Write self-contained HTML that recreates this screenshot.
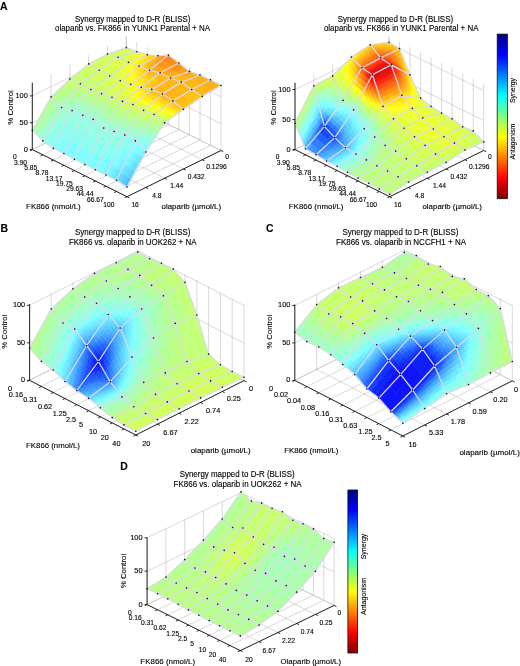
<!DOCTYPE html><html><head><meta charset="utf-8"><title>Figure</title><style>html,body{margin:0;padding:0;background:#fff}svg{display:block}text{font-family:"Liberation Sans",sans-serif;fill:#000;stroke:#000;stroke-width:0.12px}</style></head><body>
<svg width="520" height="666" viewBox="0 0 520 666">
<rect width="520" height="666" fill="#fff"/>
<g>
<path d="M32.3 149.6L126.3 103.4M42.8 154.8L136.8 108.6M53.3 160.1L147.3 113.9M63.9 165.3L157.9 119.1M74.4 170.5L168.4 124.3M84.9 175.8L178.9 129.6M95.4 181L189.4 134.8M106 186.2L200 140M116.5 191.5L210.5 145.3M127 196.7L221 150.5M32.3 149.6L127 196.7M51.1 140.4L145.8 187.5M69.9 131.1L164.6 178.2M88.7 121.9L183.4 169M107.5 112.6L202.2 159.7M126.3 103.4L221 150.5M32.3 149.6L32.3 82.8M51.1 140.4L51.1 73.6M69.9 131.1L69.9 64.3M88.7 121.9L88.7 55.1M107.5 112.6L107.5 45.8M126.3 103.4L126.3 36.6M126.3 103.4L126.3 36.6M136.8 108.6L136.8 41.8M147.3 113.9L147.3 47.1M157.9 119.1L157.9 52.3M168.4 124.3L168.4 57.5M178.9 129.6L178.9 62.8M189.4 134.8L189.4 68M200 140L200 73.2M210.5 145.3L210.5 78.5M221 150.5L221 83.7M32.3 149.6L126.3 103.4M126.3 103.4L221 150.5M32.3 122.8L126.3 76.6M126.3 76.6L221 123.7M32.3 95.9L126.3 49.7M126.3 49.7L221 96.8" stroke="#bfbfbf" stroke-width="0.6" fill="none"/>
<path d="M107.5 54.1L112.8 55.6L122.2 52.6L116.9 50.8ZM88.7 63.9L94 67L103.4 61.3L98.1 59ZM98.1 59L103.4 61.3L112.8 55.6L107.5 54.1ZM79.3 71.5L84.6 74.2L94 67L88.7 63.9ZM84.6 74.2L89.8 77L99.2 70.2L94 67ZM90.9 89.5L96.2 91.6L105.6 84.9L100.3 82.7ZM96.2 91.6L101.5 93.7L110.9 87.2L105.6 84.9ZM101.5 93.7L105 94.9L111.2 90.5L107.7 89.3ZM105 94.9L108.5 96.1L114.7 91.7L111.2 90.5ZM116.6 105.8L118.8 106.8L122.5 101.4L120.4 100.6ZM118.8 106.8L120.9 107.4L124.6 102.1L122.5 101.4ZM120.9 107.4L123 108L126.7 102.7L124.6 102.1ZM123 108L125.1 108.7L128.8 103.3L126.7 102.7ZM125.1 108.7L127.2 109.3L130.9 103.9L128.8 103.3ZM160.1 119.3L161.6 120.5L164.3 118.6L162.8 117.4ZM161.6 120.5L163.1 121.7L165.8 119.8L164.3 118.6ZM145.4 115.7L146.9 116.3L149.6 112.7L148.1 112.1ZM146.9 116.3L148.4 117L151.1 113.3L149.6 112.7ZM148.4 117L149.9 117.6L152.6 113.9L151.1 113.3ZM149.9 117.6L151.4 118.2L154.1 114.5L152.6 113.9ZM151.7 117.8L153 118.9L155.4 115.5L154.1 114.5Z" fill="#ceff64" stroke="#ceff64" stroke-width="0.5"/>
<path d="M116.9 50.8L122.2 52.6L131.6 49.6L126.3 47.6ZM112.8 55.6L118 57.2L127.4 54.5L122.2 52.6ZM94 67L99.2 70.2L108.6 63.7L103.4 61.3ZM103.4 61.3L108.6 63.7L118 57.2L112.8 55.6ZM99.2 70.2L104.5 73.1L113.9 66.4L108.6 63.7ZM89.8 77L95.1 79.8L104.5 73.1L99.2 70.2ZM95.1 79.8L100.3 82.7L109.7 76L104.5 73.1ZM100.3 82.7L105.6 84.9L115 78.3L109.7 76ZM107.7 89.3L111.2 90.5L117.5 86.2L114 85ZM108.5 96.1L112 97.3L118.3 92.9L114.7 91.7ZM112 97.3L114.6 98.3L119.3 95L116.7 94ZM114.6 98.3L117.2 99.4L122 96L119.3 95ZM127.2 109.3L129.3 109.9L133 104.5L130.9 103.9ZM129.9 109L131.7 109.9L134.8 105.5L133 104.5ZM131.7 109.9L133.4 110.8L136.5 106.4L134.8 105.5ZM133.4 110.8L135.2 111.7L138.3 107.4L136.5 106.4ZM135.2 111.7L136.9 112.6L140 108.4L138.3 107.4ZM136.9 112.6L138.7 113.5L141.8 109.3L140 108.4ZM138.7 113.5L140.4 114.4L143.6 110.3L141.8 109.3ZM155.6 115.7L157.1 116.9L159.8 114.9L158.3 113.7ZM157.1 116.9L158.6 118.1L161.3 116.1L159.8 114.9ZM158.6 118.1L160.1 119.3L162.8 117.4L161.3 116.1ZM140.9 113.8L142.4 114.5L145.1 110.9L143.6 110.3ZM142.4 114.5L143.9 115.1L146.6 111.5L145.1 110.9ZM143.9 115.1L145.4 115.7L148.1 112.1L146.6 111.5Z" fill="#d4ff5b" stroke="#d4ff5b" stroke-width="0.5"/>
<path d="M122.2 52.6L127.4 54.5L136.8 51.7L131.6 49.6ZM118 57.2L121.5 58.9L127.8 56.9L124.3 55.4ZM108.6 63.7L113.9 66.4L123.3 59.8L118 57.2ZM104.5 73.1L109.7 76L119.1 69.2L113.9 66.4ZM109.7 76L112.4 77.1L117.1 73.7L114.4 72.6ZM112.4 77.1L115 78.3L119.7 74.8L117.1 73.7ZM105.6 84.9L110.9 87.2L120.3 80.7L115 78.3ZM111.2 90.5L114.7 91.7L121 87.4L117.5 86.2ZM114.7 91.7L118.3 92.9L124.5 88.6L121 87.4ZM116.7 94L119.3 95L124 91.7L121.4 90.8ZM117.2 99.4L119.9 100.4L124.6 96.9L122 96ZM119.9 100.4L122.5 101.4L127.2 97.9L124.6 96.9ZM122.5 101.4L124.6 102.1L128.4 99.2L126.3 98.6ZM124.6 102.1L126.7 102.7L130.5 99.8L128.4 99.2ZM150.6 113.1L152.3 113.8L155.5 111.4L153.7 110.7ZM152.3 113.8L154.1 114.5L157.2 112.2L155.5 111.4ZM154.1 114.5L155.6 115.7L158.3 113.7L156.8 112.5ZM162.8 117.4L164.3 118.6L167 116.6L165.5 115.4ZM164.3 118.6L165.8 119.8L168.5 117.8L167 116.6ZM165.8 119.8L167.3 121L170 119L168.5 117.8Z" fill="#daff51" stroke="#daff51" stroke-width="0.5"/>
<path d="M124.3 55.4L127.8 56.9L134.1 54.8L130.6 53.5ZM121.5 58.9L125 60.7L131.3 58.4L127.8 56.9ZM113.9 66.4L119.1 69.2L128.5 62.4L123.3 59.8ZM114.4 72.6L117.1 73.7L121.8 70.2L119.1 69.2ZM119.1 69.2L121.8 70.2L126.5 66.8L123.8 65.8ZM117.1 73.7L119.7 74.8L124.4 71.3L121.8 70.2ZM115 78.3L117.6 79.5L122.3 75.9L119.7 74.8ZM114 85L117.5 86.2L123.8 81.9L120.3 80.7ZM117.5 86.2L121 87.4L127.3 83.1L123.8 81.9ZM119.3 95L122 96L126.7 92.6L124 91.7ZM122 96L124.6 96.9L129.3 93.5L126.7 92.6ZM126.7 102.7L128.8 103.3L132.6 100.3L130.5 99.8ZM128.8 103.3L130.9 103.9L134.7 100.9L132.6 100.3ZM130.9 103.9L133 104.5L136.8 101.5L134.7 100.9ZM133 104.5L135.1 105.7L138.9 102.6L136.8 101.5ZM135.1 105.7L137.2 106.8L141 103.7L138.9 102.6ZM137.2 106.8L139.3 108L143.1 104.8L141 103.7ZM139.3 108L141.5 109.1L145.2 105.9L143.1 104.8ZM141.5 109.1L143.6 110.3L147.3 107.1L145.2 105.9ZM143.6 110.3L145.3 111L148.4 108.4L146.7 107.6ZM145.3 111L147.1 111.7L150.2 109.1L148.4 108.4ZM147.1 111.7L148.8 112.4L151.9 109.9L150.2 109.1ZM148.8 112.4L150.6 113.1L153.7 110.7L151.9 109.9ZM159.8 114.9L161.3 116.1L164 114.2L162.5 113ZM161.3 116.1L162.8 117.4L165.5 115.4L164 114.2Z" fill="#e0ff48" stroke="#e0ff48" stroke-width="0.5"/>
<path d="M130.6 53.5L134.1 54.8L140.3 52.7L136.8 51.7ZM127.8 56.9L131.3 58.4L137.6 56.1L134.1 54.8ZM125 60.7L128.5 62.4L134.8 59.9L131.3 58.4ZM123.8 65.8L126.5 66.8L131.2 63.3L128.5 62.4ZM119.7 74.8L122.3 75.9L127 72.3L124.4 71.3ZM117.6 79.5L120.3 80.7L125 77L122.3 75.9ZM120.3 80.7L122.4 81.4L126.1 78.5L124 77.7ZM122.4 81.4L124.5 82.1L128.2 79.2L126.1 78.5ZM121 87.4L124.5 88.6L130.8 84.3L127.3 83.1ZM121.4 90.8L124 91.7L128.7 88.4L126.1 87.5ZM124 91.7L126.7 92.6L131.4 89.2L128.7 88.4ZM124.6 96.9L127.2 97.9L131.9 94.4L129.3 93.5ZM126.3 98.6L128.4 99.2L132.1 96.3L130 95.8ZM128.4 99.2L130.5 99.8L134.2 96.9L132.1 96.3ZM156.8 112.5L158.3 113.7L161 111.8L159.4 110.6ZM158.3 113.7L159.8 114.9L162.5 113L161 111.8ZM167 116.6L168.5 117.8L171.2 115.9L169.7 114.7ZM168.5 117.8L170 119L172.7 117.1L171.2 115.9Z" fill="#e7ff3d" stroke="#e7ff3d" stroke-width="0.5"/>
<path d="M134.1 54.8L137.6 56.1L143.8 53.8L140.3 52.7ZM128.5 62.4L130.6 63.2L134.4 61.5L132.3 60.9ZM121.8 70.2L124.4 71.3L129.1 67.8L126.5 66.8ZM122.3 75.9L125 77L129.7 73.4L127 72.3ZM124 77.7L126.1 78.5L129.9 75.6L127.8 74.8ZM124.5 82.1L126.6 82.8L130.3 80L128.2 79.2ZM126.6 82.8L128.7 83.6L132.4 80.7L130.3 80ZM126.1 87.5L128.7 88.4L133.4 85.1L130.8 84.3ZM126.7 92.6L129.3 93.5L134 90L131.4 89.2ZM130.5 99.8L132.6 100.3L136.3 97.4L134.2 96.9ZM132.6 100.3L134.7 100.9L138.4 97.9L136.3 97.4ZM146.7 107.6L148.4 108.4L151.6 105.7L149.8 104.9ZM148.4 108.4L150.2 109.1L153.3 106.6L151.6 105.7ZM150.2 109.1L151.9 109.9L155.1 107.4L153.3 106.6ZM151.9 109.9L153.7 110.7L156.8 108.3L155.1 107.4ZM153.7 110.7L155.5 111.4L158.6 109.1L156.8 108.3ZM155.5 111.4L157.2 112.2L160.3 109.9L158.6 109.1ZM162.5 113L164 114.2L166.6 112.3L165.1 111.1ZM164 114.2L165.5 115.4L168.1 113.5L166.6 112.3ZM165.5 115.4L167 116.6L169.7 114.7L168.1 113.5Z" fill="#eeff33" stroke="#eeff33" stroke-width="0.5"/>
<path d="M131.3 58.4L134.8 59.9L141.1 57.3L137.6 56.1ZM132.3 60.9L134.4 61.5L138.2 59.9L136.1 59.4ZM130.6 63.2L132.8 63.9L136.5 62.1L134.4 61.5ZM126.5 66.8L129.1 67.8L133.8 64.2L131.2 63.3ZM124.4 71.3L127 72.3L131.7 68.7L129.1 67.8ZM126.1 78.5L128.2 79.2L132 76.3L129.9 75.6ZM128.7 83.6L130.8 84.3L134.5 81.5L132.4 80.7ZM128.7 88.4L131.4 89.2L136.1 85.8L133.4 85.1ZM129.3 93.5L131.9 94.4L136.6 90.9L134 90ZM130 95.8L132.1 96.3L135.9 93.5L133.8 93ZM132.1 96.3L134.2 96.9L138 94L135.9 93.5ZM134.7 100.9L136.8 101.5L140.6 98.5L138.4 97.9ZM136.8 101.5L138.9 102.6L142.7 99.5L140.6 98.5ZM138.9 102.6L141 103.7L144.8 100.6L142.7 99.5ZM141 103.7L143.1 104.8L146.9 101.7L144.8 100.6ZM143.1 104.8L145.2 105.9L149 102.7L146.9 101.7ZM145.2 105.9L147.3 107.1L151.1 103.8L149 102.7ZM159.4 110.6L161 111.8L163.6 109.9L162.1 108.7ZM161 111.8L162.5 113L165.1 111.1L163.6 109.9ZM171.2 115.9L172.7 117.1L175.3 115.2L173.8 114Z" fill="#f6ff28" stroke="#f6ff28" stroke-width="0.5"/>
<path d="M137.6 56.1L141.1 57.3L147.3 54.8L143.8 53.8ZM136.1 59.4L138.2 59.9L141.9 58.3L139.8 57.8ZM134.4 61.5L136.5 62.1L140.3 60.4L138.2 59.9ZM129.1 67.8L131.7 68.7L136.4 65.1L133.8 64.2ZM127 72.3L129.7 73.4L134.4 69.7L131.7 68.7ZM127.8 74.8L129.9 75.6L133.7 72.7L131.5 71.9ZM128.2 79.2L130.3 80L134.1 77.1L132 76.3ZM130.3 80L132.4 80.7L136.2 77.9L134.1 77.1ZM130.8 84.3L133.4 85.1L138.1 81.5L135.5 80.8ZM131.4 89.2L134 90L138.7 86.6L136.1 85.8ZM134.2 96.9L136.3 97.4L140.1 94.5L138 94ZM155.1 107.4L156.8 108.3L160 105.9L158.2 104.9ZM156.8 108.3L158.6 109.1L161.7 106.8L160 105.9ZM158.6 109.1L160.3 109.9L163.5 107.7L161.7 106.8ZM166.6 112.3L168.1 113.5L170.8 111.6L169.3 110.3ZM168.1 113.5L169.7 114.7L172.3 112.8L170.8 111.6ZM169.7 114.7L171.2 115.9L173.8 114L172.3 112.8Z" fill="#feff1d" stroke="#feff1d" stroke-width="0.5"/>
<path d="M139.8 57.8L141.9 58.3L145.7 56.6L143.6 56.3ZM138.2 59.9L140.3 60.4L144 58.7L141.9 58.3ZM132.8 63.9L134.9 64.6L138.6 62.8L136.5 62.1ZM131.7 68.7L134.4 69.7L139.1 66L136.4 65.1ZM131.5 71.9L133.7 72.7L137.4 69.8L135.3 69ZM129.9 75.6L132 76.3L135.8 73.5L133.7 72.7ZM132.4 80.7L134.5 81.5L138.3 78.7L136.2 77.9ZM133.4 85.1L136.1 85.8L140.8 82.2L138.1 81.5ZM134 90L136.6 90.9L141.3 87.4L138.7 86.6ZM133.8 93L135.9 93.5L139.7 90.6L137.6 90.2ZM135.9 93.5L138 94L141.8 91.1L139.7 90.6ZM136.3 97.4L138.4 97.9L142.2 94.9L140.1 94.5ZM138.4 97.9L140.6 98.5L144.3 95.4L142.2 94.9ZM149.8 104.9L151.6 105.7L154.7 103.1L153 102.2ZM151.6 105.7L153.3 106.6L156.5 104L154.7 103.1ZM153.3 106.6L155.1 107.4L158.2 104.9L156.5 104ZM162.1 108.7L163.6 109.9L166.3 107.9L164.8 106.7ZM163.6 109.9L165.1 111.1L167.8 109.1L166.3 107.9ZM165.1 111.1L166.6 112.3L169.3 110.3L167.8 109.1ZM173.8 114L175.3 115.2L178 113.2L176.5 112Z" fill="#fff819" stroke="#fff819" stroke-width="0.5"/>
<path d="M143.6 56.3L145.7 56.6L149.4 55L147.3 54.8ZM136.5 62.1L138.6 62.8L142.4 60.9L140.3 60.4ZM134.9 64.6L137 65.3L140.7 63.4L138.6 62.8ZM133.7 72.7L135.8 73.5L139.5 70.6L137.4 69.8ZM132 76.3L134.1 77.1L137.9 74.3L135.8 73.5ZM134.1 77.1L136.2 77.9L140 75L137.9 74.3ZM136.1 85.8L138.7 86.6L143.4 83L140.8 82.2ZM138 94L140.1 94.5L143.9 91.5L141.8 91.1ZM140.6 98.5L142.7 99.5L146.4 96.5L144.3 95.4ZM142.7 99.5L144.8 100.6L148.5 97.5L146.4 96.5ZM144.8 100.6L146.9 101.7L150.6 98.5L148.5 97.5ZM146.9 101.7L149 102.7L152.7 99.5L150.6 98.5ZM149 102.7L151.1 103.8L154.8 100.6L152.7 99.5ZM169.3 110.3L170.8 111.6L173.5 109.6L172 108.4ZM170.8 111.6L172.3 112.8L175 110.8L173.5 109.6ZM172.3 112.8L173.8 114L176.5 112L175 110.8Z" fill="#fff019" stroke="#fff019" stroke-width="0.5"/>
<path d="M141.9 58.3L144 58.7L147.8 56.9L145.7 56.6ZM140.3 60.4L142.4 60.9L146.1 59.1L144 58.7ZM138.6 62.8L140.7 63.4L144.5 61.4L142.4 60.9ZM137 65.3L139.1 66L142.8 64L140.7 63.4ZM135.3 69L137.4 69.8L141.2 66.9L139.1 66ZM135.8 73.5L137.9 74.3L141.6 71.4L139.5 70.6ZM136.2 77.9L138.3 78.7L142.1 75.8L140 75ZM135.5 80.8L138.1 81.5L142.8 77.9L140.2 77.2ZM138.1 81.5L140.8 82.2L145.4 78.7L142.8 77.9ZM138.7 86.6L141.3 87.4L146 83.7L143.4 83ZM137.6 90.2L139.7 90.6L143.4 87.8L141.3 87.4ZM139.7 90.6L141.8 91.1L145.5 88.2L143.4 87.8ZM140.1 94.5L142.2 94.9L146 92L143.9 91.5ZM153 102.2L154.7 103.1L157.8 100.5L156.1 99.5ZM154.7 103.1L156.5 104L159.6 101.5L157.8 100.5ZM156.5 104L158.2 104.9L161.3 102.5L159.6 101.5ZM158.2 104.9L160 105.9L163.1 103.4L161.3 102.5ZM160 105.9L161.7 106.8L164.9 104.4L163.1 103.4ZM161.7 106.8L163.5 107.7L166.6 105.4L164.9 104.4ZM164.8 106.7L166.3 107.9L169 106L167.5 104.8ZM166.3 107.9L167.8 109.1L170.5 107.2L169 106ZM167.8 109.1L169.3 110.3L172 108.4L170.5 107.2Z" fill="#ffe718" stroke="#ffe718" stroke-width="0.5"/>
<path d="M145.7 56.6L147.8 56.9L151.6 55.2L149.4 55ZM144 58.7L146.1 59.1L149.9 57.2L147.8 56.9ZM142.4 60.9L144.5 61.4L148.2 59.5L146.1 59.1ZM140.7 63.4L142.8 64L146.6 61.9L144.5 61.4ZM139.1 66L141.2 66.9L144.9 64.6L142.8 64ZM137.4 69.8L139.5 70.6L143.3 67.7L141.2 66.9ZM137.9 74.3L140 75L143.7 72.2L141.6 71.4ZM140.8 82.2L143.4 83L148.1 79.4L145.4 78.7ZM141.8 91.1L143.9 91.5L147.6 88.6L145.5 88.2ZM142.2 94.9L144.3 95.4L148.1 92.4L146 92ZM144.3 95.4L146.4 96.5L150.2 93.4L148.1 92.4ZM146.4 96.5L148.5 97.5L152.3 94.4L150.2 93.4ZM148.5 97.5L150.6 98.5L154.4 95.4L152.3 94.4ZM173.5 109.6L175 110.8L177.7 108.9L176.2 107.7ZM175 110.8L176.5 112L179.2 110.1L177.7 108.9ZM176.5 112L178 113.2L180.7 111.3L179.2 110.1Z" fill="#ffde18" stroke="#ffde18" stroke-width="0.5"/>
<path d="M147.8 56.9L149.9 57.2L153.7 55.4L151.6 55.2ZM146.1 59.1L148.2 59.5L152 57.5L149.9 57.2ZM144.5 61.4L146.6 61.9L150.3 59.9L148.2 59.5ZM142.8 64L144.9 64.6L148.7 62.4L146.6 61.9ZM141.2 66.9L143.3 67.7L147 65.3L144.9 64.6ZM139.5 70.6L141.6 71.4L145.4 68.5L143.3 67.7ZM140 75L142.1 75.8L145.8 73L143.7 72.2ZM140.2 77.2L142.8 77.9L147.5 74.4L144.9 73.7ZM143.4 83L146 83.7L150.7 80.1L148.1 79.4ZM141.3 87.4L144.8 88L151.1 83.5L147.6 82.5ZM143.9 91.5L146 92L149.7 89L147.6 88.6ZM150.6 98.5L152.7 99.5L156.5 96.3L154.4 95.4ZM152.7 99.5L154.8 100.6L158.6 97.3L156.5 96.3ZM156.1 99.5L157.8 100.5L161 97.8L159.2 96.8ZM157.8 100.5L159.6 101.5L162.7 98.9L161 97.8ZM159.6 101.5L161.3 102.5L164.5 100L162.7 98.9ZM161.3 102.5L163.1 103.4L166.2 101L164.5 100ZM163.1 103.4L164.9 104.4L168 102.1L166.2 101ZM164.9 104.4L166.6 105.4L169.7 103.2L168 102.1ZM169 106L170.5 107.2L173.2 105.3L171.7 104.1ZM170.5 107.2L172 108.4L174.7 106.5L173.2 105.3ZM172 108.4L173.5 109.6L176.2 107.7L174.7 106.5Z" fill="#ffd518" stroke="#ffd518" stroke-width="0.5"/>
<path d="M149.9 57.2L152 57.5L155.8 55.5L153.7 55.4ZM141.6 71.4L143.7 72.2L147.5 69.4L145.4 68.5ZM142.8 77.9L145.4 78.7L150.2 75.1L147.5 74.4ZM145.4 78.7L148.1 79.4L152.8 75.7L150.2 75.1ZM147.6 82.5L151.1 83.5L157.4 79L153.8 77.6ZM144.8 88L148.3 88.7L154.6 84.6L151.1 83.5ZM146 92L148.1 92.4L151.8 89.4L149.7 89ZM167.5 104.8L169 106L171.7 104.1L170.2 102.9ZM177.7 108.9L179.2 110.1L181.9 108.2L180.4 107ZM179.2 110.1L180.7 111.3L183.4 109.4L181.9 108.2Z" fill="#ffcc17" stroke="#ffcc17" stroke-width="0.5"/>
<path d="M148.2 59.5L150.3 59.9L154.1 57.8L152 57.5ZM146.6 61.9L148.7 62.4L152.5 60.1L150.3 59.9ZM144.9 64.6L147 65.3L150.8 62.8L148.7 62.4ZM143.3 67.7L145.4 68.5L149.1 65.9L147 65.3ZM143.7 72.2L145.8 73L149.6 70.2L147.5 69.4ZM148.1 79.4L150.7 80.1L155.4 76.4L152.8 75.7ZM151.1 83.5L154.6 84.6L160.9 80.4L157.4 79ZM148.3 88.7L151.8 89.4L158.1 85.6L154.6 84.6ZM148.1 92.4L150.2 93.4L153.9 90.3L151.8 89.4ZM150.2 93.4L152.3 94.4L156 91.3L153.9 90.3ZM152.3 94.4L154.4 95.4L158.1 92.2L156 91.3ZM154.4 95.4L156.5 96.3L160.3 93.1L158.1 92.2ZM182.3 95.2L187.5 99L196.9 93L191.7 89.5ZM178.1 105.1L183.4 109.4L192.8 102.9L187.5 99ZM187.5 99L192.8 102.9L202.2 96.4L196.9 93ZM171.7 104.1L173.2 105.3L175.9 103.3L174.4 102.1ZM173.2 105.3L174.7 106.5L177.4 104.5L175.9 103.3ZM174.7 106.5L176.2 107.7L178.9 105.7L177.4 104.5ZM176.2 107.7L177.7 108.9L180.4 107L178.9 105.7Z" fill="#ffc217" stroke="#ffc217" stroke-width="0.5"/>
<path d="M152 57.5L154.1 57.8L157.9 55.7L155.8 55.5ZM150.3 59.9L152.5 60.1L156.2 57.9L154.1 57.8ZM148.7 62.4L150.8 62.8L154.6 60.4L152.5 60.1ZM147 65.3L149.1 65.9L152.9 63.3L150.8 62.8ZM145.4 68.5L147.5 69.4L151.2 66.5L149.1 65.9ZM144.9 73.7L147.5 74.4L152.2 70.8L149.6 70.2ZM147.5 74.4L150.2 75.1L154.9 71.5L152.2 70.8ZM150.2 75.1L152.8 75.7L157.5 72.1L154.9 71.5ZM152.8 75.7L155.4 76.4L160.1 72.8L157.5 72.1ZM170.6 78L175.9 80.1L185.3 76.7L180 74.7ZM175.9 80.1L181.2 82.1L190.6 78.6L185.3 76.7ZM153.8 77.6L157.4 79L163.6 74.5L160.1 72.8ZM157.4 79L160.9 80.4L167.1 76.2L163.6 74.5ZM154.6 84.6L158.1 85.6L164.4 81.8L160.9 80.4ZM160.9 80.4L164.4 81.8L170.6 78L167.1 76.2ZM181.2 82.1L186.4 85.8L195.8 81.6L190.6 78.6ZM186.4 85.8L191.7 89.5L201.1 84.6L195.8 81.6ZM151.8 89.4L157.1 91.7L166.5 85.9L161.2 83.7ZM161.2 83.7L166.5 85.9L175.9 80.1L170.6 78ZM157.1 91.7L162.4 94.1L171.8 88.1L166.5 85.9ZM166.5 85.9L171.8 88.1L181.2 82.1L175.9 80.1ZM191.7 89.5L196.9 93L206.3 87.8L201.1 84.6ZM196.9 93L202.2 96.4L211.6 90.9L206.3 87.8ZM171.8 88.1L177 91.7L186.4 85.8L181.2 82.1ZM167.6 97.5L172.9 100.9L182.3 95.2L177 91.7ZM177 91.7L182.3 95.2L191.7 89.5L186.4 85.8ZM156.5 96.3L158.6 97.3L162.4 94.1L160.3 93.1ZM172.9 100.9L178.1 105.1L187.5 99L182.3 95.2ZM159.2 96.8L161 97.8L164.1 95.2L162.4 94.1ZM161 97.8L162.7 98.9L165.9 96.4L164.1 95.2ZM162.7 98.9L164.5 100L167.6 97.5L165.9 96.4ZM164.5 100L166.2 101L169.4 98.6L167.6 97.5ZM166.2 101L168 102.1L171.1 99.8L169.4 98.6ZM168 102.1L169.7 103.2L172.9 100.9L171.1 99.8ZM170.2 102.9L171.7 104.1L174.4 102.1L172.9 100.9Z" fill="#ffb916" stroke="#ffb916" stroke-width="0.5"/>
<path d="M154.1 57.8L156.2 57.9L160 55.6L157.9 55.7ZM152.5 60.1L154.6 60.4L158.3 57.9L156.2 57.9ZM150.8 62.8L152.9 63.3L156.7 60.6L154.6 60.4ZM149.1 65.9L151.2 66.5L155 63.7L152.9 63.3ZM147.5 69.4L149.6 70.2L153.3 67.2L151.2 66.5ZM165.4 75.4L170.6 78L180 74.7L174.8 71.3ZM185.3 76.7L190.6 78.6L200 75.1L194.7 73.2ZM190.6 78.6L195.8 81.6L205.2 77.4L200 75.1ZM195.8 81.6L201.1 84.6L210.5 79.8L205.2 77.4ZM201.1 84.6L206.3 87.8L215.7 82.6L210.5 79.8ZM206.3 87.8L211.6 90.9L221 85.5L215.7 82.6ZM162.4 94.1L167.6 97.5L177 91.7L171.8 88.1Z" fill="#ffb016" stroke="#ffb016" stroke-width="0.5"/>
<path d="M156.2 57.9L158.3 57.9L162.1 55.5L160 55.6ZM154.6 60.4L156.7 60.6L160.4 58L158.3 57.9ZM152.9 63.3L155 63.7L158.8 60.9L156.7 60.6ZM151.2 66.5L153.3 67.2L157.1 64.1L155 63.7ZM149.6 70.2L153.1 71.1L159.4 66.6L155.9 65.2ZM153.1 71.1L156.6 71.9L162.9 68.1L159.4 66.6ZM156.6 71.9L160.1 72.8L166.4 69.5L162.9 68.1ZM160.1 72.8L165.4 75.4L174.8 71.3L169.5 67.9ZM180 74.7L185.3 76.7L194.7 73.2L189.4 71.4Z" fill="#ffa616" stroke="#ffa616" stroke-width="0.5"/>
<path d="M158.3 57.9L160.4 58L164.2 55.3L162.1 55.5ZM156.7 60.6L158.8 60.9L162.5 58L160.4 58ZM155 63.7L157.1 64.1L160.9 61.1L158.8 60.9ZM162.9 68.1L166.4 69.5L172.6 66.2L169.1 64.2ZM174.8 71.3L180 74.7L189.4 71.4L184.2 67.2Z" fill="#ff9d15" stroke="#ff9d15" stroke-width="0.5"/>
<path d="M160.4 58L162.5 58L166.3 55.2L164.2 55.3ZM158.8 60.9L160.9 61.1L164.6 58.1L162.5 58ZM165.6 62.2L169.1 64.2L175.4 60.3L171.9 57.7ZM169.1 64.2L172.6 66.2L178.9 63L175.4 60.3Z" fill="#ff8a14" stroke="#ff8a14" stroke-width="0.5"/>
<path d="M162.5 58L164.6 58.1L168.4 55.1L166.3 55.2ZM162.1 60.1L165.6 62.2L171.9 57.7L168.4 55.1Z" fill="#ff8014" stroke="#ff8014" stroke-width="0.5"/>
<path d="M69.9 79L75.2 81.4L84.6 74.2L79.3 71.5ZM75.2 81.4L80.4 83.7L89.8 77L84.6 74.2ZM80.4 83.7L85.7 86.6L95.1 79.8L89.8 77ZM85.7 86.6L90.9 89.5L100.3 82.7L95.1 79.8ZM63.6 85L67.1 87.2L73.4 80.6L69.9 79ZM104 100.2L106.1 101L109.9 96.6L107.8 95.8ZM106.1 101L108.2 101.7L112 97.3L109.9 96.6ZM108.2 101.7L110.3 102.7L114.1 98.1L112 97.3ZM110.3 102.7L112.4 103.7L116.2 98.9L114.1 98.1ZM112.4 103.7L114.5 104.7L118.3 99.8L116.2 98.9ZM114.5 104.7L116.6 105.8L120.4 100.6L118.3 99.8ZM163.1 121.7L164.6 122.9L167.3 121L165.8 119.8ZM138.2 117.4L139.7 118L142.4 114.5L140.9 113.8ZM139.7 118L141.2 118.7L143.9 115.1L142.4 114.5ZM153 118.9L154.4 120L156.7 116.6L155.4 115.5ZM154.4 120L155.7 121.1L158 117.6L156.7 116.6ZM155.7 121.1L157 122.2L159.3 118.7L158 117.6Z" fill="#c8ff6f" stroke="#c8ff6f" stroke-width="0.5"/>
<path d="M155.9 65.2L159.4 66.6L165.6 62.2L162.1 60.1ZM159.4 66.6L162.9 68.1L169.1 64.2L165.6 62.2ZM169.5 67.9L174.8 71.3L184.2 67.2L178.9 63Z" fill="#ff9315" stroke="#ff9315" stroke-width="0.5"/>
<path d="M51.1 96.9L54.6 100.4L60.9 93.8L57.4 90.9ZM71 95.6L73.7 96.7L78.4 90.9L75.7 89.7ZM73.7 96.7L76.3 97.8L81 92.2L78.4 90.9ZM46.4 105.2L49 107.9L53.7 99.5L51.1 96.9ZM93.9 102.3L96.1 103.1L99.8 98.7L97.7 98ZM96.1 103.1L98.2 103.8L101.9 99.5L99.8 98.7ZM98.2 103.8L100.3 104.6L104 100.2L101.9 99.5ZM100.3 104.6L102.4 105.4L106.1 101L104 100.2ZM102.4 105.4L104.5 106.1L108.2 101.7L106.1 101ZM104.5 106.1L106.6 107.3L110.3 102.7L108.2 101.7ZM123.6 118L125.4 118.8L128.5 114.4L126.8 113.5ZM125.4 118.8L127.1 119.6L130.3 115.2L128.5 114.4ZM127.1 119.6L128.9 120.4L132 116L130.3 115.2ZM128.9 120.4L130.6 121.1L133.8 116.9L132 116ZM130.6 121.1L132.4 121.9L135.5 117.7L133.8 116.9ZM132.4 121.9L134.2 122.7L137.3 118.6L135.5 117.7ZM137 121.6L138.5 122.3L141.2 118.7L139.7 118ZM138.5 122.3L140 123L142.7 119.4L141.2 118.7ZM140 123L141.5 123.7L144.2 120L142.7 119.4ZM141.5 123.7L143 124.4L145.7 120.7L144.2 120ZM143 124.4L144.5 125.1L147.2 121.3L145.7 120.7ZM147 124.4L148.3 125.5L150.7 122.2L149.4 121.1ZM154.6 125.6L156 126.8L158.3 123.3L157 122.2ZM156 126.8L157.3 127.9L159.6 124.3L158.3 123.3Z" fill="#b9ff8d" stroke="#b9ff8d" stroke-width="0.5"/>
<path d="M57.4 90.9L60.9 93.8L67.1 87.2L63.6 85ZM60.9 93.8L64.4 96.7L70.6 89.4L67.1 87.2ZM106.6 107.3L108.7 108.5L112.4 103.7L110.3 102.7ZM108.7 108.5L110.8 109.7L114.5 104.7L112.4 103.7ZM110.8 109.7L112.9 110.9L116.6 105.8L114.5 104.7ZM112.9 110.9L115 112.1L118.8 106.8L116.6 105.8ZM115 112.1L117.1 112.8L120.9 107.4L118.8 106.8ZM117.1 112.8L119.2 113.4L123 108L120.9 107.4ZM119.2 113.4L121.3 114L125.1 108.7L123 108ZM135.5 120.9L137 121.6L139.7 118L138.2 117.4ZM150.7 122.2L152 123.3L154.4 120L153 118.9ZM152 123.3L153.3 124.5L155.7 121.1L154.4 120ZM153.3 124.5L154.6 125.6L157 122.2L155.7 121.1ZM160.9 125.4L162.2 126.5L164.6 122.9L163.3 121.9Z" fill="#beff83" stroke="#beff83" stroke-width="0.5"/>
<path d="M54.6 100.4L58.1 103.9L64.4 96.7L60.9 93.8ZM64.4 96.7L67.9 99.6L74.2 91.6L70.6 89.4ZM76.3 97.8L78.9 98.9L83.6 93.5L81 92.2ZM78.9 98.9L81.5 100L86.2 94.8L83.6 93.5ZM37 121.9L39.6 124.6L44.3 116.2L41.7 113.6ZM41.7 113.6L44.3 116.2L49 107.9L46.4 105.2ZM81.5 100L84.2 101.1L88.9 95.8L86.2 94.8ZM84.2 101.1L86.8 102.2L91.5 96.9L88.9 95.8ZM86.8 102.2L89.4 103.3L94.1 98L91.5 96.9ZM89.4 103.3L92.1 104.5L96.8 99.1L94.1 98ZM111.2 117.5L113.3 118.1L117.1 112.8L115 112.1ZM113.3 118.1L115.4 118.8L119.2 113.4L117.1 112.8ZM115.4 118.8L117.5 119.4L121.3 114L119.2 113.4ZM117.5 119.4L119.6 120.1L123.4 114.7L121.3 114ZM119.6 120.1L121.8 120.7L125.5 115.3L123.4 114.7ZM144.5 125.1L146 125.8L148.7 122L147.2 121.3ZM148.3 125.5L149.7 126.7L152 123.3L150.7 122.2ZM149.7 126.7L151 127.9L153.3 124.5L152 123.3ZM151 127.9L152.3 129.1L154.6 125.6L153.3 124.5ZM157.3 127.9L158.6 129L160.9 125.4L159.6 124.3ZM158.6 129L159.9 130.2L162.2 126.5L160.9 125.4Z" fill="#b4ff97" stroke="#b4ff97" stroke-width="0.5"/>
<path d="M67.1 87.2L70.6 89.4L76.9 82.2L73.4 80.6ZM70.6 89.4L74.2 91.6L80.4 83.7L76.9 82.2ZM75.7 89.7L78.4 90.9L83.1 85.2L80.4 83.7ZM78.4 90.9L81 92.2L85.7 86.6L83.1 85.2ZM81 92.2L83.6 93.5L88.3 88.1L85.7 86.6ZM83.6 93.5L86.2 94.8L90.9 89.5L88.3 88.1ZM86.2 94.8L88.9 95.8L93.6 90.5L90.9 89.5ZM88.9 95.8L91.5 96.9L96.2 91.6L93.6 90.5ZM91.5 96.9L94.1 98L98.8 92.6L96.2 91.6ZM94.1 98L96.8 99.1L101.5 93.7L98.8 92.6ZM97.7 98L99.8 98.7L103.6 94.4L101.5 93.7ZM99.8 98.7L101.9 99.5L105.7 95.1L103.6 94.4ZM101.9 99.5L104 100.2L107.8 95.8L105.7 95.1ZM121.3 114L123.4 114.7L127.2 109.3L125.1 108.7ZM123.4 114.7L125.5 115.3L129.3 109.9L127.2 109.3ZM126.8 113.5L128.5 114.4L131.7 109.9L129.9 109ZM128.5 114.4L130.3 115.2L133.4 110.8L131.7 109.9ZM130.3 115.2L132 116L135.2 111.7L133.4 110.8ZM132 116L133.8 116.9L136.9 112.6L135.2 111.7ZM133.8 116.9L135.5 117.7L138.7 113.5L136.9 112.6ZM135.5 117.7L137.3 118.6L140.4 114.4L138.7 113.5ZM141.2 118.7L142.7 119.4L145.4 115.7L143.9 115.1ZM142.7 119.4L144.2 120L146.9 116.3L145.4 115.7ZM144.2 120L145.7 120.7L148.4 117L146.9 116.3ZM145.7 120.7L147.2 121.3L149.9 117.6L148.4 117ZM147.2 121.3L148.7 122L151.4 118.2L149.9 117.6ZM149.4 121.1L150.7 122.2L153 118.9L151.7 117.8ZM157 122.2L158.3 123.3L160.7 119.7L159.3 118.7ZM158.3 123.3L159.6 124.3L162 120.8L160.7 119.7ZM159.6 124.3L160.9 125.4L163.3 121.9L162 120.8Z" fill="#c3ff79" stroke="#c3ff79" stroke-width="0.5"/>
<path d="M58.1 103.9L61.6 107.5L67.9 99.6L64.4 96.7ZM69 102.5L71.6 103.4L76.3 97.8L73.7 96.7ZM71.6 103.4L74.2 104.3L78.9 98.9L76.3 97.8ZM39.6 124.6L42.3 127.2L47 118.9L44.3 116.2ZM51.7 110.5L54.3 113.2L59 104.8L56.4 102.2ZM125.8 124.7L127.5 125.4L130.6 121.1L128.9 120.4ZM127.5 125.4L129.3 126.1L132.4 121.9L130.6 121.1ZM129.3 126.1L131 126.8L134.2 122.7L132.4 121.9ZM140.3 128.1L141.8 128.8L144.5 125.1L143 124.4ZM141.8 128.8L143.3 129.6L146 125.8L144.5 125.1ZM146 128.9L147.3 130.1L149.7 126.7L148.3 125.5ZM147.3 130.1L148.6 131.3L151 127.9L149.7 126.7ZM154.9 131.5L156.2 132.6L158.6 129L157.3 127.9ZM156.2 132.6L157.6 133.8L159.9 130.2L158.6 129Z" fill="#abffad" stroke="#abffad" stroke-width="0.5"/>
<path d="M61.6 107.5L64.3 108.2L69 102.5L66.3 101.5ZM74.2 104.3L76.8 105.3L81.5 100L78.9 98.9ZM34.9 132.9L37.6 135.6L42.3 127.2L39.6 124.6ZM47 118.9L49.6 121.5L54.3 113.2L51.7 110.5ZM76.8 105.3L79.5 106.4L84.2 101.1L81.5 100ZM79.5 106.4L82.1 107.6L86.8 102.2L84.2 101.1ZM82.1 107.6L84.7 108.7L89.4 103.3L86.8 102.2ZM84.7 108.7L87.4 109.9L92.1 104.5L89.4 103.3ZM92.7 113.4L94.8 114.2L98.6 109.8L96.5 109ZM94.8 114.2L96.9 115L100.7 110.6L98.6 109.8ZM96.9 115L99.1 116.5L102.8 111.9L100.7 110.6ZM99.1 116.5L101.2 118.1L104.9 113.3L102.8 111.9ZM101.2 118.1L103.3 119.7L107 114.7L104.9 113.3ZM103.3 119.7L105.4 121.2L109.1 116.1L107 114.7ZM105.4 121.2L107.5 122.8L111.2 117.5L109.1 116.1ZM107.5 122.8L109.6 123.5L113.3 118.1L111.2 117.5ZM109.6 123.5L111.7 124.1L115.4 118.8L113.3 118.1ZM111.7 124.1L113.8 124.8L117.5 119.4L115.4 118.8ZM113.8 124.8L115.9 125.4L119.6 120.1L117.5 119.4ZM115.9 125.4L118 126.1L121.8 120.7L119.6 120.1ZM130.1 128L131.6 128.8L134.3 125.2L132.8 124.5ZM131.6 128.8L133.1 129.5L135.8 125.9L134.3 125.2ZM133.1 129.5L134.6 130.3L137.3 126.7L135.8 125.9ZM134.6 130.3L136.1 131.1L138.8 127.4L137.3 126.7ZM142.3 131L143.6 132.2L146 128.9L144.7 127.7ZM148.6 131.3L149.9 132.6L152.3 129.1L151 127.9ZM149.9 132.6L151.3 133.8L153.6 130.3L152.3 129.1ZM151.3 133.8L152.6 135L154.9 131.5L153.6 130.3Z" fill="#a8ffb7" stroke="#a8ffb7" stroke-width="0.5"/>
<path d="M66.3 101.5L69 102.5L73.7 96.7L71 95.6ZM32.3 130.3L34.9 132.9L39.6 124.6L37 121.9ZM44.3 116.2L47 118.9L51.7 110.5L49 107.9ZM49 107.9L51.7 110.5L56.4 102.2L53.7 99.5ZM90.2 106.6L92.3 107.4L96.1 103.1L93.9 102.3ZM92.3 107.4L94.4 108.2L98.2 103.8L96.1 103.1ZM94.4 108.2L96.5 109L100.3 104.6L98.2 103.8ZM96.5 109L98.6 109.8L102.4 105.4L100.3 104.6ZM98.6 109.8L100.7 110.6L104.5 106.1L102.4 105.4ZM100.7 110.6L102.8 111.9L106.6 107.3L104.5 106.1ZM102.8 111.9L104.9 113.3L108.7 108.5L106.6 107.3ZM104.9 113.3L107 114.7L110.8 109.7L108.7 108.5ZM107 114.7L109.1 116.1L112.9 110.9L110.8 109.7ZM109.1 116.1L111.2 117.5L115 112.1L112.9 110.9ZM120.5 122.5L122.3 123.2L125.4 118.8L123.6 118ZM122.3 123.2L124 123.9L127.1 119.6L125.4 118.8ZM124 123.9L125.8 124.7L128.9 120.4L127.1 119.6ZM132.8 124.5L134.3 125.2L137 121.6L135.5 120.9ZM134.3 125.2L135.8 125.9L138.5 122.3L137 121.6ZM135.8 125.9L137.3 126.7L140 123L138.5 122.3ZM137.3 126.7L138.8 127.4L141.5 123.7L140 123ZM138.8 127.4L140.3 128.1L143 124.4L141.5 123.7ZM144.7 127.7L146 128.9L148.3 125.5L147 124.4ZM152.3 129.1L153.6 130.3L156 126.8L154.6 125.6ZM153.6 130.3L154.9 131.5L157.3 127.9L156 126.8Z" fill="#b0ffa2" stroke="#b0ffa2" stroke-width="0.5"/>
<path d="M64.3 108.2L66.9 109L71.6 103.4L69 102.5ZM42.3 127.2L44.9 129.9L49.6 121.5L47 118.9ZM54.3 113.2L56.9 115.8L61.6 107.5L59 104.8ZM86.4 110.9L88.5 111.7L92.3 107.4L90.2 106.6ZM88.5 111.7L90.6 112.6L94.4 108.2L92.3 107.4ZM90.6 112.6L92.7 113.4L96.5 109L94.4 108.2ZM117.4 127L119.1 127.7L122.3 123.2L120.5 122.5ZM119.1 127.7L120.9 128.3L124 123.9L122.3 123.2ZM120.9 128.3L122.6 129L125.8 124.7L124 123.9ZM122.6 129L124.4 129.6L127.5 125.4L125.8 124.7ZM124.4 129.6L126.1 130.3L129.3 126.1L127.5 125.4ZM126.1 130.3L127.9 131L131 126.8L129.3 126.1ZM136.1 131.1L137.6 131.8L140.3 128.1L138.8 127.4ZM137.6 131.8L139.1 132.6L141.8 128.8L140.3 128.1ZM139.1 132.6L140.6 133.3L143.3 129.6L141.8 128.8ZM143.6 132.2L145 133.5L147.3 130.1L146 128.9ZM145 133.5L146.3 134.8L148.6 131.3L147.3 130.1ZM152.6 135L153.9 136.2L156.2 132.6L154.9 131.5ZM153.9 136.2L155.2 137.5L157.6 133.8L156.2 132.6Z" fill="#a4ffc1" stroke="#a4ffc1" stroke-width="0.5"/>
<path d="M66.9 109L69.5 109.8L74.2 104.3L71.6 103.4ZM69.5 109.8L72.1 110.6L76.8 105.3L74.2 104.3ZM37.6 135.6L40.2 138.2L44.9 129.9L42.3 127.2ZM49.6 121.5L52.2 124.2L56.9 115.8L54.3 113.2ZM55.4 118.6L58.9 120.1L65.1 108.5L61.6 107.5ZM127.4 131.6L128.9 132.4L131.6 128.8L130.1 128ZM128.9 132.4L130.4 133.1L133.1 129.5L131.6 128.8ZM130.4 133.1L132 133.9L134.6 130.3L133.1 129.5ZM140 134.3L141.3 135.6L143.6 132.2L142.3 131ZM146.3 134.8L147.6 136L149.9 132.6L148.6 131.3ZM147.6 136L148.9 137.3L151.3 133.8L149.9 132.6ZM148.9 137.3L150.2 138.6L152.6 135L151.3 133.8Z" fill="#a1ffca" stroke="#a1ffca" stroke-width="0.5"/>
<path d="M40.2 138.2L42.8 140.9L47.5 132.5L44.9 129.9ZM49.1 129.7L52.6 131.7L58.9 120.1L55.4 118.6ZM62.4 121.6L65.9 123.1L72.1 110.6L68.6 109.5ZM121.2 133.9L123 134.5L126.1 130.3L124.4 129.6ZM123 134.5L124.8 135.1L127.9 131L126.1 130.3ZM124.8 135.1L126.3 135.9L128.9 132.4L127.4 131.6ZM126.3 135.9L127.8 136.8L130.4 133.1L128.9 132.4ZM137.6 137.6L138.9 138.9L141.3 135.6L140 134.3ZM143.9 138.2L145.2 139.5L147.6 136L146.3 134.8ZM145.2 139.5L146.6 140.8L148.9 137.3L147.6 136Z" fill="#99ffdb" stroke="#99ffdb" stroke-width="0.5"/>
<path d="M44.9 129.9L47.5 132.5L52.2 124.2L49.6 121.5ZM72.1 110.6L74.8 111.7L79.5 106.4L76.8 105.3ZM74.8 111.7L77.4 112.9L82.1 107.6L79.5 106.4ZM77.4 112.9L80 114.1L84.7 108.7L82.1 107.6ZM80 114.1L82.7 115.2L87.4 109.9L84.7 108.7ZM58.9 120.1L62.4 121.6L68.6 109.5L65.1 108.5ZM82.7 115.2L84.8 116.1L88.5 111.7L86.4 110.9ZM84.8 116.1L86.9 116.9L90.6 112.6L88.5 111.7ZM86.9 116.9L89 117.7L92.7 113.4L90.6 112.6ZM89 117.7L91.1 118.6L94.8 114.2L92.7 113.4ZM91.1 118.6L93.2 119.4L96.9 115L94.8 114.2ZM93.2 119.4L95.3 121.2L99.1 116.5L96.9 115ZM95.3 121.2L97.4 122.9L101.2 118.1L99.1 116.5ZM97.4 122.9L99.5 124.6L103.3 119.7L101.2 118.1ZM99.5 124.6L101.6 126.4L105.4 121.2L103.3 119.7ZM101.6 126.4L103.7 128.1L107.5 122.8L105.4 121.2ZM103.7 128.1L105.8 128.8L109.6 123.5L107.5 122.8ZM105.8 128.8L107.9 129.5L111.7 124.1L109.6 123.5ZM107.9 129.5L110 130.1L113.8 124.8L111.7 124.1ZM110 130.1L112.1 130.8L115.9 125.4L113.8 124.8ZM112.1 130.8L114.2 131.5L118 126.1L115.9 125.4ZM114.2 131.5L116 132.1L119.1 127.7L117.4 127ZM116 132.1L117.7 132.7L120.9 128.3L119.1 127.7ZM117.7 132.7L119.5 133.3L122.6 129L120.9 128.3ZM119.5 133.3L121.2 133.9L124.4 129.6L122.6 129ZM132 133.9L133.5 134.7L136.1 131.1L134.6 130.3ZM133.5 134.7L135 135.5L137.6 131.8L136.1 131.1ZM135 135.5L136.5 136.3L139.1 132.6L137.6 131.8ZM136.5 136.3L138 137.1L140.6 133.3L139.1 132.6ZM141.3 135.6L142.6 136.9L145 133.5L143.6 132.2ZM142.6 136.9L143.9 138.2L146.3 134.8L145 133.5ZM150.2 138.6L151.5 139.8L153.9 136.2L152.6 135ZM151.5 139.8L152.8 141.1L155.2 137.5L153.9 136.2Z" fill="#9effd3" stroke="#9effd3" stroke-width="0.5"/>
<path d="M42.8 140.9L46.3 143.3L52.6 131.7L49.1 129.7ZM52.6 131.7L56.1 133.7L62.4 121.6L58.9 120.1ZM65.9 123.1L69.4 124.7L75.7 112.1L72.1 110.6ZM69.4 124.7L72.9 126.4L79.2 113.7L75.7 112.1ZM72.9 126.4L76.4 128L82.7 115.2L79.2 113.7ZM76.4 128L79.9 129.6L86.2 116.6L82.7 115.2ZM79.9 129.6L83.4 131.1L89.7 118L86.2 116.6ZM83.4 131.1L86.9 132.7L93.2 119.4L89.7 118ZM86.9 132.7L90.4 135.2L96.7 122.3L93.2 119.4ZM90.4 135.2L93.9 137.7L100.2 125.2L96.7 122.3ZM93.9 137.7L97.4 140.3L103.7 128.1L100.2 125.2ZM97.4 140.3L101 141.6L107.2 129.2L103.7 128.1ZM101 141.6L104.5 142.9L110.7 130.4L107.2 129.2ZM104.5 142.9L108 144.2L114.2 131.5L110.7 130.4ZM127.8 136.8L129.3 137.6L132 133.9L130.4 133.1ZM129.3 137.6L130.8 138.4L133.5 134.7L132 133.9ZM130.8 138.4L132.3 139.2L135 135.5L133.5 134.7ZM132.3 139.2L133.8 140.1L136.5 136.3L135 135.5ZM108 144.2L111.5 145.6L117.7 132.7L114.2 131.5ZM138.9 138.9L140.3 140.3L142.6 136.9L141.3 135.6ZM140.3 140.3L141.6 141.6L143.9 138.2L142.6 136.9ZM146.6 140.8L147.9 142.1L150.2 138.6L148.9 137.3ZM147.9 142.1L149.2 143.4L151.5 139.8L150.2 138.6ZM149.2 143.4L150.5 144.7L152.8 141.1L151.5 139.8Z" fill="#94ffe2" stroke="#94ffe2" stroke-width="0.5"/>
<path d="M46.3 143.3L49.8 145.8L56.1 133.7L52.6 131.7ZM56.1 133.7L59.6 135.7L65.9 123.1L62.4 121.6ZM133.8 140.1L135.3 140.9L138 137.1L136.5 136.3ZM111.5 145.6L115 147L121.2 133.9L117.7 132.7ZM115 147L118.5 148.4L124.8 135.1L121.2 133.9ZM135.3 140.9L136.6 142.3L138.9 138.9L137.6 137.6ZM141.6 141.6L142.9 143L145.2 139.5L143.9 138.2ZM142.9 143L144.2 144.3L146.6 140.8L145.2 139.5ZM120.1 145.1L122.7 146.5L127.4 136.5L124.8 135.1Z" fill="#8fffe8" stroke="#8fffe8" stroke-width="0.5"/>
<path d="M49.8 145.8L53.3 148.3L59.6 135.7L56.1 133.7ZM53.3 148.3L56.9 150L63.1 137.4L59.6 135.7ZM101.7 157L105.2 158.5L111.5 145.6L108 144.2ZM105.2 158.5L108.7 160.1L115 147L111.5 145.6ZM108.7 160.1L112.2 161.7L118.5 148.4L115 147ZM139.2 145.1L140.5 146.4L142.9 143L141.6 141.6ZM140.5 146.4L141.9 147.8L144.2 144.3L142.9 143ZM146.8 147L148.2 148.4L150.5 144.7L149.2 143.4ZM115.4 155L118 156.4L122.7 146.5L120.1 145.1ZM127.9 149.3L130.6 150.7L135.3 140.9L132.6 139.4ZM131.5 148.7L133.6 150.8L137.4 143.1L135.3 140.9Z" fill="#87fff5" stroke="#87fff5" stroke-width="0.5"/>
<path d="M59.6 135.7L63.1 137.4L69.4 124.7L65.9 123.1ZM63.1 137.4L66.6 139.1L72.9 126.4L69.4 124.7ZM66.6 139.1L70.1 140.7L76.4 128L72.9 126.4ZM70.1 140.7L73.6 142.5L79.9 129.6L76.4 128ZM73.6 142.5L77.1 144.2L83.4 131.1L79.9 129.6ZM77.1 144.2L80.7 146L86.9 132.7L83.4 131.1ZM80.7 146L84.2 148.1L90.4 135.2L86.9 132.7ZM84.2 148.1L87.7 150.2L93.9 137.7L90.4 135.2ZM87.7 150.2L91.2 152.4L97.4 140.3L93.9 137.7ZM91.2 152.4L94.7 153.9L101 141.6L97.4 140.3ZM94.7 153.9L98.2 155.4L104.5 142.9L101 141.6ZM98.2 155.4L101.7 157L108 144.2L104.5 142.9ZM136.6 142.3L137.9 143.7L140.3 140.3L138.9 138.9ZM137.9 143.7L139.2 145.1L141.6 141.6L140.3 140.3ZM144.2 144.3L145.5 145.7L147.9 142.1L146.6 140.8ZM145.5 145.7L146.8 147L149.2 143.4L147.9 142.1ZM122.7 146.5L125.3 147.9L130 138L127.4 136.5ZM125.3 147.9L127.9 149.3L132.6 139.4L130 138Z" fill="#8bffef" stroke="#8bffef" stroke-width="0.5"/>
<path d="M56.9 150L60.4 151.7L66.6 139.1L63.1 137.4ZM141.9 147.8L143.2 149.2L145.5 145.7L144.2 144.3ZM143.2 149.2L144.5 150.6L146.8 147L145.5 145.7ZM118 156.4L120.6 157.8L125.3 147.9L122.7 146.5ZM120.6 157.8L123.2 159.2L127.9 149.3L125.3 147.9ZM133.6 150.8L135.7 152.9L139.5 145.3L137.4 143.1Z" fill="#83fffb" stroke="#83fffb" stroke-width="0.5"/>
<path d="M60.4 151.7L63.9 153.5L70.1 140.7L66.6 139.1ZM63.9 153.5L67.4 155.4L73.6 142.5L70.1 140.7ZM67.4 155.4L70.9 157.3L77.1 144.2L73.6 142.5ZM70.9 157.3L74.4 159.3L80.7 146L77.1 144.2ZM74.4 159.3L77.9 161L84.2 148.1L80.7 146ZM77.9 161L81.4 162.7L87.7 150.2L84.2 148.1ZM81.4 162.7L84.9 164.5L91.2 152.4L87.7 150.2ZM84.9 164.5L88.4 166.2L94.7 153.9L91.2 152.4ZM88.4 166.2L91.9 168L98.2 155.4L94.7 153.9ZM91.9 168L95.4 169.7L101.7 157L98.2 155.4ZM95.4 169.7L98.9 171.5L105.2 158.5L101.7 157ZM98.9 171.5L102.4 173.2L108.7 160.1L105.2 158.5ZM144.5 150.6L145.8 152L148.2 148.4L146.8 147ZM110.7 165L113.3 166.3L118 156.4L115.4 155ZM113.3 166.3L115.9 167.7L120.6 157.8L118 156.4ZM123.2 159.2L125.9 160.5L130.6 150.7L127.9 149.3ZM127.8 156.6L129.9 158.5L133.6 150.8L131.5 148.7ZM135.7 152.9L137.8 154.9L141.6 147.6L139.5 145.3Z" fill="#7dfeff" stroke="#7dfeff" stroke-width="0.5"/>
<path d="M102.4 173.2L106 175L112.2 161.7L108.7 160.1ZM106 175L108.6 176.3L113.3 166.3L110.7 165ZM115.9 167.7L118.5 169L123.2 159.2L120.6 157.8ZM124 164.5L126.1 166.2L129.9 158.5L127.8 156.6ZM129.9 158.5L132 160.4L135.7 152.9L133.6 150.8ZM137.8 154.9L139.9 157L143.7 149.8L141.6 147.6Z" fill="#78f8ff" stroke="#78f8ff" stroke-width="0.5"/>
<path d="M108.6 176.3L111.2 177.6L115.9 167.7L113.3 166.3ZM118.5 169L121.2 170.4L125.9 160.5L123.2 159.2ZM126.1 166.2L128.2 167.9L132 160.4L129.9 158.5ZM132 160.4L134.1 162.3L137.8 154.9L135.7 152.9ZM139.9 157L142 159L145.8 152L143.7 149.8Z" fill="#73f2ff" stroke="#73f2ff" stroke-width="0.5"/>
<path d="M111.2 177.6L113.8 178.9L118.5 169L115.9 167.7ZM120.2 172.3L122.3 173.9L126.1 166.2L124 164.5ZM128.2 167.9L130.3 169.6L134.1 162.3L132 160.4ZM134.1 162.3L136.2 164.1L139.9 157L137.8 154.9Z" fill="#6eebff" stroke="#6eebff" stroke-width="0.5"/>
<path d="M113.8 178.9L116.5 180.2L121.2 170.4L118.5 169ZM122.3 173.9L124.4 175.4L128.2 167.9L126.1 166.2ZM136.2 164.1L138.3 166L142 159L139.9 157Z" fill="#69e4ff" stroke="#69e4ff" stroke-width="0.5"/>
<path d="M116.5 180.2L118.6 181.6L122.3 173.9L120.2 172.3ZM124.4 175.4L126.6 176.9L130.3 169.6L128.2 167.9ZM130.3 169.6L132.4 171.3L136.2 164.1L134.1 162.3ZM132.4 171.3L134.5 173L138.3 166L136.2 164.1Z" fill="#65ddff" stroke="#65ddff" stroke-width="0.5"/>
<path d="M118.6 181.6L120.7 182.9L124.4 175.4L122.3 173.9ZM126.6 176.9L128.7 178.5L132.4 171.3L130.3 169.6Z" fill="#60d6ff" stroke="#60d6ff" stroke-width="0.5"/>
<path d="M120.7 182.9L122.8 184.3L126.6 176.9L124.4 175.4ZM128.7 178.5L130.8 180L134.5 173L132.4 171.3Z" fill="#5bceff" stroke="#5bceff" stroke-width="0.5"/>
<path d="M122.8 184.3L124.9 185.7L128.7 178.5L126.6 176.9Z" fill="#56c6ff" stroke="#56c6ff" stroke-width="0.5"/>
<path d="M124.9 185.7L127 187L130.8 180L128.7 178.5Z" fill="#51bdff" stroke="#51bdff" stroke-width="0.5"/>
<path d="M32.3 130.3L51.1 96.9L69.9 79L88.7 63.9L107.5 54.1L126.3 47.6M42.8 140.9L61.6 107.5L80.4 83.7L99.2 70.2L118 57.2L136.8 51.7M53.3 148.3L72.1 110.6L90.9 89.5L109.7 76L128.5 62.4L147.3 54.8M63.9 153.5L82.7 115.2L101.5 93.7L120.3 80.7L139.1 66L157.9 55.7M74.4 159.3L93.2 119.4L112 97.3L130.8 84.3L149.6 70.2L168.4 55.1M84.9 164.5L103.7 128.1L122.5 101.4L141.3 87.4L160.1 72.8L178.9 63M95.4 169.7L114.2 131.5L133 104.5L151.8 89.4L170.6 78L189.4 71.4M106 175L124.8 135.1L143.6 110.3L162.4 94.1L181.2 82.1L200 75.1M116.5 180.2L135.3 140.9L154.1 114.5L172.9 100.9L191.7 89.5L210.5 79.8M127 187L145.8 152L164.6 122.9L183.4 109.4L202.2 96.4L221 85.5M32.3 130.3L42.8 140.9L53.3 148.3L63.9 153.5L74.4 159.3L84.9 164.5L95.4 169.7L106 175L116.5 180.2L127 187M51.1 96.9L61.6 107.5L72.1 110.6L82.7 115.2L93.2 119.4L103.7 128.1L114.2 131.5L124.8 135.1L135.3 140.9L145.8 152M69.9 79L80.4 83.7L90.9 89.5L101.5 93.7L112 97.3L122.5 101.4L133 104.5L143.6 110.3L154.1 114.5L164.6 122.9M88.7 63.9L99.2 70.2L109.7 76L120.3 80.7L130.8 84.3L141.3 87.4L151.8 89.4L162.4 94.1L172.9 100.9L183.4 109.4M107.5 54.1L118 57.2L128.5 62.4L139.1 66L149.6 70.2L160.1 72.8L170.6 78L181.2 82.1L191.7 89.5L202.2 96.4M126.3 47.6L136.8 51.7L147.3 54.8L157.9 55.7L168.4 55.1L178.9 63L189.4 71.4L200 75.1L210.5 79.8L221 85.5" stroke="#dadaea" stroke-width="1.25" fill="none" stroke-linejoin="round"/>
<path d="M32.3 130.3h0.01M51.1 96.9h0.01M69.9 79h0.01M88.7 63.9h0.01M107.5 54.1h0.01M126.3 47.6h0.01M42.8 140.9h0.01M61.6 107.5h0.01M80.4 83.7h0.01M99.2 70.2h0.01M118 57.2h0.01M136.8 51.7h0.01M53.3 148.3h0.01M72.1 110.6h0.01M90.9 89.5h0.01M109.7 76h0.01M128.5 62.4h0.01M147.3 54.8h0.01M63.9 153.5h0.01M82.7 115.2h0.01M101.5 93.7h0.01M120.3 80.7h0.01M139.1 66h0.01M157.9 55.7h0.01M74.4 159.3h0.01M93.2 119.4h0.01M112 97.3h0.01M130.8 84.3h0.01M149.6 70.2h0.01M168.4 55.1h0.01M84.9 164.5h0.01M103.7 128.1h0.01M122.5 101.4h0.01M141.3 87.4h0.01M160.1 72.8h0.01M178.9 63h0.01M95.4 169.7h0.01M114.2 131.5h0.01M133 104.5h0.01M151.8 89.4h0.01M170.6 78h0.01M189.4 71.4h0.01M106 175h0.01M124.8 135.1h0.01M143.6 110.3h0.01M162.4 94.1h0.01M181.2 82.1h0.01M200 75.1h0.01M116.5 180.2h0.01M135.3 140.9h0.01M154.1 114.5h0.01M172.9 100.9h0.01M191.7 89.5h0.01M210.5 79.8h0.01M127 187h0.01M145.8 152h0.01M164.6 122.9h0.01M183.4 109.4h0.01M202.2 96.4h0.01M221 85.5h0.01" stroke="#0c0c14" stroke-width="1.65" stroke-linecap="round" fill="none"/>
<path d="M32.3 82.8L32.3 149.6L127 196.7L221 150.5M32.3 149.6L30 150.7M42.8 154.8L40.5 156M53.3 160.1L51 161.2M63.9 165.3L61.5 166.4M74.4 170.5L72.1 171.7M84.9 175.8L82.6 176.9M95.4 181L93.1 182.1M106 186.2L103.6 187.4M116.5 191.5L114.1 192.6M127 196.7L124.7 197.8M127 196.7L129.3 197.9M145.8 187.5L148.1 188.6M164.6 178.2L166.9 179.4M183.4 169L185.7 170.1M202.2 159.7L204.5 160.9M221 150.5L223.3 151.7M32.3 149.6h-2.5M32.3 122.8h-2.5M32.3 95.9h-2.5" stroke="#111" stroke-width="0.9" fill="none"/>
<text x="27.8" y="151.6" font-size="7.4" text-anchor="end">0</text>
<text x="27.8" y="124.8" font-size="7.4" text-anchor="end">50</text>
<text x="27.8" y="97.9" font-size="7.4" text-anchor="end">100</text>
<text x="16.7" y="158.8" font-size="6.7" text-anchor="end">0</text>
<text x="27" y="164.7" font-size="6.7" text-anchor="end">3.90</text>
<text x="37.2" y="170.1" font-size="6.7" text-anchor="end">5.85</text>
<text x="48.5" y="175.4" font-size="6.7" text-anchor="end">8.78</text>
<text x="62.5" y="180.9" font-size="6.7" text-anchor="end">13.17</text>
<text x="72.7" y="185.7" font-size="6.7" text-anchor="end">19.75</text>
<text x="83" y="191.1" font-size="6.7" text-anchor="end">29.63</text>
<text x="93.4" y="196.4" font-size="6.7" text-anchor="end">44.44</text>
<text x="103.7" y="201.9" font-size="6.7" text-anchor="end">66.67</text>
<text x="114.4" y="207" font-size="6.7" text-anchor="end">100</text>
<text x="131.4" y="207.2" font-size="6.7" text-anchor="start">16</text>
<text x="152.3" y="197.9" font-size="6.7" text-anchor="start">4.8</text>
<text x="170.2" y="188.4" font-size="6.7" text-anchor="start">1.44</text>
<text x="187.7" y="178.6" font-size="6.7" text-anchor="start">0.432</text>
<text x="206.2" y="169.4" font-size="6.7" text-anchor="start">0.1296</text>
<text x="225.2" y="159.4" font-size="6.7" text-anchor="start">0</text>
<text x="132.7" y="21.8" font-size="8.2" text-anchor="middle" textLength="115.5" lengthAdjust="spacingAndGlyphs">Synergy mapped to D-R (BLISS)</text>
<text x="132.5" y="31.3" font-size="8.2" text-anchor="middle" textLength="155" lengthAdjust="spacingAndGlyphs">olaparib vs. FK866 in YUNK1 Parental + NA</text>
<text x="53.4" y="209" font-size="7.9" text-anchor="middle" textLength="54.7" lengthAdjust="spacingAndGlyphs">FK866 (nmol/L)</text>
<text x="191.3" y="209.1" font-size="7.9" text-anchor="middle" textLength="59.5" lengthAdjust="spacingAndGlyphs">olaparib (µmol/L)</text>
<text x="12.9" y="107.5" font-size="7.9" text-anchor="middle" transform="rotate(-90 12.9 107.5)" textLength="34.5" lengthAdjust="spacingAndGlyphs">% Control</text>
</g>
<g>
<path d="M295 149.6L389 103.4M305.5 154.8L399.5 108.6M316 160.1L410 113.9M326.6 165.3L420.6 119.1M337.1 170.5L431.1 124.3M347.6 175.8L441.6 129.6M358.1 181L452.1 134.8M368.7 186.2L462.7 140M379.2 191.5L473.2 145.3M389.7 196.7L483.7 150.5M295 149.6L389.7 196.7M313.8 140.4L408.5 187.5M332.6 131.1L427.3 178.2M351.4 121.9L446.1 169M370.2 112.6L464.9 159.7M389 103.4L483.7 150.5M295 149.6L295 82.8M313.8 140.4L313.8 73.6M332.6 131.1L332.6 64.3M351.4 121.9L351.4 55.1M370.2 112.6L370.2 45.8M389 103.4L389 36.6M389 103.4L389 36.6M399.5 108.6L399.5 41.8M410 113.9L410 47.1M420.6 119.1L420.6 52.3M431.1 124.3L431.1 57.5M441.6 129.6L441.6 62.8M452.1 134.8L452.1 68M462.7 140L462.7 73.2M473.2 145.3L473.2 78.5M483.7 150.5L483.7 83.7M295 149.6L389 103.4M389 103.4L483.7 150.5M295 119.6L389 73.4M389 73.4L483.7 120.5M295 89.6L389 43.4M389 43.4L483.7 90.5" stroke="#bfbfbf" stroke-width="0.6" fill="none"/>
<path d="M370.2 44.8L372 47L375.1 46.4L373.3 44.4ZM373.3 44.4L375.1 46.4L378.2 45.8L376.5 44ZM376.5 44L378.2 45.8L381.4 45.1L379.6 43.5ZM379.6 43.5L381.4 45.1L384.5 44.5L382.7 43.1ZM384.5 44.5L386.2 46L389.4 45.2L387.6 43.9ZM387.6 43.9L389.4 45.2L392.5 44.3L390.8 43.3ZM389.4 45.2L391.1 46.4L394.3 45.4L392.5 44.3ZM399.8 55.7L401.1 58.7L403.5 58.5L402.2 55.2ZM401.1 58.7L402.4 61.7L404.8 61.8L403.5 58.5ZM367.5 46.6L369 48.4L371.7 46.7L370.2 44.8ZM358.3 55.2L359.8 56.8L362.5 55.2L361 53.5ZM361 53.5L362.5 55.2L365.1 53.5L363.6 51.8ZM405.3 72.4L406.7 75.5L409 76.6L407.7 73.6ZM405.9 83.3L407.2 86.7L409.6 87.3L408.3 84.1ZM403.8 88.9L405.2 92.5L407.5 92.9L406.2 89.4ZM352 68.8L353.3 70.6L355.6 67.2L354.3 65.6ZM353.6 78L354.9 80L357.2 75.9L355.9 74.1ZM391.1 97L392.4 100.9L394.7 99.5L393.4 95.6ZM393.4 95.6L394.7 99.5L397.1 98.1L395.8 94.3ZM357.8 88.2L359.1 89.2L361.4 84.9L360.1 83.9ZM369.3 98L370.7 101.3L373 97.7L371.7 94.2ZM378 101.7L379.3 105.4L381.7 102.4L380.3 98.5Z" fill="#ffcc17" stroke="#ffcc17" stroke-width="0.5"/>
<path d="M382.7 43.1L384.5 44.5L387.6 43.9L385.9 42.6ZM385.9 42.6L387.6 43.9L390.8 43.3L389 42.2ZM402.4 61.7L403.7 64.7L406.1 65L404.8 61.8ZM362.1 50.1L363.6 51.8L366.3 50.1L364.8 48.3ZM364.8 48.3L366.3 50.1L369 48.4L367.5 46.6ZM355.6 56.9L357.1 58.5L359.8 56.8L358.3 55.2ZM406.7 75.5L408 78.6L410.3 79.7L409 76.6ZM406.9 80.9L408.3 84.1L410.6 84.9L409.3 81.8ZM407.2 86.7L408.5 90L410.9 90.6L409.6 87.3ZM406.2 89.4L407.5 92.9L409.9 93.4L408.5 90ZM402.8 92L404.1 95.7L406.5 96L405.2 92.5ZM351.7 62.5L353 64.1L355.3 61.1L354 59.7ZM350.6 67.1L352 68.8L354.3 65.6L353 64.1ZM352.2 76L353.6 78L355.9 74.1L354.6 72.4ZM384 101.1L385.3 105L387.7 103.6L386.4 99.7ZM386.4 99.7L387.7 103.6L390 102.2L388.7 98.3ZM388.7 98.3L390 102.2L392.4 100.9L391.1 97ZM355.2 86.1L356.5 87.1L358.8 82.9L357.5 81.9ZM356.5 87.1L357.8 88.2L360.1 83.9L358.8 82.9ZM397.1 98.1L399.7 101.3L404.4 98.6L401.8 95.3ZM364.4 95.4L365.7 98.6L368 94.6L366.7 91.3ZM374.3 101.3L375.6 104.9L378 101.7L376.7 97.9Z" fill="#ffd518" stroke="#ffd518" stroke-width="0.5"/>
<path d="M372 47L373.7 49.2L376.8 48.4L375.1 46.4ZM375.1 46.4L376.8 48.4L380 47.6L378.2 45.8ZM383.1 46.8L384.9 48.4L388 47.4L386.2 46ZM388 47.4L389.7 48.8L392.9 47.7L391.1 46.4ZM394.6 48.9L396.4 50.2L399.5 48.6L397.8 47.6ZM397.2 49.8L398.5 52.8L400.8 51.9L399.5 48.6ZM397.5 56.3L398.8 59L401.1 58.7L399.8 55.7ZM398.8 59L400.1 61.7L402.4 61.7L401.1 58.7ZM400.1 61.7L401.4 64.3L403.7 64.7L402.4 61.7ZM369 48.4L370.5 50.2L373.2 48.6L371.7 46.7ZM359.8 56.8L361.3 58.4L364 56.8L362.5 55.2ZM362.5 55.2L364 56.8L366.7 55.2L365.1 53.5ZM404.3 74.4L405.6 77.6L408 78.6L406.7 75.5ZM404.6 79.9L405.9 83.3L408.3 84.1L406.9 80.9ZM403.6 82.5L404.9 86L407.2 86.7L405.9 83.3ZM401.5 88.3L402.8 92L405.2 92.5L403.8 88.9ZM354.3 65.6L355.6 67.2L358 63.7L356.7 62.4ZM354.6 72.4L355.9 74.1L358.3 70.2L356.9 68.7ZM380.3 98.5L381.7 102.4L384 101.1L382.7 97.1ZM382.7 97.1L384 101.1L386.4 99.7L385 95.8ZM356.2 80.9L357.5 81.9L359.9 77.8L358.5 76.8ZM361.7 91.2L363 92.3L365.4 87.9L364.1 86.9ZM368 94.6L369.3 98L371.7 94.2L370.4 90.6ZM373 97.7L374.3 101.3L376.7 97.9L375.4 94.2Z" fill="#ffb916" stroke="#ffb916" stroke-width="0.5"/>
<path d="M378.2 45.8L380 47.6L383.1 46.8L381.4 45.1ZM381.4 45.1L383.1 46.8L386.2 46L384.5 44.5ZM386.2 46L388 47.4L391.1 46.4L389.4 45.2ZM391.1 46.4L392.9 47.7L396 46.5L394.3 45.4ZM392.9 47.7L394.6 48.9L397.8 47.6L396 46.5ZM398.5 52.8L399.8 55.7L402.2 55.2L400.8 51.9ZM401.4 64.3L402.7 67L405.1 67.7L403.7 64.7ZM402.7 67L404 69.7L406.4 70.6L405.1 67.7ZM404 69.7L405.3 72.4L407.7 73.6L406.4 70.6ZM363.6 51.8L365.1 53.5L367.8 51.9L366.3 50.1ZM366.3 50.1L367.8 51.9L370.5 50.2L369 48.4ZM354.4 60.1L355.9 61.6L358.6 60L357.1 58.5ZM357.1 58.5L358.6 60L361.3 58.4L359.8 56.8ZM405.6 77.6L406.9 80.9L409.3 81.8L408 78.6ZM404.9 86L406.2 89.4L408.5 90L407.2 86.7ZM400.5 91.5L401.8 95.3L404.1 95.7L402.8 92ZM353 64.1L354.3 65.6L356.7 62.4L355.3 61.1ZM353.3 70.6L354.6 72.4L356.9 68.7L355.6 67.2ZM395.8 94.3L397.1 98.1L399.4 96.7L398.1 92.9ZM398.1 92.9L399.4 96.7L401.8 95.3L400.5 91.5ZM354.9 80L356.2 80.9L358.5 76.8L357.2 75.9ZM359.1 89.2L360.4 90.2L362.8 85.9L361.4 84.9ZM360.4 90.2L361.7 91.2L364.1 86.9L362.8 85.9ZM363 92.3L364.4 95.4L366.7 91.3L365.4 87.9Z" fill="#ffc217" stroke="#ffc217" stroke-width="0.5"/>
<path d="M373.7 49.2L375.5 51.4L378.6 50.4L376.8 48.4ZM381.7 49.4L383.5 51.2L386.6 50L384.9 48.4ZM386.6 50L388.4 51.6L391.5 50.3L389.7 48.8ZM392.5 52.1L393.8 54.5L396.1 53.6L394.8 50.9ZM393.8 54.5L395.1 56.9L397.5 56.3L396.1 53.6ZM395.1 56.9L396.4 59.2L398.8 59L397.5 56.3ZM396.4 59.2L397.7 61.6L400.1 61.7L398.8 59ZM364 56.8L365.5 58.5L368.2 56.9L366.7 55.2ZM366.7 55.2L368.2 56.9L370.8 55.4L369.3 53.6ZM357.4 63.2L358.9 64.7L361.6 63.2L360.1 61.6ZM402 73.2L403.3 76.6L405.6 77.6L404.3 74.4ZM401.2 81.7L402.5 85.3L404.9 86L403.6 82.5ZM400.2 84.6L401.5 88.3L403.8 88.9L402.5 85.3ZM357.2 75.9L358.5 76.8L360.9 72.7L359.6 71.8ZM360.1 83.9L361.4 84.9L363.8 80.6L362.5 79.7ZM366.7 91.3L368 94.6L370.4 90.6L369.1 87.1ZM371.7 94.2L373 97.7L375.4 94.2L374 90.4Z" fill="#ff9d15" stroke="#ff9d15" stroke-width="0.5"/>
<path d="M376.8 48.4L378.6 50.4L381.7 49.4L380 47.6ZM391.5 50.3L393.3 51.7L396.4 50.2L394.6 48.9ZM397.7 61.6L399 64L401.4 64.3L400.1 61.7ZM399 64L400.4 66.4L402.7 67L401.4 64.3ZM400.4 66.4L401.7 68.8L404 69.7L402.7 67ZM401.7 68.8L403 71.1L405.3 72.4L404 69.7ZM367.8 51.9L369.3 53.6L372 52L370.5 50.2ZM370.5 50.2L372 52L374.7 50.4L373.2 48.6ZM361.3 58.4L362.8 60.1L365.5 58.5L364 56.8ZM403.3 76.6L404.6 79.9L406.9 80.9L405.6 77.6ZM402.2 79L403.6 82.5L405.9 83.3L404.6 79.9ZM399.1 87.7L400.5 91.5L402.8 92L401.5 88.3ZM355.6 67.2L356.9 68.7L359.3 65.1L358 63.7ZM355.9 74.1L357.2 75.9L359.6 71.8L358.3 70.2ZM392.1 91.8L393.4 95.6L395.8 94.3L394.4 90.4ZM394.4 90.4L395.8 94.3L398.1 92.9L396.8 89.1ZM396.8 89.1L398.1 92.9L400.5 91.5L399.1 87.7ZM358.8 82.9L360.1 83.9L362.5 79.7L361.2 78.7Z" fill="#ffa616" stroke="#ffa616" stroke-width="0.5"/>
<path d="M380 47.6L381.7 49.4L384.9 48.4L383.1 46.8ZM384.9 48.4L386.6 50L389.7 48.8L388 47.4ZM389.7 48.8L391.5 50.3L394.6 48.9L392.9 47.7ZM394.8 50.9L396.1 53.6L398.5 52.8L397.2 49.8ZM396.1 53.6L397.5 56.3L399.8 55.7L398.5 52.8ZM365.1 53.5L366.7 55.2L369.3 53.6L367.8 51.9ZM355.9 61.6L357.4 63.2L360.1 61.6L358.6 60ZM358.6 60L360.1 61.6L362.8 60.1L361.3 58.4ZM403 71.1L404.3 74.4L406.7 75.5L405.3 72.4ZM402.5 85.3L403.8 88.9L406.2 89.4L404.9 86ZM385 95.8L386.4 99.7L388.7 98.3L387.4 94.4ZM387.4 94.4L388.7 98.3L391.1 97L389.7 93.1ZM389.7 93.1L391.1 97L393.4 95.6L392.1 91.8ZM357.5 81.9L358.8 82.9L361.2 78.7L359.9 77.8ZM376.7 97.9L378 101.7L380.3 98.5L379 94.5Z" fill="#ffb016" stroke="#ffb016" stroke-width="0.5"/>
<path d="M375.5 51.4L377.2 53.5L380.3 52.4L378.6 50.4ZM390.1 53.3L391.4 55.3L393.8 54.5L392.5 52.1ZM391.4 55.3L392.8 57.4L395.1 56.9L393.8 54.5ZM392.8 57.4L394.1 59.5L396.4 59.2L395.1 56.9ZM394.1 59.5L395.4 61.6L397.7 61.6L396.4 59.2ZM395.4 61.6L396.7 63.6L399 64L397.7 61.6ZM396.7 63.6L398 65.7L400.4 66.4L399 64ZM365.5 58.5L367 60.2L369.7 58.7L368.2 56.9ZM368.2 56.9L369.7 58.7L372.3 57.2L370.8 55.4ZM358.9 64.7L360.4 66.2L363.1 64.7L361.6 63.2ZM400.6 69.9L402 73.2L404.3 74.4L403 71.1ZM399.9 78.1L401.2 81.7L403.6 82.5L402.2 79ZM398.9 80.9L400.2 84.6L402.5 85.3L401.2 81.7ZM397.8 83.9L399.1 87.7L401.5 88.3L400.2 84.6ZM358.3 70.2L359.6 71.8L361.9 67.7L360.6 66.4ZM388.4 89.2L389.7 93.1L392.1 91.8L390.8 87.9ZM390.8 87.9L392.1 91.8L394.4 90.4L393.1 86.6ZM393.1 86.6L394.4 90.4L396.8 89.1L395.5 85.3ZM395.5 85.3L396.8 89.1L399.1 87.7L397.8 83.9ZM358.5 76.8L359.9 77.8L362.2 73.6L360.9 72.7ZM375.4 94.2L376.7 97.9L379 94.5L377.7 90.6Z" fill="#ff8a14" stroke="#ff8a14" stroke-width="0.5"/>
<path d="M378.6 50.4L380.3 52.4L383.5 51.2L381.7 49.4ZM383.5 51.2L385.2 53L388.4 51.6L386.6 50ZM388.4 51.6L390.1 53.3L393.3 51.7L391.5 50.3ZM369.3 53.6L370.8 55.4L373.5 53.8L372 52ZM372 52L373.5 53.8L376.2 52.3L374.7 50.4ZM360.1 61.6L361.6 63.2L364.3 61.7L362.8 60.1ZM362.8 60.1L364.3 61.7L367 60.2L365.5 58.5ZM400.9 75.6L402.2 79L404.6 79.9L403.3 76.6ZM356.9 68.7L358.3 70.2L360.6 66.4L359.3 65.1ZM379 94.5L380.3 98.5L382.7 97.1L381.4 93.2ZM381.4 93.2L382.7 97.1L385 95.8L383.7 91.9ZM383.7 91.9L385 95.8L387.4 94.4L386.1 90.5ZM386.1 90.5L387.4 94.4L389.7 93.1L388.4 89.2ZM361.4 84.9L362.8 85.9L365.1 81.6L363.8 80.6Z" fill="#ff9315" stroke="#ff9315" stroke-width="0.5"/>
<path d="M377.2 53.5L379 55.7L382.1 54.3L380.3 52.4ZM389.1 56.2L390.4 58L392.8 57.4L391.4 55.3ZM390.4 58L391.7 59.7L394.1 59.5L392.8 57.4ZM367 60.2L368.5 61.8L371.2 60.4L369.7 58.7ZM369.7 58.7L371.2 60.4L373.8 58.9L372.3 57.2ZM360.4 66.2L361.9 67.7L364.6 66.3L363.1 64.7ZM398.6 74.6L399.9 78.1L402.2 79L400.9 75.6ZM396.5 80.1L397.8 83.9L400.2 84.6L398.9 80.9ZM377.7 90.6L379 94.5L381.4 93.2L380.1 89.3ZM380.1 89.3L381.4 93.2L383.7 91.9L382.4 88ZM359.6 71.8L360.9 72.7L363.2 68.6L361.9 67.7ZM361.2 78.7L362.5 79.7L364.8 75.5L363.5 74.5ZM364.1 86.9L365.4 87.9L367.7 83.5L366.4 82.6Z" fill="#ff7614" stroke="#ff7614" stroke-width="0.5"/>
<path d="M380.3 52.4L382.1 54.3L385.2 53L383.5 51.2ZM385.2 53L387 54.8L390.1 53.3L388.4 51.6ZM387.8 54.4L389.1 56.2L391.4 55.3L390.1 53.3ZM398 65.7L399.3 67.8L401.7 68.8L400.4 66.4ZM399.3 67.8L400.6 69.9L403 71.1L401.7 68.8ZM370.8 55.4L372.3 57.2L375 55.7L373.5 53.8ZM373.5 53.8L375 55.7L377.7 54.1L376.2 52.3ZM361.6 63.2L363.1 64.7L365.8 63.3L364.3 61.7ZM364.3 61.7L365.8 63.3L368.5 61.8L367 60.2ZM399.6 72.1L400.9 75.6L403.3 76.6L402 73.2ZM359.9 77.8L361.2 78.7L363.5 74.5L362.2 73.6ZM362.8 85.9L364.1 86.9L366.4 82.6L365.1 81.6ZM365.4 87.9L366.7 91.3L369.1 87.1L367.7 83.5ZM370.4 90.6L371.7 94.2L374 90.4L372.7 86.6Z" fill="#ff8014" stroke="#ff8014" stroke-width="0.5"/>
<path d="M379 55.7L380.7 57.9L383.9 56.3L382.1 54.3ZM383.1 56.7L384.4 57.9L386.7 57L385.4 55.6ZM388.1 58.5L389.4 60L391.7 59.7L390.4 58ZM389.4 60L390.7 61.5L393 61.5L391.7 59.7ZM371.2 60.4L372.7 62.1L375.4 60.7L373.8 58.9ZM373.8 58.9L375.4 60.7L378 59.3L376.5 57.5ZM397.3 71L398.6 74.6L400.9 75.6L399.6 72.1ZM396.2 73.5L397.5 77.2L399.9 78.1L398.6 74.6ZM395.2 76.3L396.5 80.1L398.9 80.9L397.5 77.2ZM361.9 67.7L363.7 68.9L366.8 67.2L365.1 66.1ZM365.1 66.1L366.8 67.2L369.9 65.6L368.2 64.4ZM363.8 80.6L365.1 81.6L367.5 77.3L366.1 76.4Z" fill="#ff5912" stroke="#ff5912" stroke-width="0.5"/>
<path d="M382.1 54.3L383.9 56.3L387 54.8L385.2 53ZM385.4 55.6L386.7 57L389.1 56.2L387.8 54.4ZM391.7 59.7L393 61.5L395.4 61.6L394.1 59.5ZM393 61.5L394.3 63.3L396.7 63.6L395.4 61.6ZM394.3 63.3L395.7 65.1L398 65.7L396.7 63.6ZM372.3 57.2L373.8 58.9L376.5 57.5L375 55.7ZM375 55.7L376.5 57.5L379.2 56L377.7 54.1ZM363.1 64.7L364.6 66.3L367.3 64.9L365.8 63.3ZM365.8 63.3L367.3 64.9L370 63.5L368.5 61.8ZM398.3 68.6L399.6 72.1L402 73.2L400.6 69.9ZM397.5 77.2L398.9 80.9L401.2 81.7L399.9 78.1ZM382.4 88L383.7 91.9L386.1 90.5L384.8 86.6ZM384.8 86.6L386.1 90.5L388.4 89.2L387.1 85.3ZM387.1 85.3L388.4 89.2L390.8 87.9L389.5 84ZM389.5 84L390.8 87.9L393.1 86.6L391.8 82.7ZM391.8 82.7L393.1 86.6L395.5 85.3L394.2 81.4ZM394.2 81.4L395.5 85.3L397.8 83.9L396.5 80.1ZM374 90.4L375.4 94.2L377.7 90.6L376.4 86.6Z" fill="#ff6d13" stroke="#ff6d13" stroke-width="0.5"/>
<path d="M380.7 57.9L382 58.8L384.4 57.9L383.1 56.7ZM385.7 59.1L387 60.3L389.4 60L388.1 58.5ZM393.3 64.4L394.6 65.9L397 66.9L395.7 65.1ZM395.9 67.4L397.3 71L399.6 72.1L398.3 68.6ZM374.5 61.2L376.2 62.3L379.3 60.7L377.6 59.5ZM363.7 68.9L365.4 70.1L368.6 68.4L366.8 67.2ZM363.5 74.5L364.8 75.5L367.2 71.2L365.9 70.4ZM365.1 81.6L366.4 82.6L368.8 78.2L367.5 77.3ZM367.7 83.5L369.1 87.1L371.4 82.9L370.1 79.1ZM372.7 86.6L374 90.4L376.4 86.6L375.1 82.7Z" fill="#ff4612" stroke="#ff4612" stroke-width="0.5"/>
<path d="M382 58.8L383.4 59.6L385.7 59.1L384.4 57.9ZM387 60.3L388.3 61.4L390.7 61.5L389.4 60ZM394.6 65.9L395.9 67.4L398.3 68.6L397 66.9ZM394.9 69.8L396.2 73.5L398.6 74.6L397.3 71ZM393.9 72.5L395.2 76.3L397.5 77.2L396.2 73.5ZM377.6 59.5L379.3 60.7L382.5 59L380.7 57.9ZM366.8 67.2L368.6 68.4L371.7 66.8L369.9 65.6ZM369.9 65.6L371.7 66.8L374.8 65.1L373.1 64ZM373.1 64L374.8 65.1L378 63.5L376.2 62.3ZM366.4 82.6L367.7 83.5L370.1 79.1L368.8 78.2Z" fill="#ff3c11" stroke="#ff3c11" stroke-width="0.5"/>
<path d="M384.4 57.9L385.7 59.1L388.1 58.5L386.7 57ZM390.7 61.5L392 63L394.3 63.3L393 61.5ZM392 63L393.3 64.4L395.7 65.1L394.3 63.3ZM376.5 57.5L378 59.3L380.7 57.9L379.2 56ZM368.2 64.4L369.9 65.6L373.1 64L371.3 62.8ZM371.3 62.8L373.1 64L376.2 62.3L374.5 61.2ZM376.4 86.6L377.7 90.6L380.1 89.3L378.7 85.3ZM378.7 85.3L380.1 89.3L382.4 88L381.1 84ZM381.1 84L382.4 88L384.8 86.6L383.4 82.8ZM383.4 82.8L384.8 86.6L387.1 85.3L385.8 81.5ZM385.8 81.5L387.1 85.3L389.5 84L388.1 80.2ZM388.1 80.2L389.5 84L391.8 82.7L390.5 78.9ZM390.5 78.9L391.8 82.7L394.2 81.4L392.8 77.6ZM392.8 77.6L394.2 81.4L396.5 80.1L395.2 76.3ZM362.2 73.6L363.5 74.5L365.9 70.4L364.6 69.5Z" fill="#ff5012" stroke="#ff5012" stroke-width="0.5"/>
<path d="M386.7 57L388.1 58.5L390.4 58L389.1 56.2ZM395.7 65.1L397 66.9L399.3 67.8L398 65.7ZM397 66.9L398.3 68.6L400.6 69.9L399.3 67.8ZM368.5 61.8L370 63.5L372.7 62.1L371.2 60.4ZM360.9 72.7L362.2 73.6L364.6 69.5L363.2 68.6ZM362.5 79.7L363.8 80.6L366.1 76.4L364.8 75.5ZM369.1 87.1L370.4 90.6L372.7 86.6L371.4 82.9Z" fill="#ff6313" stroke="#ff6313" stroke-width="0.5"/>
<path d="M383.4 59.6L384.7 60.5L387 60.3L385.7 59.1ZM388.3 61.4L389.6 62.6L392 63L390.7 61.5ZM389.6 62.6L391 63.8L393.3 64.4L392 63ZM376.2 62.3L378 63.5L381.1 61.9L379.3 60.7ZM379.3 60.7L381.1 61.9L384.2 60.2L382.5 59ZM364.8 75.5L366.1 76.4L368.5 72.1L367.2 71.2Z" fill="#ff3211" stroke="#ff3211" stroke-width="0.5"/>
<path d="M384.7 60.5L386 61.4L388.3 61.4L387 60.3ZM391 63.8L392.3 65L394.6 65.9L393.3 64.4ZM393.6 66.2L394.9 69.8L397.3 71L395.9 67.4ZM365.4 70.1L367.2 71.2L370.3 69.6L368.6 68.4ZM368.6 68.4L370.3 69.6L373.4 68L371.7 66.8ZM371.7 66.8L373.4 68L376.6 66.3L374.8 65.1ZM375.1 82.7L376.4 86.6L378.7 85.3L377.4 81.4ZM377.4 81.4L378.7 85.3L381.1 84L379.8 80.1ZM379.8 80.1L381.1 84L383.4 82.8L382.1 78.9ZM382.1 78.9L383.4 82.8L385.8 81.5L384.5 77.6ZM384.5 77.6L385.8 81.5L388.1 80.2L386.8 76.3ZM386.8 76.3L388.1 80.2L390.5 78.9L389.2 75.1ZM389.2 75.1L390.5 78.9L392.8 77.6L391.5 73.8ZM391.5 73.8L392.8 77.6L395.2 76.3L393.9 72.5ZM371.4 82.9L372.7 86.6L375.1 82.7L373.8 78.7Z" fill="#ff2810" stroke="#ff2810" stroke-width="0.5"/>
<path d="M386 61.4L387.3 62.3L389.6 62.6L388.3 61.4ZM392.3 65L393.6 66.2L395.9 67.4L394.6 65.9ZM392.6 68.7L393.9 72.5L396.2 73.5L394.9 69.8ZM374.8 65.1L376.6 66.3L379.7 64.7L378 63.5ZM378 63.5L379.7 64.7L382.8 63L381.1 61.9ZM381.1 61.9L382.8 63L386 61.4L384.2 60.2ZM366.1 76.4L367.5 77.3L369.8 73L368.5 72.1Z" fill="#ff1e10" stroke="#ff1e10" stroke-width="0.5"/>
<path d="M387.3 62.3L388.6 63.1L391 63.8L389.6 62.6ZM367.2 71.2L368.9 72.4L372.1 70.8L370.3 69.6ZM370.3 69.6L372.1 70.8L375.2 69.1L373.4 68Z" fill="#ff1410" stroke="#ff1410" stroke-width="0.5"/>
<path d="M403.7 64.7L405.1 67.7L407.4 68.3L406.1 65ZM405.1 67.7L406.4 70.6L408.7 71.6L407.4 68.3ZM356.8 53.6L358.3 55.2L361 53.5L359.5 51.8ZM359.5 51.8L361 53.5L363.6 51.8L362.1 50.1ZM352.9 58.6L354.4 60.1L357.1 58.5L355.6 56.9ZM408 78.6L409.3 81.8L411.6 82.7L410.3 79.7ZM408.3 84.1L409.6 87.3L411.9 88L410.6 84.9ZM405.2 92.5L406.5 96L408.8 96.4L407.5 92.9ZM401.8 95.3L404.4 98.6L409.1 99L406.5 96ZM350.9 74L352.2 76L354.6 72.4L353.3 70.6ZM381.7 102.4L383 106.4L385.3 105L384 101.1ZM353.8 85.1L355.2 86.1L357.5 81.9L356.2 80.9ZM392.4 100.9L395 104L399.7 101.3L397.1 98.1Z" fill="#ffde18" stroke="#ffde18" stroke-width="0.5"/>
<path d="M388.6 63.1L389.9 64L392.3 65L391 63.8ZM373.4 68L375.2 69.1L378.3 67.5L376.6 66.3ZM376.6 66.3L378.3 67.5L381.5 65.8L379.7 64.7ZM379.7 64.7L381.5 65.8L384.6 64.2L382.8 63ZM382.8 63L384.6 64.2L387.7 62.6L386 61.4ZM373.8 78.7L375.1 82.7L377.4 81.4L376.1 77.5ZM376.1 77.5L377.4 81.4L379.8 80.1L378.5 76.2ZM378.5 76.2L379.8 80.1L382.1 78.9L380.8 75ZM380.8 75L382.1 78.9L384.5 77.6L383.2 73.7ZM383.2 73.7L384.5 77.6L386.8 76.3L385.5 72.5ZM385.5 72.5L386.8 76.3L389.2 75.1L387.9 71.2ZM387.9 71.2L389.2 75.1L391.5 73.8L390.2 70ZM390.2 70L391.5 73.8L393.9 72.5L392.6 68.7ZM367.5 77.3L368.8 78.2L371.1 73.9L369.8 73Z" fill="#fa0f0f" stroke="#fa0f0f" stroke-width="0.5"/>
<path d="M389.9 64L391.2 64.9L393.6 66.2L392.3 65ZM368.9 72.4L370.7 73.6L373.8 71.9L372.1 70.8ZM372.1 70.8L373.8 71.9L377 70.3L375.2 69.1ZM375.2 69.1L377 70.3L380.1 68.7L378.3 67.5ZM378.3 67.5L380.1 68.7L383.2 67L381.5 65.8ZM381.5 65.8L383.2 67L386.4 65.4L384.6 64.2ZM384.6 64.2L386.4 65.4L389.5 63.7L387.7 62.6ZM368.8 78.2L370.1 79.1L372.4 74.7L371.1 73.9Z" fill="#e70f0f" stroke="#e70f0f" stroke-width="0.5"/>
<path d="M406.4 70.6L407.7 73.6L410 74.9L408.7 71.6ZM354.1 55.3L355.6 56.9L358.3 55.2L356.8 53.6ZM409.3 81.8L410.6 84.9L413 85.7L411.6 82.7ZM409.6 87.3L410.9 90.6L413.2 91.2L411.9 88ZM408.5 90L409.9 93.4L412.2 93.8L410.9 90.6ZM407.5 92.9L408.8 96.4L411.2 96.7L409.9 93.4ZM350.4 61L351.7 62.5L354 59.7L352.7 58.4ZM349.3 65.3L350.6 67.1L353 64.1L351.7 62.5ZM348.3 70.1L349.6 72L352 68.8L350.6 67.1ZM349.6 72L350.9 74L353.3 70.6L352 68.8ZM351.2 81.8L352.5 84L354.9 80L353.6 78ZM352.5 84L353.8 85.1L356.2 80.9L354.9 80ZM387.7 103.6L390.3 106.8L395 104L392.4 100.9ZM399.7 101.3L402.3 104.5L407 101.9L404.4 98.6ZM365.7 98.6L367 101.8L369.3 98L368 94.6ZM370.7 101.3L372 104.7L374.3 101.3L373 97.7Z" fill="#ffe718" stroke="#ffe718" stroke-width="0.5"/>
<path d="M351.4 57.1L352.9 58.6L355.6 56.9L354.1 55.3ZM407.7 73.6L409 76.6L411.4 77.8L410 74.9ZM409 76.6L410.3 79.7L412.7 80.7L411.4 77.8ZM410.6 84.9L411.9 88L414.3 88.7L413 85.7ZM406.5 96L409.1 99L413.8 99.4L411.2 96.7ZM404.4 98.6L407 101.9L411.7 101.9L409.1 99ZM349.1 59.4L350.4 61L352.7 58.4L351.4 57.1ZM348 63.6L349.3 65.3L351.7 62.5L350.4 61ZM347 68.1L348.3 70.1L350.6 67.1L349.3 65.3ZM348.6 77.5L349.9 79.7L352.2 76L350.9 74ZM349.9 79.7L351.2 81.8L353.6 78L352.2 76ZM383 106.4L385.6 109.5L390.3 106.8L387.7 103.6ZM395 104L397.6 107.2L402.3 104.5L399.7 101.3ZM375.6 104.9L377 108.4L379.3 105.4L378 101.7ZM379.3 105.4L380.6 109.2L383 106.4L381.7 102.4Z" fill="#fff019" stroke="#fff019" stroke-width="0.5"/>
<path d="M391.2 64.9L392.6 68.7L394.9 69.8L393.6 66.2ZM370.1 79.1L371.4 82.9L373.8 78.7L372.4 74.7Z" fill="#f10f0f" stroke="#f10f0f" stroke-width="0.5"/>
<path d="M410.3 79.7L411.6 82.7L414 83.6L412.7 80.7ZM411.9 88L413.2 91.2L415.6 91.7L414.3 88.7ZM410.9 90.6L412.2 93.8L414.6 94.3L413.2 91.2ZM409.9 93.4L411.2 96.7L413.5 97.1L412.2 93.8ZM407 101.9L409.7 105.1L414.4 104.9L411.7 101.9ZM346.7 61.8L348 63.6L350.4 61L349.1 59.4ZM345.7 66.1L347 68.1L349.3 65.3L348 63.6ZM345.9 73.1L347.3 75.3L349.6 72L348.3 70.1ZM347.3 75.3L348.6 77.5L350.9 74L349.6 72ZM355.4 92.4L356.7 93.4L359.1 89.2L357.8 88.2ZM356.7 93.4L358.1 94.5L360.4 90.2L359.1 89.2ZM358.1 94.5L359.4 95.6L361.7 91.2L360.4 90.2ZM359.4 95.6L360.7 96.6L363 92.3L361.7 91.2ZM390.3 106.8L392.9 109.9L397.6 107.2L395 104ZM402.3 104.5L405 107.8L409.7 105.1L407 101.9ZM360.7 96.6L362 99.6L364.4 95.4L363 92.3ZM367 101.8L368.3 104.9L370.7 101.3L369.3 98ZM372 104.7L373.3 108.1L375.6 104.9L374.3 101.3Z" fill="#fff819" stroke="#fff819" stroke-width="0.5"/>
<path d="M411.6 82.7L413 85.7L415.3 86.5L414 83.6ZM412.2 93.8L413.5 97.1L415.9 97.4L414.6 94.3ZM409.1 99L411.7 101.9L416.4 102L413.8 99.4ZM344.4 64.1L345.7 66.1L348 63.6L346.7 61.8ZM343.3 68.7L344.6 70.9L347 68.1L345.7 66.1ZM344.6 70.9L345.9 73.1L348.3 70.1L347 68.1ZM351.5 89.2L352.8 90.2L355.2 86.1L353.8 85.1ZM352.8 90.2L354.1 91.3L356.5 87.1L355.2 86.1ZM354.1 91.3L355.4 92.4L357.8 88.2L356.5 87.1ZM385.6 109.5L388.2 112.6L392.9 109.9L390.3 106.8ZM392.9 109.9L395.6 113.1L400.3 110.4L397.6 107.2ZM397.6 107.2L400.3 110.4L405 107.8L402.3 104.5ZM380.6 109.2L381.9 110.7L384.3 107.9L383 106.4Z" fill="#feff1d" stroke="#feff1d" stroke-width="0.5"/>
<path d="M413 85.7L414.3 88.7L416.6 89.4L415.3 86.5ZM414.3 88.7L415.6 91.7L417.9 92.3L416.6 89.4ZM413.2 91.2L414.6 94.3L416.9 94.7L415.6 91.7ZM411.2 96.7L413.8 99.4L418.5 99.8L415.9 97.4ZM413.8 99.4L416.4 102L421.1 102.1L418.5 99.8ZM411.7 101.9L414.4 104.9L419.1 104.7L416.4 102ZM409.7 105.1L412.3 108.4L417 107.9L414.4 104.9ZM342 66.5L343.3 68.7L345.7 66.1L344.4 64.1ZM343.6 76.1L344.9 78.5L347.3 75.3L345.9 73.1ZM344.9 78.5L346.2 80.9L348.6 77.5L347.3 75.3ZM346.2 80.9L347.5 83.3L349.9 79.7L348.6 77.5ZM347.5 83.3L348.9 85.7L351.2 81.8L349.9 79.7ZM348.9 85.7L350.2 88.1L352.5 84L351.2 81.8ZM350.2 88.1L351.5 89.2L353.8 85.1L352.5 84ZM388.2 112.6L390.9 115.7L395.6 113.1L392.9 109.9ZM400.3 110.4L402.9 113.6L407.6 111L405 107.8ZM405 107.8L407.6 111L412.3 108.4L409.7 105.1ZM362 99.6L363.3 102.6L365.7 98.6L364.4 95.4ZM377 108.4L378.3 112L380.6 109.2L379.3 105.4ZM381.9 110.7L383.2 112.2L385.6 109.5L384.3 107.9ZM383.2 112.2L384.6 113.7L386.9 111L385.6 109.5Z" fill="#f6ff28" stroke="#f6ff28" stroke-width="0.5"/>
<path d="M415.6 91.7L416.9 94.7L419.3 95.2L417.9 92.3ZM414.6 94.3L415.9 97.4L418.2 97.8L416.9 94.7ZM416.4 102L419.1 104.7L423.8 104.5L421.1 102.1ZM414.4 104.9L417 107.9L421.7 107.4L419.1 104.7ZM339.6 68.9L341 71.3L343.3 68.7L342 66.5ZM341 71.3L342.3 73.7L344.6 70.9L343.3 68.7ZM342.3 73.7L343.6 76.1L345.9 73.1L344.6 70.9ZM412.3 108.4L417.6 113.1L427 111.4L421.7 107.4ZM417.6 113.1L422.8 117.8L432.2 115.4L427 111.4ZM395.6 113.1L398.2 116.2L402.9 113.6L400.3 110.4ZM422.8 117.8L428.1 123.4L437.5 119.7L432.2 115.4ZM428.1 123.4L433.3 129L442.7 123.9L437.5 119.7ZM368.3 104.9L369.6 108.1L372 104.7L370.7 101.3ZM373.3 108.1L374.6 111.4L377 108.4L375.6 104.9ZM402.9 113.6L408.2 118.3L417.6 113.1L412.3 108.4ZM408.2 118.3L413.4 123L422.8 117.8L417.6 113.1ZM433.3 129L438.6 132.9L448 127.8L442.7 123.9ZM384.6 113.7L385.9 115.1L388.2 112.6L386.9 111ZM413.4 123L418.7 128L428.1 123.4L422.8 117.8ZM418.7 128L423.9 132.9L433.3 129L428.1 123.4ZM423.9 132.9L429.2 137L438.6 132.9L433.3 129ZM429.2 137L434.5 141L443.9 136.7L438.6 132.9Z" fill="#eeff33" stroke="#eeff33" stroke-width="0.5"/>
<path d="M416.9 94.7L418.2 97.8L420.6 98.1L419.3 95.2ZM415.9 97.4L418.5 99.8L423.2 100.2L420.6 98.1ZM418.5 99.8L421.1 102.1L425.8 102.2L423.2 100.2ZM419.1 104.7L421.7 107.4L426.4 106.8L423.8 104.5ZM334.9 73.6L336.3 76.4L338.6 73.8L337.3 71.2ZM337.3 71.2L338.6 73.8L341 71.3L339.6 68.9ZM338.6 73.8L339.9 76.5L342.3 73.7L341 71.3ZM339.9 76.5L341.2 79.1L343.6 76.1L342.3 73.7ZM341.2 79.1L342.6 81.7L344.9 78.5L343.6 76.1ZM390.9 115.7L393.5 118.8L398.2 116.2L395.6 113.1ZM363.3 102.6L364.6 105.6L367 101.8L365.7 98.6ZM393.5 118.8L398.8 123.5L408.2 118.3L402.9 113.6ZM398.8 123.5L404 128.2L413.4 123L408.2 118.3ZM438.6 132.9L443.9 136.7L453.3 131.8L448 127.8ZM378.3 112L379.6 113.4L381.9 110.7L380.6 109.2ZM385.9 115.1L387.2 116.6L389.5 114.2L388.2 112.6ZM387.2 116.6L388.5 118.1L390.9 115.7L389.5 114.2ZM404 128.2L409.3 132.5L418.7 128L413.4 123ZM409.3 132.5L414.5 136.8L423.9 132.9L418.7 128ZM443.9 136.7L449.1 139.9L458.5 134.4L453.3 131.8ZM414.5 136.8L419.8 141L429.2 137L423.9 132.9ZM419.8 141L425.1 145.3L434.5 141L429.2 137ZM434.5 141L439.7 144.8L449.1 139.9L443.9 136.7ZM439.7 144.8L445 148.6L454.4 143.1L449.1 139.9Z" fill="#e7ff3d" stroke="#e7ff3d" stroke-width="0.5"/>
<path d="M370.7 73.6L372.4 74.7L375.6 73.1L373.8 71.9Z" fill="#ca0e0e" stroke="#ca0e0e" stroke-width="0.5"/>
<path d="M373.8 71.9L375.6 73.1L378.7 71.5L377 70.3ZM377 70.3L378.7 71.5L381.8 69.8L380.1 68.7ZM380.1 68.7L381.8 69.8L385 68.2L383.2 67ZM383.2 67L385 68.2L388.1 66.5L386.4 65.4ZM372.4 74.7L373.8 78.7L376.1 77.5L374.8 73.5ZM374.8 73.5L376.1 77.5L378.5 76.2L377.1 72.3ZM377.1 72.3L378.5 76.2L380.8 75L379.5 71.1Z" fill="#d40e0e" stroke="#d40e0e" stroke-width="0.5"/>
<path d="M386.4 65.4L388.1 66.5L391.2 64.9L389.5 63.7ZM379.5 71.1L380.8 75L383.2 73.7L381.8 69.8ZM381.8 69.8L383.2 73.7L385.5 72.5L384.2 68.6ZM384.2 68.6L385.5 72.5L387.9 71.2L386.5 67.4ZM386.5 67.4L387.9 71.2L390.2 70L388.9 66.1ZM388.9 66.1L390.2 70L392.6 68.7L391.2 64.9Z" fill="#dd0f0f" stroke="#dd0f0f" stroke-width="0.5"/>
<path d="M421.1 102.1L423.8 104.5L428.5 104.3L425.8 102.2ZM423.8 104.5L426.4 106.8L431.1 106.3L428.5 104.3ZM332.6 75.9L333.9 79L336.3 76.4L334.9 73.6ZM336.3 76.4L337.6 79.2L339.9 76.5L338.6 73.8ZM342.6 81.7L343.9 84.3L346.2 80.9L344.9 78.5ZM343.9 84.3L345.2 86.9L347.5 83.3L346.2 80.9ZM345.2 86.9L346.5 89.6L348.9 85.7L347.5 83.3ZM346.5 89.6L347.8 92.2L350.2 88.1L348.9 85.7ZM421.7 107.4L427 111.4L436.4 109.7L431.1 106.3ZM427 111.4L432.2 115.4L441.6 113.1L436.4 109.7ZM432.2 115.4L437.5 119.7L446.9 115.9L441.6 113.1ZM437.5 119.7L442.7 123.9L452.1 118.8L446.9 115.9ZM369.6 108.1L370.9 111.3L373.3 108.1L372 104.7ZM442.7 123.9L448 127.8L457.4 122.8L452.1 118.8ZM379.6 113.4L380.9 114.8L383.2 112.2L381.9 110.7ZM380.9 114.8L382.2 116.3L384.6 113.7L383.2 112.2ZM382.2 116.3L383.5 117.7L385.9 115.1L384.6 113.7ZM388.5 118.1L389.8 119.6L392.2 117.3L390.9 115.7ZM389.8 119.6L391.1 121.1L393.5 118.8L392.2 117.3ZM449.1 139.9L454.4 143.1L463.8 137L458.5 134.4ZM425.1 145.3L430.3 149.7L439.7 144.8L434.5 141ZM430.3 149.7L435.6 154.1L445 148.6L439.7 144.8ZM445 148.6L450.2 152.4L459.6 146.6L454.4 143.1Z" fill="#e0ff48" stroke="#e0ff48" stroke-width="0.5"/>
<path d="M333.9 79L335.2 82L337.6 79.2L336.3 76.4ZM337.6 79.2L338.9 82.1L341.2 79.1L339.9 76.5ZM338.9 82.1L340.2 84.9L342.6 81.7L341.2 79.1ZM347.8 92.2L349.1 93.3L351.5 89.2L350.2 88.1ZM349.1 93.3L350.5 94.4L352.8 90.2L351.5 89.2ZM350.5 94.4L351.8 95.5L354.1 91.3L352.8 90.2ZM351.8 95.5L353.1 96.6L355.4 92.4L354.1 91.3ZM353.1 96.6L354.4 97.7L356.7 93.4L355.4 92.4ZM354.4 97.7L355.7 98.8L358.1 94.5L356.7 93.4ZM355.7 98.8L357 99.9L359.4 95.6L358.1 94.5ZM357 99.9L358.3 101L360.7 96.6L359.4 95.6ZM327.9 78.4L329.2 81.9L331.6 80.5L330.2 77.2ZM330.2 77.2L331.6 80.5L333.9 79L332.6 75.9ZM364.6 105.6L366 108.5L368.3 104.9L367 101.8ZM374.6 111.4L375.9 114.8L378.3 112L377 108.4ZM448 127.8L453.3 131.8L462.7 126.8L457.4 122.8ZM383.5 117.7L384.8 119.1L387.2 116.6L385.9 115.1ZM384.8 119.1L386.2 120.5L388.5 118.1L387.2 116.6ZM453.3 131.8L458.5 134.4L467.9 128.8L462.7 126.8ZM458.5 134.4L463.8 137L473.2 130.9L467.9 128.8ZM389.7 122.5L391.8 124.3L395.6 120.7L393.5 118.8ZM391.8 124.3L393.9 126.1L397.7 122.6L395.6 120.7ZM393.9 126.1L396 128L399.8 124.5L397.7 122.6ZM396 128L398.1 129.8L401.9 126.4L399.8 124.5ZM398.1 129.8L400.3 131.7L404 128.2L401.9 126.4ZM454.4 143.1L459.6 146.6L469 141.5L463.8 137ZM397.7 133.9L401.3 136.5L407.5 131.1L404 128.2ZM401.3 136.5L404.8 139L411 133.9L407.5 131.1ZM404.8 139L408.3 141.6L414.5 136.8L411 133.9ZM405.1 144L410.4 148L419.8 141L414.5 136.8ZM410.4 148L415.7 152L425.1 145.3L419.8 141ZM435.6 154.1L440.8 158.3L450.2 152.4L445 148.6ZM415.7 152L420.9 156L430.3 149.7L425.1 145.3Z" fill="#daff51" stroke="#daff51" stroke-width="0.5"/>
<path d="M335.2 82L336.5 85.1L338.9 82.1L337.6 79.2ZM340.2 84.9L341.5 87.8L343.9 84.3L342.6 81.7ZM323.2 80.8L324.5 84.9L326.9 83.4L325.6 79.6ZM325.6 79.6L326.9 83.4L329.2 81.9L327.9 78.4ZM331.6 80.5L332.9 83.8L335.2 82L333.9 79ZM358.3 101L359.7 103.8L362 99.6L360.7 96.6ZM366 108.5L367.3 111.5L369.6 108.1L368.3 104.9ZM370.9 111.3L372.3 114.4L374.6 111.4L373.3 108.1ZM375.9 114.8L377.2 116.2L379.6 113.4L378.3 112ZM377.2 116.2L378.5 117.5L380.9 114.8L379.6 113.4ZM386.2 120.5L387.5 122L389.8 119.6L388.5 118.1ZM387.5 122L388.8 123.4L391.1 121.1L389.8 119.6ZM394.4 133.3L396.5 135.1L400.3 131.7L398.1 129.8ZM463.8 137L469 141.5L478.4 136.4L473.2 130.9ZM459.6 146.6L464.9 150.1L474.3 146L469 141.5ZM450.2 152.4L455.5 156.3L464.9 150.1L459.6 146.6ZM420.9 156L426.2 160L435.6 154.1L430.3 149.7ZM426.2 160L431.4 163.6L440.8 158.3L435.6 154.1Z" fill="#d4ff5b" stroke="#d4ff5b" stroke-width="0.5"/>
<path d="M336.5 85.1L337.9 88.1L340.2 84.9L338.9 82.1ZM341.5 87.8L342.8 90.6L345.2 86.9L343.9 84.3ZM342.8 90.6L344.2 93.4L346.5 89.6L345.2 86.9ZM318.5 83.3L319.8 87.9L322.2 86.4L320.9 82.1ZM320.9 82.1L322.2 86.4L324.5 84.9L323.2 80.8ZM329.2 81.9L330.5 85.5L332.9 83.8L331.6 80.5ZM359.7 103.8L361 106.6L363.3 102.6L362 99.6ZM378.5 117.5L379.9 118.9L382.2 116.3L380.9 114.8ZM379.9 118.9L381.2 120.2L383.5 117.7L382.2 116.3ZM381.2 120.2L382.5 121.6L384.8 119.1L383.5 117.7ZM382.5 121.6L383.8 122.9L386.2 120.5L384.8 119.1ZM383.8 122.9L385.1 124.3L387.5 122L386.2 120.5ZM386 126.1L388.1 127.9L391.8 124.3L389.7 122.5ZM388.1 127.9L390.2 129.7L393.9 126.1L391.8 124.3ZM390.2 129.7L392.3 131.5L396 128L393.9 126.1ZM392.3 131.5L394.4 133.3L398.1 129.8L396 128ZM469 141.5L474.3 146L483.7 141.9L478.4 136.4ZM391.5 139.6L395 141.9L401.3 136.5L397.7 133.9ZM395 141.9L398.5 144.1L404.8 139L401.3 136.5ZM398.5 144.1L402 146.3L408.3 141.6L404.8 139ZM401 154.9L406.3 158.8L415.7 152L410.4 148ZM440.8 158.3L446.1 162.4L455.5 156.3L450.2 152.4ZM406.3 158.8L411.5 162.3L420.9 156L415.7 152ZM411.5 162.3L416.8 165.8L426.2 160L420.9 156Z" fill="#ceff64" stroke="#ceff64" stroke-width="0.5"/>
<path d="M337.9 88.1L339.2 91.2L341.5 87.8L340.2 84.9ZM344.2 93.4L345.5 96.3L347.8 92.2L346.5 89.6ZM313.8 85.8L315.1 90.8L317.5 89.4L316.1 84.5ZM316.1 84.5L317.5 89.4L319.8 87.9L318.5 83.3ZM326.9 83.4L328.2 87.2L330.5 85.5L329.2 81.9ZM332.9 83.8L334.2 87.1L336.5 85.1L335.2 82ZM361 106.6L362.3 109.3L364.6 105.6L363.3 102.6ZM367.3 111.5L368.6 114.5L370.9 111.3L369.6 108.1ZM372.3 114.4L373.6 117.6L375.9 114.8L374.6 111.4ZM385.1 124.3L386.4 125.7L388.8 123.4L387.5 122ZM388.5 135L390.6 136.7L394.4 133.3L392.3 131.5ZM390.6 136.7L392.7 138.5L396.5 135.1L394.4 133.3ZM392.2 149.2L395.7 151.1L402 146.3L398.5 144.1ZM395.7 151.1L401 154.9L410.4 148L405.1 144ZM391.6 161.7L396.9 164.9L406.3 158.8L401 154.9ZM416.8 165.8L422 169L431.4 163.6L426.2 160ZM422 169L427.3 172.2L436.7 167.3L431.4 163.6ZM431.4 163.6L436.7 167.3L446.1 162.4L440.8 158.3ZM396.9 164.9L402.1 168.1L411.5 162.3L406.3 158.8ZM402.1 168.1L407.4 171.3L416.8 165.8L411.5 162.3ZM407.4 171.3L412.6 174.2L422 169L416.8 165.8Z" fill="#c8ff6f" stroke="#c8ff6f" stroke-width="0.5"/>
<path d="M339.2 91.2L340.5 94.2L342.8 90.6L341.5 87.8ZM345.5 96.3L346.8 97.4L349.1 93.3L347.8 92.2ZM346.8 97.4L348.1 98.6L350.5 94.4L349.1 93.3ZM348.1 98.6L349.4 99.7L351.8 95.5L350.5 94.4ZM324.5 84.9L325.8 89L328.2 87.2L326.9 83.4ZM330.5 85.5L331.8 89.1L334.2 87.1L332.9 83.8ZM334.2 87.1L335.5 90.4L337.9 88.1L336.5 85.1ZM373.6 117.6L374.9 118.9L377.2 116.2L375.9 114.8ZM374.9 118.9L376.2 120.2L378.5 117.5L377.2 116.2ZM376.2 120.2L377.5 121.5L379.9 118.9L378.5 117.5ZM377.5 121.5L378.8 122.8L381.2 120.2L379.9 118.9ZM378.8 122.8L380.1 124.1L382.5 121.6L381.2 120.2ZM380.1 124.1L381.5 125.3L383.8 122.9L382.5 121.6ZM381.5 125.3L382.8 126.6L385.1 124.3L383.8 122.9ZM382.8 126.6L384.1 127.9L386.4 125.7L385.1 124.3ZM295 123.2L296.3 126.4L298.7 122L297.4 118.5ZM297.4 118.5L298.7 122L301 117.5L299.7 113.8ZM299.7 113.8L301 117.5L303.4 113.1L302.1 109.2ZM302.1 109.2L303.4 113.1L305.7 108.6L304.4 104.5ZM304.4 104.5L305.7 108.6L308.1 104.2L306.8 99.8ZM306.8 99.8L308.1 104.2L310.4 99.7L309.1 95.1ZM309.1 95.1L310.4 99.7L312.8 95.3L311.4 90.4ZM311.4 90.4L312.8 95.3L315.1 90.8L313.8 85.8ZM384.3 131.5L386.4 133.2L390.2 129.7L388.1 127.9ZM386.4 133.2L388.5 135L392.3 131.5L390.2 129.7ZM386.9 140.2L389 141.9L392.7 138.5L390.6 136.7ZM388.7 147.2L392.2 149.2L398.5 144.1L395 141.9ZM386.3 158.4L391.6 161.7L401 154.9L395.7 151.1ZM382.2 168.4L387.5 171L396.9 164.9L391.6 161.7ZM387.5 171L392.7 173.9L402.1 168.1L396.9 164.9ZM392.7 173.9L398 176.8L407.4 171.3L402.1 168.1ZM398 176.8L403.2 179.4L412.6 174.2L407.4 171.3ZM403.2 179.4L408.5 182.1L417.9 177.1L412.6 174.2ZM412.6 174.2L417.9 177.1L427.3 172.2L422 169ZM378.1 177.1L383.3 180L392.7 173.9L387.5 171ZM383.3 180L388.6 182.9L398 176.8L392.7 173.9ZM388.6 182.9L393.8 185.6L403.2 179.4L398 176.8ZM393.8 185.6L399.1 188.2L408.5 182.1L403.2 179.4Z" fill="#c3ff79" stroke="#c3ff79" stroke-width="0.5"/>
<path d="M340.5 94.2L341.8 97.3L344.2 93.4L342.8 90.6ZM352 102L353.4 103.1L355.7 98.8L354.4 97.7ZM353.4 103.1L354.7 104.3L357 99.9L355.7 98.8ZM319.8 87.9L321.1 92.4L323.5 90.7L322.2 86.4ZM328.2 87.2L329.5 91.1L331.8 89.1L330.5 85.5ZM331.8 89.1L333.2 92.6L335.5 90.4L334.2 87.1ZM335.5 90.4L336.8 93.7L339.2 91.2L337.9 88.1ZM363.6 112.1L364.9 114.9L367.3 111.5L366 108.5ZM377.8 126.5L379.1 127.8L381.5 125.3L380.1 124.1ZM379.1 127.8L380.4 129L382.8 126.6L381.5 125.3ZM380.4 129L381.7 130.2L384.1 127.9L382.8 126.6ZM380.6 135.1L382.7 136.8L386.4 133.2L384.3 131.5ZM382.7 136.8L384.8 138.5L388.5 135L386.4 133.2ZM383.1 143.6L385.2 145.3L389 141.9L386.9 140.2ZM378.9 150.2L382.5 152.1L388.7 147.2L385.2 145.3ZM376.2 157L379.7 158.9L386 154.1L382.5 152.1ZM373.4 163.8L376.9 165.8L383.2 160.9L379.7 158.9ZM362.3 169L367.5 171.9L376.9 165.8L371.7 162.8Z" fill="#b9ff8d" stroke="#b9ff8d" stroke-width="0.5"/>
<path d="M341.8 97.3L343.1 100.4L345.5 96.3L344.2 93.4ZM354.7 104.3L356 105.4L358.3 101L357 99.9ZM317.5 89.4L318.8 94.2L321.1 92.4L319.8 87.9ZM325.8 89L327.1 93L329.5 91.1L328.2 87.2ZM336.8 93.7L338.1 97L340.5 94.2L339.2 91.2ZM356 105.4L357.3 108L359.7 103.8L358.3 101ZM369.9 117.4L371.2 120.4L373.6 117.6L372.3 114.4ZM372.5 121.6L373.8 122.9L376.2 120.2L374.9 118.9ZM373.8 122.9L375.2 124.1L377.5 121.5L376.2 120.2ZM375.2 124.1L376.5 125.3L378.8 122.8L377.5 121.5ZM376.5 125.3L377.8 126.5L380.1 124.1L378.8 122.8ZM378.1 131.3L379.4 132.5L381.7 130.2L380.4 129ZM378.4 133.4L380.6 135.1L384.3 131.5L382.2 129.8ZM381 142L383.1 143.6L386.9 140.2L384.8 138.5ZM379.3 146.7L381.5 148.2L385.2 145.3L383.1 143.6ZM372.7 155L376.2 157L382.5 152.1L378.9 150.2ZM369.9 161.9L373.4 163.8L379.7 158.9L376.2 157ZM352.9 175.1L358.1 178L367.5 171.9L362.3 169Z" fill="#b4ff97" stroke="#b4ff97" stroke-width="0.5"/>
<path d="M343.1 100.4L344.4 101.5L346.8 97.4L345.5 96.3ZM344.4 101.5L345.8 102.7L348.1 98.6L346.8 97.4ZM315.1 90.8L316.4 95.9L318.8 94.2L317.5 89.4ZM329.5 91.1L330.8 94.9L333.2 92.6L331.8 89.1ZM333.2 92.6L334.5 96.2L336.8 93.7L335.5 90.4ZM357.3 108L358.6 110.6L361 106.6L359.7 103.8ZM364.9 114.9L366.2 117.7L368.6 114.5L367.3 111.5ZM371.2 120.4L372.5 121.6L374.9 118.9L373.6 117.6ZM375.4 129L376.8 130.2L379.1 127.8L377.8 126.5ZM376.8 130.2L378.1 131.3L380.4 129L379.1 127.8ZM296.3 126.4L297.6 129.6L300 125.4L298.7 122ZM298.7 122L300 125.4L302.3 121.2L301 117.5ZM301 117.5L302.3 121.2L304.7 117L303.4 113.1ZM303.4 113.1L304.7 117L307 112.8L305.7 108.6ZM305.7 108.6L307 112.8L309.4 108.6L308.1 104.2ZM308.1 104.2L309.4 108.6L311.7 104.3L310.4 99.7ZM310.4 99.7L311.7 104.3L314.1 100.1L312.8 95.3ZM312.8 95.3L314.1 100.1L316.4 95.9L315.1 90.8ZM376.8 138.7L378.9 140.3L382.7 136.8L380.6 135.1ZM378.9 140.3L381 142L384.8 138.5L382.7 136.8ZM377.2 145.1L379.3 146.7L383.1 143.6L381 142ZM375.6 149.7L377.7 151.1L381.5 148.2L379.3 146.7ZM347.6 172.2L352.9 175.1L362.3 169L357 166Z" fill="#b0ffa2" stroke="#b0ffa2" stroke-width="0.5"/>
<path d="M345.8 102.7L347.1 103.9L349.4 99.7L348.1 98.6ZM323.5 90.7L324.8 95L327.1 93L325.8 89ZM338.1 97L339.5 100.3L341.8 97.3L340.5 94.2ZM358.6 110.6L359.9 113.1L362.3 109.3L361 106.6ZM366.2 117.7L367.6 120.4L369.9 117.4L368.6 114.5ZM372.8 126.7L374.1 127.9L376.5 125.3L375.2 124.1ZM374.1 127.9L375.4 129L377.8 126.5L376.5 125.3ZM375.7 133.7L377 134.8L379.4 132.5L378.1 131.3ZM374.7 137.1L376.8 138.7L380.6 135.1L378.4 133.4ZM375.1 143.6L377.2 145.1L381 142L378.9 140.3ZM373.5 148.2L375.6 149.7L379.3 146.7L377.2 145.1ZM371.8 152.7L373.9 154.1L377.7 151.1L375.6 149.7ZM366.4 159.9L369.9 161.9L376.2 157L372.7 155ZM357 166L362.3 169L371.7 162.8L366.4 159.9Z" fill="#abffad" stroke="#abffad" stroke-width="0.5"/>
<path d="M347.1 103.9L348.4 105.1L350.7 100.8L349.4 99.7ZM321.1 92.4L322.4 97L324.8 95L323.5 90.7ZM327.1 93L328.5 97.1L330.8 94.9L329.5 91.1ZM334.5 96.2L335.8 99.7L338.1 97L336.8 93.7ZM339.5 100.3L340.8 103.6L343.1 100.4L341.8 97.3ZM359.9 113.1L361.3 115.7L363.6 112.1L362.3 109.3ZM367.6 120.4L368.9 123.2L371.2 120.4L369.9 117.4ZM370.2 124.4L371.5 125.5L373.8 122.9L372.5 121.6ZM371.5 125.5L372.8 126.7L375.2 124.1L373.8 122.9ZM373.1 131.5L374.4 132.6L376.8 130.2L375.4 129ZM374.4 132.6L375.7 133.7L378.1 131.3L376.8 130.2ZM373 142L375.1 143.6L378.9 140.3L376.8 138.7ZM371.4 146.8L373.5 148.2L377.2 145.1L375.1 143.6ZM369.7 151.4L371.8 152.7L375.6 149.7L373.5 148.2ZM364.3 158.8L366.4 159.9L370.2 157L368.1 155.7ZM368.1 155.7L370.2 157L373.9 154.1L371.8 152.7ZM345 170.7L347.6 172.2L352.3 169.1L349.7 167.6ZM349.7 167.6L352.3 169.1L357 166L354.4 164.6Z" fill="#a8ffb7" stroke="#a8ffb7" stroke-width="0.5"/>
<path d="M349.4 99.7L350.7 100.8L353.1 96.6L351.8 95.5ZM350.7 100.8L352 102L354.4 97.7L353.1 96.6ZM322.2 86.4L323.5 90.7L325.8 89L324.5 84.9ZM362.3 109.3L363.6 112.1L366 108.5L364.6 105.6ZM368.6 114.5L369.9 117.4L372.3 114.4L370.9 111.3ZM382.2 129.8L384.3 131.5L388.1 127.9L386 126.1ZM384.8 138.5L386.9 140.2L390.6 136.7L388.5 135ZM385.2 145.3L388.7 147.2L395 141.9L391.5 139.6ZM382.5 152.1L386 154.1L392.2 149.2L388.7 147.2ZM379.7 158.9L383.2 160.9L389.5 156L386 154.1ZM386 154.1L389.5 156L395.7 151.1L392.2 149.2ZM376.9 165.8L382.2 168.4L391.6 161.7L386.3 158.4ZM358.1 178L363.4 180.6L372.8 174.5L367.5 171.9ZM367.5 171.9L372.8 174.5L382.2 168.4L376.9 165.8ZM363.4 180.6L368.7 183.2L378.1 177.1L372.8 174.5ZM372.8 174.5L378.1 177.1L387.5 171L382.2 168.4ZM368.7 183.2L373.9 186.2L383.3 180L378.1 177.1ZM373.9 186.2L379.2 189.1L388.6 182.9L383.3 180ZM379.2 189.1L384.4 191.7L393.8 185.6L388.6 182.9ZM384.4 191.7L389.7 194.3L399.1 188.2L393.8 185.6Z" fill="#beff83" stroke="#beff83" stroke-width="0.5"/>
<path d="M348.4 105.1L349.7 106.2L352 102L350.7 100.8ZM318.8 94.2L320.1 99L322.4 97L321.1 92.4ZM330.8 94.9L332.1 98.7L334.5 96.2L333.2 92.6ZM361.3 115.7L362.6 118.3L364.9 114.9L363.6 112.1ZM340.8 103.6L342.1 104.8L344.4 101.5L343.1 100.4ZM368.9 123.2L370.2 124.4L372.5 121.6L371.2 120.4ZM371.8 130.4L373.1 131.5L375.4 129L374.1 127.9ZM373.4 136L374.7 137.1L377 134.8L375.7 133.7ZM297.6 129.6L298.9 132.8L301.3 128.8L300 125.4ZM370.9 140.5L373 142L376.8 138.7L374.7 137.1ZM367.6 150L369.7 151.4L373.5 148.2L371.4 146.8ZM366 154.5L368.1 155.7L371.8 152.7L369.7 151.4ZM354.4 164.6L357 166L361.7 163L359.1 161.5ZM359.1 161.5L361.7 163L366.4 159.9L363.8 158.5Z" fill="#a4ffc1" stroke="#a4ffc1" stroke-width="0.5"/>
<path d="M349.7 106.2L351 107.4L353.4 103.1L352 102ZM351 107.4L352.3 108.6L354.7 104.3L353.4 103.1ZM324.8 95L326.1 99.3L328.5 97.1L327.1 93ZM335.8 99.7L337.1 103.3L339.5 100.3L338.1 97ZM362.6 118.3L363.9 120.9L366.2 117.7L364.9 114.9ZM342.1 104.8L343.4 106L345.8 102.7L344.4 101.5ZM369.1 128.2L370.5 129.3L372.8 126.7L371.5 125.5ZM370.5 129.3L371.8 130.4L374.1 127.9L372.8 126.7ZM370.7 134L372.1 135L374.4 132.6L373.1 131.5ZM372.1 135L373.4 136L375.7 133.7L374.4 132.6ZM300 125.4L301.3 128.8L303.6 124.9L302.3 121.2ZM302.3 121.2L303.6 124.9L306 120.9L304.7 117ZM304.7 117L306 120.9L308.3 116.9L307 112.8ZM307 112.8L308.3 116.9L310.7 112.9L309.4 108.6ZM371 138.2L372.3 139.2L374.7 137.1L373.4 136ZM369.3 145.3L371.4 146.8L375.1 143.6L373 142ZM362.2 157.6L364.3 158.8L368.1 155.7L366 154.5ZM342.4 169.2L345 170.7L349.7 167.6L347.1 166.2Z" fill="#a1ffca" stroke="#a1ffca" stroke-width="0.5"/>
<path d="M352.3 108.6L353.6 109.8L356 105.4L354.7 104.3ZM316.4 95.9L317.7 101L320.1 99L318.8 94.2ZM328.5 97.1L329.8 101.2L332.1 98.7L330.8 94.9ZM332.1 98.7L333.4 102.5L335.8 99.7L334.5 96.2ZM363.9 120.9L365.2 123.4L367.6 120.4L366.2 117.7ZM343.4 106L344.7 107.2L347.1 103.9L345.8 102.7ZM367.8 127.1L369.1 128.2L371.5 125.5L370.2 124.4ZM369.4 132.9L370.7 134L373.1 131.5L371.8 130.4ZM309.4 108.6L310.7 112.9L313 109L311.7 104.3ZM311.7 104.3L313 109L315.4 105L314.1 100.1ZM314.1 100.1L315.4 105L317.7 101L316.4 95.9ZM369.7 137.2L371 138.2L373.4 136L372.1 135ZM368.7 140.3L370 141.3L372.3 139.2L371 138.2ZM367.2 143.9L369.3 145.3L373 142L370.9 140.5ZM365.5 148.6L367.6 150L371.4 146.8L369.3 145.3ZM363.9 153.2L366 154.5L369.7 151.4L367.6 150ZM347.1 166.2L349.7 167.6L354.4 164.6L351.8 163.1ZM351.8 163.1L354.4 164.6L359.1 161.5L356.5 160.1ZM356.5 160.1L359.1 161.5L363.8 158.5L361.2 157Z" fill="#9effd3" stroke="#9effd3" stroke-width="0.5"/>
<path d="M317.7 101L319.1 106.1L321.4 103.8L320.1 99ZM323.8 101.6L325.1 106.2L327.4 103.7L326.1 99.3ZM334.8 106.3L336.1 110.1L338.4 106.9L337.1 103.3ZM342.4 110.6L343.7 111.8L346 108.4L344.7 107.2ZM343.7 111.8L345 113L347.3 109.6L346 108.4ZM350 112.1L351.3 113.3L353.6 109.8L352.3 108.6ZM313 109L314.4 113.6L316.7 109.8L315.4 105ZM315.4 105L316.7 109.8L319.1 106.1L317.7 101ZM351.3 113.3L352.6 115.5L355 112.2L353.6 109.8ZM363.1 132.2L364.4 133.2L366.8 130.9L365.5 129.8ZM362.4 139.7L363.7 140.6L366 138.4L364.7 137.4ZM361.3 142.8L362.7 143.7L365 141.6L363.7 140.6ZM356.9 151.1L358.2 152L360.6 149.8L359.3 149ZM335 165.3L337.1 166.3L340.8 163.9L338.7 162.8ZM351.2 157.2L353.8 158.6L358.5 155.6L355.9 154.1Z" fill="#87fff5" stroke="#87fff5" stroke-width="0.5"/>
<path d="M320.1 99L321.4 103.8L323.8 101.6L322.4 97ZM329.8 101.2L331.1 105.2L333.4 102.5L332.1 98.7ZM358.9 119.3L360.2 121.7L362.6 118.3L361.3 115.7ZM360.2 121.7L361.5 124.1L363.9 120.9L362.6 118.3ZM339.7 108.1L341.1 109.3L343.4 106L342.1 104.8ZM347.3 109.6L348.7 110.9L351 107.4L349.7 106.2ZM365.5 129.8L366.8 130.9L369.1 128.2L367.8 127.1ZM303.6 124.9L305 128.5L307.3 124.8L306 120.9ZM306 120.9L307.3 124.8L309.7 121L308.3 116.9ZM365.8 134.2L367.1 135.2L369.4 132.9L368.1 131.9ZM364.7 137.4L366 138.4L368.4 136.2L367.1 135.2ZM363.7 140.6L365 141.6L367.4 139.4L366 138.4ZM362.7 143.7L364 144.7L366.3 142.5L365 141.6ZM361.6 146.8L362.9 147.7L365.3 145.6L364 144.7ZM359.6 150.7L361.8 151.9L365.5 148.6L363.4 147.3ZM358 155.3L360.1 156.4L363.9 153.2L361.8 151.9ZM337.1 166.3L339.7 167.8L344.4 164.7L341.8 163.3Z" fill="#8fffe8" stroke="#8fffe8" stroke-width="0.5"/>
<path d="M322.4 97L323.8 101.6L326.1 99.3L324.8 95ZM337.1 103.3L338.4 106.9L340.8 103.6L339.5 100.3ZM353.6 109.8L355 112.2L357.3 108L356 105.4ZM355 112.2L356.3 114.5L358.6 110.6L357.3 108ZM365.2 123.4L366.5 126L368.9 123.2L367.6 120.4ZM344.7 107.2L346 108.4L348.4 105.1L347.1 103.9ZM366.5 126L367.8 127.1L370.2 124.4L368.9 123.2ZM368.1 131.9L369.4 132.9L371.8 130.4L370.5 129.3ZM368.4 136.2L369.7 137.2L372.1 135L370.7 134ZM367.4 139.4L368.7 140.3L371 138.2L369.7 137.2ZM366.3 142.5L367.6 143.4L370 141.3L368.7 140.3ZM363.4 147.3L365.5 148.6L369.3 145.3L367.2 143.9ZM361.8 151.9L363.9 153.2L367.6 150L365.5 148.6ZM360.1 156.4L362.2 157.6L366 154.5L363.9 153.2ZM339.7 167.8L342.4 169.2L347.1 166.2L344.4 164.7Z" fill="#99ffdb" stroke="#99ffdb" stroke-width="0.5"/>
<path d="M319.1 106.1L320.4 111.2L322.7 108.7L321.4 103.8ZM328.7 108L330.1 112.3L332.4 109.3L331.1 105.2ZM332.4 109.3L333.7 113.4L336.1 110.1L334.8 106.3ZM341.3 115.2L342.6 116.4L345 113L343.7 111.8ZM342.6 116.4L344 117.7L346.3 114.3L345 113ZM312 117.3L313.3 121.7L315.7 118.2L314.4 113.6ZM301.6 139.2L302.9 142.4L305.2 139.2L303.9 135.7ZM357.1 135.9L358.4 136.8L360.8 134.5L359.5 133.5ZM356.1 139.2L357.4 140.1L359.7 137.8L358.4 136.8ZM353 148.6L354.3 149.5L356.6 147.3L355.3 146.4ZM351.9 151.7L353.3 152.5L355.6 150.3L354.3 149.5ZM330.8 163.2L332.9 164.2L336.6 161.7L334.5 160.6ZM344.2 156.6L346.3 157.8L350 155.3L347.9 154.1ZM347.9 154.1L350 155.3L353.8 152.8L351.7 151.5Z" fill="#73f2ff" stroke="#73f2ff" stroke-width="0.5"/>
<path d="M321.4 103.8L322.7 108.7L325.1 106.2L323.8 101.6ZM337.4 111.4L338.7 112.6L341.1 109.3L339.7 108.1ZM346.3 114.3L347.6 115.5L350 112.1L348.7 110.9ZM305 128.5L306.3 132.2L308.6 128.7L307.3 124.8ZM360.5 128.9L361.8 131.2L364.2 128.8L362.9 126.4ZM360.8 134.5L362.1 135.5L364.4 133.2L363.1 132.2ZM359.7 137.8L361.1 138.7L363.4 136.4L362.1 135.5ZM358.7 141L360 141.9L362.4 139.7L361.1 138.7ZM357.7 144.1L359 145L361.3 142.8L360 141.9ZM356.6 147.3L358 148.1L360.3 145.9L359 145ZM355.6 150.3L356.9 151.1L359.3 149L358 148.1ZM332.9 164.2L335 165.3L338.7 162.8L336.6 161.7ZM346.3 157.8L348.4 159L352.1 156.5L350 155.3ZM350 155.3L352.1 156.5L355.9 154.1L353.8 152.8Z" fill="#7dfeff" stroke="#7dfeff" stroke-width="0.5"/>
<path d="M326.1 99.3L327.4 103.7L329.8 101.2L328.5 97.1ZM333.4 102.5L334.8 106.3L337.1 103.3L335.8 99.7ZM356.3 114.5L357.6 116.9L359.9 113.1L358.6 110.6ZM357.6 116.9L358.9 119.3L361.3 115.7L359.9 113.1ZM338.4 106.9L339.7 108.1L342.1 104.8L340.8 103.6ZM346 108.4L347.3 109.6L349.7 106.2L348.4 105.1ZM366.8 130.9L368.1 131.9L370.5 129.3L369.1 128.2ZM298.9 132.8L300.3 136L302.6 132.3L301.3 128.8ZM301.3 128.8L302.6 132.3L305 128.5L303.6 124.9ZM367.1 135.2L368.4 136.2L370.7 134L369.4 132.9ZM366 138.4L367.4 139.4L369.7 137.2L368.4 136.2ZM365 141.6L366.3 142.5L368.7 140.3L367.4 139.4ZM364 144.7L365.3 145.6L367.6 143.4L366.3 142.5ZM344.4 164.7L347.1 166.2L351.8 163.1L349.1 161.7ZM349.1 161.7L351.8 163.1L356.5 160.1L353.8 158.6ZM353.8 158.6L356.5 160.1L361.2 157L358.5 155.6Z" fill="#94ffe2" stroke="#94ffe2" stroke-width="0.5"/>
<path d="M320.4 111.2L321.7 116.2L324 113.5L322.7 108.7ZM331.4 116.6L332.7 117.9L335 114.7L333.7 113.4ZM332.7 117.9L334 119.3L336.4 116L335 114.7ZM315.7 118.2L317 122.8L319.3 119.5L318 114.7ZM305.2 139.2L306.6 142.6L308.9 139.6L307.6 135.9ZM347.2 133.9L348.5 135.6L350.8 132.8L349.5 131ZM348.5 135.6L349.8 137.2L352.1 134.6L350.8 132.8ZM350.1 142.9L351.4 143.8L353.7 141.5L352.4 140.6ZM349 146.1L350.3 147L352.7 144.7L351.4 143.8ZM348 149.3L349.3 150.1L351.7 147.8L350.3 147ZM330.3 158.4L332.4 159.5L336.2 156.9L334.1 155.7ZM343.7 151.6L345.8 152.8L349.6 150.2L347.5 148.9Z" fill="#5bceff" stroke="#5bceff" stroke-width="0.5"/>
<path d="M322.7 108.7L324 113.5L326.4 110.7L325.1 106.2ZM335 114.7L336.4 116L338.7 112.6L337.4 111.4ZM336.4 116L337.7 117.2L340 113.9L338.7 112.6ZM345.3 119L346.6 120.2L348.9 116.7L347.6 115.5ZM306.3 132.2L307.6 135.9L309.9 132.6L308.6 128.7ZM346.6 120.2L347.9 122.2L350.3 118.8L348.9 116.7ZM347.9 122.2L349.2 124.1L351.6 120.9L350.3 118.8ZM349.2 124.1L350.5 126.1L352.9 123L351.6 120.9ZM353.5 136.4L354.8 138.2L357.1 135.9L355.8 133.9ZM354.8 138.2L356.1 139.2L358.4 136.8L357.1 135.9ZM353.7 141.5L355 142.4L357.4 140.1L356.1 139.2ZM352.7 144.7L354 145.5L356.4 143.3L355 142.4ZM351.7 147.8L353 148.6L355.3 146.4L354 145.5ZM350.6 150.9L351.9 151.7L354.3 149.5L353 148.6ZM328.7 162.1L330.8 163.2L334.5 160.6L332.4 159.5ZM342.1 155.4L344.2 156.6L347.9 154.1L345.8 152.8Z" fill="#69e4ff" stroke="#69e4ff" stroke-width="0.5"/>
<path d="M325.1 106.2L326.4 110.7L328.7 108L327.4 103.7ZM338.7 112.6L340 113.9L342.4 110.6L341.1 109.3ZM340 113.9L341.3 115.2L343.7 111.8L342.4 110.6ZM347.6 115.5L348.9 116.7L351.3 113.3L350 112.1ZM307.3 124.8L308.6 128.7L311 125.2L309.7 121ZM309.7 121L311 125.2L313.3 121.7L312 117.3ZM348.9 116.7L350.3 118.8L352.6 115.5L351.3 113.3ZM350.3 118.8L351.6 120.9L353.9 117.7L352.6 115.5ZM351.6 120.9L352.9 123L355.2 120L353.9 117.7ZM352.9 123L354.2 125.1L356.6 122.2L355.2 120ZM354.2 125.1L355.5 127.2L357.9 124.5L356.6 122.2ZM355.5 127.2L356.8 129.3L359.2 126.7L357.9 124.5ZM356.8 129.3L358.2 131.4L360.5 128.9L359.2 126.7ZM358.2 131.4L359.5 133.5L361.8 131.2L360.5 128.9ZM359.5 133.5L360.8 134.5L363.1 132.2L361.8 131.2ZM358.4 136.8L359.7 137.8L362.1 135.5L360.8 134.5ZM357.4 140.1L358.7 141L361.1 138.7L359.7 137.8ZM356.4 143.3L357.7 144.1L360 141.9L358.7 141ZM355.3 146.4L356.6 147.3L359 145L357.7 144.1ZM354.3 149.5L355.6 150.3L358 148.1L356.6 147.3ZM353.3 152.5L354.6 153.3L356.9 151.1L355.6 150.3ZM336.6 161.7L338.7 162.8L342.5 160.3L340.4 159.2ZM340.4 159.2L342.5 160.3L346.3 157.8L344.2 156.6Z" fill="#78f8ff" stroke="#78f8ff" stroke-width="0.5"/>
<path d="M327.4 103.7L328.7 108L331.1 105.2L329.8 101.2ZM331.1 105.2L332.4 109.3L334.8 106.3L333.4 102.5ZM336.1 110.1L337.4 111.4L339.7 108.1L338.4 106.9ZM345 113L346.3 114.3L348.7 110.9L347.3 109.6ZM300.3 136L301.6 139.2L303.9 135.7L302.6 132.3ZM302.6 132.3L303.9 135.7L306.3 132.2L305 128.5ZM352.6 115.5L353.9 117.7L356.3 114.5L355 112.2ZM353.9 117.7L355.2 120L357.6 116.9L356.3 114.5ZM355.2 120L356.6 122.2L358.9 119.3L357.6 116.9ZM356.6 122.2L357.9 124.5L360.2 121.7L358.9 119.3ZM357.9 124.5L359.2 126.7L361.5 124.1L360.2 121.7ZM359.2 126.7L360.5 128.9L362.9 126.4L361.5 124.1ZM361.8 131.2L363.1 132.2L365.5 129.8L364.2 128.8ZM362.1 135.5L363.4 136.4L365.8 134.2L364.4 133.2ZM361.1 138.7L362.4 139.7L364.7 137.4L363.4 136.4ZM360 141.9L361.3 142.8L363.7 140.6L362.4 139.7ZM359 145L360.3 145.9L362.7 143.7L361.3 142.8ZM358 148.1L359.3 149L361.6 146.8L360.3 145.9ZM354.6 153.3L355.9 154.1L358.2 152L356.9 151.1ZM338.7 162.8L340.8 163.9L344.6 161.4L342.5 160.3ZM342.5 160.3L344.6 161.4L348.4 159L346.3 157.8Z" fill="#83fffb" stroke="#83fffb" stroke-width="0.5"/>
<path d="M321.7 116.2L323 121.3L325.4 118.3L324 113.5ZM334.3 125.3L335.6 126.6L337.9 123.2L336.6 121.9ZM335.6 126.6L336.9 128L339.3 124.5L337.9 123.2ZM336.9 128L338.2 129.3L340.6 125.9L339.3 124.5ZM338.2 129.3L339.5 130.7L341.9 127.2L340.6 125.9ZM317 122.8L318.3 127.4L320.7 124.4L319.3 119.5ZM308.9 139.6L310.2 143.2L312.6 140.4L311.3 136.5ZM339.5 130.7L340.9 132.2L343.2 128.9L341.9 127.2ZM341.1 138.3L342.5 139.7L344.8 136.8L343.5 135.3ZM342.7 145.2L344.1 146.4L346.4 143.9L345.1 142.5ZM305.5 148.8L308.2 150.3L312.9 145L310.2 143.2ZM318.1 156L320.3 157.2L324 154.1L321.9 152.7ZM327.8 151L329.9 152.6L333.6 149.6L331.5 147.9ZM333.6 149.6L335.7 151.3L339.5 148.5L337.4 146.6Z" fill="#42a1ff" stroke="#42a1ff" stroke-width="0.5"/>
<path d="M324 113.5L325.4 118.3L327.7 115.3L326.4 110.7ZM327.7 115.3L329 119.9L331.4 116.6L330.1 112.3ZM337.9 123.2L339.3 124.5L341.6 121.1L340.3 119.8ZM339.3 124.5L340.6 125.9L342.9 122.4L341.6 121.1ZM340.6 125.9L341.9 127.2L344.2 123.7L342.9 122.4ZM309.9 132.6L311.3 136.5L313.6 133.5L312.3 129.3ZM341.9 127.2L343.2 128.9L345.6 125.5L344.2 123.7ZM343.2 128.9L344.5 130.5L346.9 127.3L345.6 125.5ZM344.8 136.8L346.1 138.3L348.5 135.6L347.2 133.9ZM346.1 138.3L347.4 139.9L349.8 137.2L348.5 135.6ZM346.4 143.9L347.7 145.3L350.1 142.9L348.8 141.4ZM322.4 158.5L324.5 159.8L328.2 157L326.1 155.6ZM328.2 157L330.3 158.4L334.1 155.7L332 154.1ZM337.8 153L340 154.2L343.7 151.6L341.6 150.3ZM341.6 150.3L343.7 151.6L347.5 148.9L345.4 147.7Z" fill="#51bdff" stroke="#51bdff" stroke-width="0.5"/>
<path d="M326.4 110.7L327.7 115.3L330.1 112.3L328.7 108ZM330.1 112.3L331.4 116.6L333.7 113.4L332.4 109.3ZM337.7 117.2L339 118.5L341.3 115.2L340 113.9ZM339 118.5L340.3 119.8L342.6 116.4L341.3 115.2ZM340.3 119.8L341.6 121.1L344 117.7L342.6 116.4ZM308.6 128.7L309.9 132.6L312.3 129.3L311 125.2ZM349.5 131L350.8 132.8L353.2 130L351.9 128.1ZM350.8 132.8L352.1 134.6L354.5 132L353.2 130ZM352.1 134.6L353.5 136.4L355.8 133.9L354.5 132ZM352.4 140.6L353.7 141.5L356.1 139.2L354.8 138.2ZM351.4 143.8L352.7 144.7L355 142.4L353.7 141.5ZM350.3 147L351.7 147.8L354 145.5L352.7 144.7ZM349.3 150.1L350.6 150.9L353 148.6L351.7 147.8ZM332.4 159.5L334.5 160.6L338.3 158L336.2 156.9ZM345.8 152.8L347.9 154.1L351.7 151.5L349.6 150.2Z" fill="#65ddff" stroke="#65ddff" stroke-width="0.5"/>
<path d="M323 121.3L324.3 126.4L326.7 123.1L325.4 118.3ZM318.3 127.4L319.6 132L322 129.2L320.7 124.4ZM334.8 137.6L336.2 138.9L338.5 135.5L337.2 134.1ZM314.9 137.6L317.6 139.7L322.3 134.5L319.6 132ZM317.6 139.7L320.2 141.9L324.9 136.9L322.3 134.5ZM320.2 141.9L322.8 144L327.5 139.4L324.9 136.9ZM322.8 144L325.4 146.1L330.1 141.9L327.5 139.4Z" fill="#2164ff" stroke="#2164ff" stroke-width="0.5"/>
<path d="M325.4 118.3L326.7 123.1L329 119.9L327.7 115.3ZM319.3 119.5L320.7 124.4L323 121.3L321.7 116.2ZM311.3 136.5L312.6 140.4L314.9 137.6L313.6 133.5ZM339.8 136.9L341.1 138.3L343.5 135.3L342.2 133.7ZM340.1 142.6L341.4 143.9L343.8 141.1L342.5 139.7ZM341.4 143.9L342.7 145.2L345.1 142.5L343.8 141.1ZM308.2 150.3L310.8 151.8L315.5 146.8L312.9 145ZM310.8 151.8L313.4 153.2L318.1 148.6L315.5 146.8ZM316 154.7L318.1 156L321.9 152.7L319.8 151.3ZM321.9 152.7L324 154.1L327.8 151L325.7 149.4ZM331.5 147.9L333.6 149.6L337.4 146.6L335.3 144.8ZM337.4 146.6L339.5 148.5L343.3 145.7L341.2 143.6Z" fill="#3c96ff" stroke="#3c96ff" stroke-width="0.5"/>
<path d="M361.5 124.1L362.9 126.4L365.2 123.4L363.9 120.9ZM362.9 126.4L364.2 128.8L366.5 126L365.2 123.4ZM341.1 109.3L342.4 110.6L344.7 107.2L343.4 106ZM348.7 110.9L350 112.1L352.3 108.6L351 107.4ZM364.2 128.8L365.5 129.8L367.8 127.1L366.5 126ZM308.3 116.9L309.7 121L312 117.3L310.7 112.9ZM310.7 112.9L312 117.3L314.4 113.6L313 109ZM364.4 133.2L365.8 134.2L368.1 131.9L366.8 130.9ZM363.4 136.4L364.7 137.4L367.1 135.2L365.8 134.2ZM360.3 145.9L361.6 146.8L364 144.7L362.7 143.7ZM359.3 149L360.6 149.8L362.9 147.7L361.6 146.8ZM355.9 154.1L358 155.3L361.8 151.9L359.6 150.7ZM341.8 163.3L344.4 164.7L349.1 161.7L346.5 160.2ZM346.5 160.2L349.1 161.7L353.8 158.6L351.2 157.2Z" fill="#8bffef" stroke="#8bffef" stroke-width="0.5"/>
<path d="M324.3 126.4L325.6 127.8L328 124.5L326.7 123.1ZM325.6 127.8L327 129.2L329.3 125.9L328 124.5ZM327 129.2L328.3 130.6L330.6 127.3L329.3 125.9ZM322.3 134.5L324.9 136.9L329.6 132L327 129.2ZM324.9 136.9L327.5 139.4L332.2 134.8L329.6 132Z" fill="#1a4cff" stroke="#1a4cff" stroke-width="0.5"/>
<path d="M326.7 123.1L328 124.5L330.3 121.2L329 119.9ZM328 124.5L329.3 125.9L331.7 122.6L330.3 121.2ZM329.3 125.9L330.6 127.3L333 123.9L331.7 122.6ZM330.6 127.3L331.9 128.6L334.3 125.3L333 123.9ZM331.9 128.6L333.2 130L335.6 126.6L334.3 125.3ZM333.2 130L334.6 131.4L336.9 128L335.6 126.6ZM334.6 131.4L335.9 132.8L338.2 129.3L336.9 128ZM335.9 132.8L337.2 134.1L339.5 130.7L338.2 129.3ZM337.5 140.1L338.8 141.4L341.1 138.3L339.8 136.9ZM310.2 143.2L312.9 145L317.6 139.7L314.9 137.6ZM312.9 145L315.5 146.8L320.2 141.9L317.6 139.7ZM315.5 146.8L318.1 148.6L322.8 144L320.2 141.9ZM318.1 148.6L320.7 150.4L325.4 146.1L322.8 144ZM323.6 147.9L325.7 149.4L329.4 146.2L327.3 144.4ZM329.4 146.2L331.5 147.9L335.3 144.8L333.2 142.9Z" fill="#2e7eff" stroke="#2e7eff" stroke-width="0.5"/>
<path d="M329 119.9L330.3 121.2L332.7 117.9L331.4 116.6ZM330.3 121.2L331.7 122.6L334 119.3L332.7 117.9ZM331.7 122.6L333 123.9L335.3 120.6L334 119.3ZM333 123.9L334.3 125.3L336.6 121.9L335.3 120.6ZM314.6 126.1L316 130.4L318.3 127.4L317 122.8ZM306.6 142.6L307.9 146L310.2 143.2L308.9 139.6ZM340.9 132.2L342.2 133.7L344.5 130.5L343.2 128.9ZM342.2 133.7L343.5 135.3L345.8 132.2L344.5 130.5ZM342.5 139.7L343.8 141.1L346.1 138.3L344.8 136.8ZM343.8 141.1L345.1 142.5L347.4 139.9L346.1 138.3ZM344.1 146.4L345.4 147.7L347.7 145.3L346.4 143.9ZM320.3 157.2L322.4 158.5L326.1 155.6L324 154.1ZM324 154.1L326.1 155.6L329.9 152.6L327.8 151ZM329.9 152.6L332 154.1L335.7 151.3L333.6 149.6ZM335.7 151.3L337.8 153L341.6 150.3L339.5 148.5ZM339.5 148.5L341.6 150.3L345.4 147.7L343.3 145.7Z" fill="#47aaff" stroke="#47aaff" stroke-width="0.5"/>
<path d="M333.7 113.4L335 114.7L337.4 111.4L336.1 110.1ZM344 117.7L345.3 119L347.6 115.5L346.3 114.3ZM314.4 113.6L315.7 118.2L318 114.7L316.7 109.8ZM316.7 109.8L318 114.7L320.4 111.2L319.1 106.1ZM303.9 135.7L305.2 139.2L307.6 135.9L306.3 132.2ZM350.5 126.1L351.9 128.1L354.2 125.1L352.9 123ZM351.9 128.1L353.2 130L355.5 127.2L354.2 125.1ZM353.2 130L354.5 132L356.8 129.3L355.5 127.2ZM354.5 132L355.8 133.9L358.2 131.4L356.8 129.3ZM355.8 133.9L357.1 135.9L359.5 133.5L358.2 131.4ZM355 142.4L356.4 143.3L358.7 141L357.4 140.1ZM354 145.5L355.3 146.4L357.7 144.1L356.4 143.3ZM334.5 160.6L336.6 161.7L340.4 159.2L338.3 158ZM338.3 158L340.4 159.2L344.2 156.6L342.1 155.4Z" fill="#6eebff" stroke="#6eebff" stroke-width="0.5"/>
<path d="M334 119.3L335.3 120.6L337.7 117.2L336.4 116ZM335.3 120.6L336.6 121.9L339 118.5L337.7 117.2ZM336.6 121.9L337.9 123.2L340.3 119.8L339 118.5ZM318 114.7L319.3 119.5L321.7 116.2L320.4 111.2ZM307.6 135.9L308.9 139.6L311.3 136.5L309.9 132.6ZM344.5 130.5L345.8 132.2L348.2 129.2L346.9 127.3ZM345.8 132.2L347.2 133.9L349.5 131L348.2 129.2ZM347.4 139.9L348.8 141.4L351.1 138.9L349.8 137.2ZM348.8 141.4L350.1 142.9L352.4 140.6L351.1 138.9ZM347.7 145.3L349 146.1L351.4 143.8L350.1 142.9ZM346.7 148.5L348 149.3L350.3 147L349 146.1ZM324.5 159.8L326.6 161.1L330.3 158.4L328.2 157ZM334.1 155.7L336.2 156.9L340 154.2L337.8 153Z" fill="#56c6ff" stroke="#56c6ff" stroke-width="0.5"/>
<path d="M328.3 130.6L329.6 132L331.9 128.6L330.6 127.3ZM329.6 132L330.9 133.4L333.2 130L331.9 128.6ZM330.9 133.4L332.2 134.8L334.6 131.4L333.2 130ZM332.2 134.8L333.5 136.2L335.9 132.8L334.6 131.4ZM333.5 136.2L334.8 137.6L337.2 134.1L335.9 132.8ZM320.7 124.4L322 129.2L324.3 126.4L323 121.3ZM327.5 139.4L330.1 141.9L334.8 137.6L332.2 134.8ZM331.1 141L333.2 142.9L336.9 139.6L334.8 137.6Z" fill="#1e58ff" stroke="#1e58ff" stroke-width="0.5"/>
<path d="M341.6 121.1L342.9 122.4L345.3 119L344 117.7ZM342.9 122.4L344.2 123.7L346.6 120.2L345.3 119ZM311 125.2L312.3 129.3L314.6 126.1L313.3 121.7ZM313.3 121.7L314.6 126.1L317 122.8L315.7 118.2ZM302.9 142.4L304.2 145.6L306.6 142.6L305.2 139.2ZM344.2 123.7L345.6 125.5L347.9 122.2L346.6 120.2ZM345.6 125.5L346.9 127.3L349.2 124.1L347.9 122.2ZM346.9 127.3L348.2 129.2L350.5 126.1L349.2 124.1ZM348.2 129.2L349.5 131L351.9 128.1L350.5 126.1ZM349.8 137.2L351.1 138.9L353.5 136.4L352.1 134.6ZM351.1 138.9L352.4 140.6L354.8 138.2L353.5 136.4ZM326.6 161.1L328.7 162.1L332.4 159.5L330.3 158.4ZM336.2 156.9L338.3 158L342.1 155.4L340 154.2ZM340 154.2L342.1 155.4L345.8 152.8L343.7 151.6Z" fill="#60d6ff" stroke="#60d6ff" stroke-width="0.5"/>
<path d="M312.3 129.3L313.6 133.5L316 130.4L314.6 126.1ZM304.2 145.6L305.5 148.8L307.9 146L306.6 142.6ZM343.5 135.3L344.8 136.8L347.2 133.9L345.8 132.2ZM345.1 142.5L346.4 143.9L348.8 141.4L347.4 139.9ZM345.4 147.7L346.7 148.5L349 146.1L347.7 145.3ZM326.1 155.6L328.2 157L332 154.1L329.9 152.6ZM332 154.1L334.1 155.7L337.8 153L335.7 151.3Z" fill="#4cb4ff" stroke="#4cb4ff" stroke-width="0.5"/>
<path d="M313.6 133.5L314.9 137.6L317.3 134.8L316 130.4ZM337.2 134.1L338.5 135.5L340.9 132.2L339.5 130.7ZM338.5 135.5L339.8 136.9L342.2 133.7L340.9 132.2ZM338.8 141.4L340.1 142.6L342.5 139.7L341.1 138.3ZM313.4 153.2L316 154.7L320.7 150.4L318.1 148.6ZM319.8 151.3L321.9 152.7L325.7 149.4L323.6 147.9ZM325.7 149.4L327.8 151L331.5 147.9L329.4 146.2ZM335.3 144.8L337.4 146.6L341.2 143.6L339.1 141.6Z" fill="#358aff" stroke="#358aff" stroke-width="0.5"/>
<path d="M316 130.4L317.3 134.8L319.6 132L318.3 127.4ZM336.2 138.9L337.5 140.1L339.8 136.9L338.5 135.5ZM327.3 144.4L329.4 146.2L333.2 142.9L331.1 141ZM333.2 142.9L335.3 144.8L339.1 141.6L336.9 139.6Z" fill="#2871ff" stroke="#2871ff" stroke-width="0.5"/>
<path d="M319.6 132L322.3 134.5L327 129.2L324.3 126.4Z" fill="#1640ff" stroke="#1640ff" stroke-width="0.5"/>
<path d="M295 123.2L313.8 85.8L332.6 75.9L351.4 57.1L370.2 44.8L389 42.2M305.5 148.8L324.3 126.4L343.1 100.4L361.9 67.7L380.7 57.9L399.5 48.6M316 154.7L334.8 137.6L353.6 109.8L372.4 74.7L391.2 64.9L410 74.9M326.6 161.1L345.4 147.7L364.2 128.8L383 106.4L401.8 95.3L420.6 98.1M337.1 166.3L355.9 154.1L374.7 137.1L393.5 118.8L412.3 108.4L431.1 106.3M347.6 172.2L366.4 159.9L385.2 145.3L404 128.2L422.8 117.8L441.6 113.1M358.1 178L376.9 165.8L395.7 151.1L414.5 136.8L433.3 129L452.1 118.8M368.7 183.2L387.5 171L406.3 158.8L425.1 145.3L443.9 136.7L462.7 126.8M379.2 189.1L398 176.8L416.8 165.8L435.6 154.1L454.4 143.1L473.2 130.9M389.7 194.3L408.5 182.1L427.3 172.2L446.1 162.4L464.9 150.1L483.7 141.9M295 123.2L305.5 148.8L316 154.7L326.6 161.1L337.1 166.3L347.6 172.2L358.1 178L368.7 183.2L379.2 189.1L389.7 194.3M313.8 85.8L324.3 126.4L334.8 137.6L345.4 147.7L355.9 154.1L366.4 159.9L376.9 165.8L387.5 171L398 176.8L408.5 182.1M332.6 75.9L343.1 100.4L353.6 109.8L364.2 128.8L374.7 137.1L385.2 145.3L395.7 151.1L406.3 158.8L416.8 165.8L427.3 172.2M351.4 57.1L361.9 67.7L372.4 74.7L383 106.4L393.5 118.8L404 128.2L414.5 136.8L425.1 145.3L435.6 154.1L446.1 162.4M370.2 44.8L380.7 57.9L391.2 64.9L401.8 95.3L412.3 108.4L422.8 117.8L433.3 129L443.9 136.7L454.4 143.1L464.9 150.1M389 42.2L399.5 48.6L410 74.9L420.6 98.1L431.1 106.3L441.6 113.1L452.1 118.8L462.7 126.8L473.2 130.9L483.7 141.9" stroke="#dadaea" stroke-width="1.25" fill="none" stroke-linejoin="round"/>
<path d="M295 123.2h0.01M313.8 85.8h0.01M332.6 75.9h0.01M351.4 57.1h0.01M370.2 44.8h0.01M389 42.2h0.01M305.5 148.8h0.01M324.3 126.4h0.01M343.1 100.4h0.01M361.9 67.7h0.01M380.7 57.9h0.01M399.5 48.6h0.01M316 154.7h0.01M334.8 137.6h0.01M353.6 109.8h0.01M372.4 74.7h0.01M391.2 64.9h0.01M410 74.9h0.01M326.6 161.1h0.01M345.4 147.7h0.01M364.2 128.8h0.01M383 106.4h0.01M401.8 95.3h0.01M420.6 98.1h0.01M337.1 166.3h0.01M355.9 154.1h0.01M374.7 137.1h0.01M393.5 118.8h0.01M412.3 108.4h0.01M431.1 106.3h0.01M347.6 172.2h0.01M366.4 159.9h0.01M385.2 145.3h0.01M404 128.2h0.01M422.8 117.8h0.01M441.6 113.1h0.01M358.1 178h0.01M376.9 165.8h0.01M395.7 151.1h0.01M414.5 136.8h0.01M433.3 129h0.01M452.1 118.8h0.01M368.7 183.2h0.01M387.5 171h0.01M406.3 158.8h0.01M425.1 145.3h0.01M443.9 136.7h0.01M462.7 126.8h0.01M379.2 189.1h0.01M398 176.8h0.01M416.8 165.8h0.01M435.6 154.1h0.01M454.4 143.1h0.01M473.2 130.9h0.01M389.7 194.3h0.01M408.5 182.1h0.01M427.3 172.2h0.01M446.1 162.4h0.01M464.9 150.1h0.01M483.7 141.9h0.01" stroke="#0c0c14" stroke-width="1.65" stroke-linecap="round" fill="none"/>
<path d="M295 82.8L295 149.6L389.7 196.7L483.7 150.5M295 149.6L292.7 150.7M305.5 154.8L303.2 156M316 160.1L313.7 161.2M326.6 165.3L324.2 166.4M337.1 170.5L334.8 171.7M347.6 175.8L345.3 176.9M358.1 181L355.8 182.1M368.7 186.2L366.3 187.4M379.2 191.5L376.8 192.6M389.7 196.7L387.4 197.8M389.7 196.7L392 197.9M408.5 187.5L410.8 188.6M427.3 178.2L429.6 179.4M446.1 169L448.4 170.1M464.9 159.7L467.2 160.9M483.7 150.5L486 151.7M295 149.6h-2.5M295 119.6h-2.5M295 89.6h-2.5" stroke="#111" stroke-width="0.9" fill="none"/>
<text x="290.5" y="151.6" font-size="7.4" text-anchor="end">0</text>
<text x="290.5" y="121.6" font-size="7.4" text-anchor="end">50</text>
<text x="290.5" y="91.6" font-size="7.4" text-anchor="end">100</text>
<text x="279.4" y="158.8" font-size="6.7" text-anchor="end">0</text>
<text x="289.7" y="164.7" font-size="6.7" text-anchor="end">3.90</text>
<text x="299.9" y="170.1" font-size="6.7" text-anchor="end">5.85</text>
<text x="311.2" y="175.4" font-size="6.7" text-anchor="end">8.78</text>
<text x="325.2" y="180.9" font-size="6.7" text-anchor="end">13.17</text>
<text x="335.4" y="185.7" font-size="6.7" text-anchor="end">19.75</text>
<text x="345.7" y="191.1" font-size="6.7" text-anchor="end">29.63</text>
<text x="356.1" y="196.4" font-size="6.7" text-anchor="end">44.44</text>
<text x="366.4" y="201.9" font-size="6.7" text-anchor="end">66.67</text>
<text x="377.1" y="207" font-size="6.7" text-anchor="end">100</text>
<text x="394.1" y="207.2" font-size="6.7" text-anchor="start">16</text>
<text x="415" y="197.9" font-size="6.7" text-anchor="start">4.8</text>
<text x="432.9" y="188.4" font-size="6.7" text-anchor="start">1.44</text>
<text x="450.4" y="178.6" font-size="6.7" text-anchor="start">0.432</text>
<text x="468.9" y="169.4" font-size="6.7" text-anchor="start">0.1296</text>
<text x="487.9" y="159.4" font-size="6.7" text-anchor="start">0</text>
<text x="395.4" y="21.8" font-size="8.2" text-anchor="middle" textLength="115.5" lengthAdjust="spacingAndGlyphs">Synergy mapped to D-R (BLISS)</text>
<text x="401.2" y="31.3" font-size="8.2" text-anchor="middle" textLength="154.5" lengthAdjust="spacingAndGlyphs">olaparib vs. FK866 in YUNK1 Parental + NA</text>
<text x="316.1" y="209" font-size="7.9" text-anchor="middle" textLength="54.7" lengthAdjust="spacingAndGlyphs">FK866 (nmol/L)</text>
<text x="452.2" y="209.1" font-size="7.9" text-anchor="middle" textLength="59.5" lengthAdjust="spacingAndGlyphs">olaparib (µmol/L)</text>
<text x="275.6" y="107.5" font-size="7.9" text-anchor="middle" transform="rotate(-90 275.6 107.5)" textLength="34.5" lengthAdjust="spacingAndGlyphs">% Control</text>
</g>
<g>
<path d="M29.6 380.3L137.8 325.9M41.4 386.4L149.6 332M53.2 392.5L161.4 338.1M65 398.5L173.2 344.1M76.8 404.6L185 350.2M88.6 410.7L196.8 356.3M100.4 416.8L208.6 362.4M112.2 422.8L220.4 368.4M124 428.9L232.2 374.5M135.8 435L244 380.6M29.6 380.3L135.8 435M51.2 369.4L157.4 424.1M72.9 358.5L179.1 413.2M94.5 347.7L200.7 402.4M116.2 336.8L222.4 391.5M137.8 325.9L244 380.6M29.6 380.3L29.6 304.2M51.2 369.4L51.2 293.3M72.9 358.5L72.9 282.4M94.5 347.7L94.5 271.6M116.2 336.8L116.2 260.7M137.8 325.9L137.8 249.8M137.8 325.9L137.8 249.8M149.6 332L149.6 255.9M161.4 338.1L161.4 262M173.2 344.1L173.2 268M185 350.2L185 274.1M196.8 356.3L196.8 280.2M208.6 362.4L208.6 286.3M220.4 368.4L220.4 292.3M232.2 374.5L232.2 298.4M244 380.6L244 304.5M29.6 380.3L137.8 325.9M137.8 325.9L244 380.6M29.6 342.8L137.8 288.4M137.8 288.4L244 343.1M29.6 305.3L137.8 250.9M137.8 250.9L244 305.6" stroke="#bfbfbf" stroke-width="0.6" fill="none"/>
<path d="M116.2 262.7L122.1 266L132.9 260.7L127 257.4ZM127 257.4L132.9 260.7L143.7 255.4L137.8 252.1ZM94.5 273.4L100.4 277.2L111.2 271.6L105.3 268ZM105.3 268L111.2 271.6L122.1 266L116.2 262.7ZM100.4 277.2L106.3 281L117.1 275.2L111.2 271.6ZM106.3 281L112.2 284.8L123 278.6L117.1 275.2ZM123 278.6L128.9 282L139.8 275.4L133.9 272.4ZM72.9 288.8L78.8 293L89.6 285.1L83.7 281.1ZM83.7 281.1L89.6 285.1L100.4 277.2L94.5 273.4ZM89.6 285.1L95.5 289.1L106.3 281L100.4 277.2ZM128.9 282L134.8 286.5L145.7 280.3L139.8 275.4ZM134.8 286.5L140.7 291.1L151.6 285.3L145.7 280.3ZM144.3 289.1L148.3 292.8L155.5 288.8L151.6 285.3ZM148.3 292.8L152.2 296.5L159.4 292.3L155.5 288.8ZM160.1 309.6L164 318.9L171.2 314.2L167.3 305ZM164 318.9L167.9 328.2L175.2 323.4L171.2 314.2ZM160.7 333.1L164.7 345.1L171.9 340.6L167.9 328.2ZM157.5 349.6L161.4 361.3L168.6 357.1L164.7 345.1ZM36.8 335L40.7 339.5L48 326.6L44 322ZM156.3 361.6L158.6 368.2L163 365.9L160.6 358.9ZM150 372.7L152.3 378.5L156.7 376.6L154.3 370.4ZM154.3 370.4L156.7 376.6L161 374.8L158.6 368.2ZM141.2 388.8L144.2 391.7L149.6 388.3L146.6 385.3ZM133.4 398.4L136.3 401L141.7 397.8L138.8 395Z" fill="#b4ff97" stroke="#b4ff97" stroke-width="0.5"/>
<path d="M122.1 266L128 269.4L138.8 264L132.9 260.7ZM132.9 260.7L138.8 264L149.6 258.7L143.7 255.4ZM128 269.4L133.9 272.4L144.7 266.7L138.8 264ZM138.8 264L144.7 266.7L155.5 261L149.6 258.7ZM133.9 272.4L139.8 275.4L150.6 269.3L144.7 266.7ZM111.2 271.6L117.1 275.2L128 269.4L122.1 266ZM117.1 275.2L123 278.6L133.9 272.4L128 269.4ZM157.5 290.6L163.4 295.8L174.2 289.1L168.3 283.1ZM163.4 295.8L169.3 309.6L180.1 304.1L174.2 289.1ZM169.3 309.6L175.2 323.4L186 319.2L180.1 304.1ZM167.9 328.2L171.9 340.6L179.1 336.1L175.2 323.4ZM164.7 345.1L168.6 357.1L175.8 353L171.9 340.6ZM161.4 361.3L165.3 372.9L172.5 369.1L168.6 357.1ZM29.6 348.1L33.5 352.5L40.7 339.5L36.8 335ZM158.6 368.2L161 374.8L165.3 372.9L163 365.9ZM143.7 382.3L149.6 388.3L160.4 383.3L154.5 377.6ZM138.8 395L141.7 397.8L147.1 394.6L144.2 391.7ZM144.2 391.7L147.1 394.6L152.5 391.3L149.6 388.3ZM130.9 404.3L133.8 406.7L139.2 403.6L136.3 401ZM108.3 414.3L112.2 417.6L119.4 414L115.5 410.7ZM115.5 410.7L119.4 414L126.6 410.3L122.7 407.1ZM122.7 407.1L126.6 410.3L133.8 406.7L129.9 403.4Z" fill="#b9ff8d" stroke="#b9ff8d" stroke-width="0.5"/>
<path d="M144.7 266.7L150.6 269.3L161.4 263.2L155.5 261ZM139.8 275.4L145.7 280.3L156.5 273.3L150.6 269.3ZM145.7 280.3L151.6 285.3L162.4 277.2L156.5 273.3ZM151.6 285.3L157.5 290.6L168.3 283.1L162.4 277.2ZM175.2 323.4L181.1 342.5L191.9 338.5L186 319.2ZM171.9 340.6L175.8 353L183 348.8L179.1 336.1ZM168.6 357.1L172.5 369.1L179.7 365.3L175.8 353ZM175.8 353L179.7 365.3L187 361.5L183 348.8ZM154.5 377.6L160.4 383.3L171.2 378.3L165.3 372.9ZM149.6 388.3L155.5 394.3L166.3 389L160.4 383.3ZM136.3 401L139.2 403.6L144.7 400.5L141.7 397.8ZM141.7 397.8L144.7 400.5L150.1 397.4L147.1 394.6ZM147.1 394.6L150.1 397.4L155.5 394.3L152.5 391.3Z" fill="#beff83" stroke="#beff83" stroke-width="0.5"/>
<path d="M150.6 269.3L156.5 273.3L167.3 266.2L161.4 263.2ZM156.5 273.3L162.4 277.2L173.2 269.1L167.3 266.2ZM162.4 277.2L168.3 283.1L179.1 275.7L173.2 269.1ZM168.3 283.1L174.2 289.1L185 282.3L179.1 275.7ZM174.2 289.1L180.1 304.1L190.9 298.6L185 282.3ZM180.1 304.1L186 319.2L196.8 315L190.9 298.6ZM186 319.2L191.9 338.5L202.7 334.6L196.8 315ZM181.1 342.5L187 361.5L197.8 357.8L191.9 338.5ZM191.9 338.5L197.8 357.8L208.6 354.1L202.7 334.6ZM165.3 372.9L171.2 378.3L182 372.9L176.1 367.2ZM176.1 367.2L182 372.9L192.9 367.6L187 361.5ZM160.4 383.3L166.3 389L177.1 383.7L171.2 378.3ZM133.8 406.7L139.7 410.1L150.6 404.1L144.7 400.5ZM112.2 417.6L118.1 421.2L128.9 415.7L123 412.2ZM123 412.2L128.9 415.7L139.7 410.1L133.8 406.7Z" fill="#c3ff79" stroke="#c3ff79" stroke-width="0.5"/>
<path d="M112.2 284.8L118.1 288.6L128.9 282L123 278.6ZM78.8 293L84.7 297.1L95.5 289.1L89.6 285.1ZM99.1 286.4L103 288.7L110.3 283.5L106.3 281ZM152.2 296.5L156.1 300.2L163.4 295.8L159.4 292.3ZM51.2 309L57.1 316L68 304.5L62.1 298.9ZM62.1 298.9L68 304.5L78.8 293L72.9 288.8ZM156.1 300.2L160.1 309.6L167.3 305L163.4 295.8ZM156.8 323.6L160.7 333.1L167.9 328.2L164 318.9ZM44 322L48 326.6L55.2 313.7L51.2 309ZM33.5 352.5L37.5 356.9L44.7 344L40.7 339.5ZM153.9 355L156.3 361.6L160.6 358.9L158.2 352ZM151.9 364.2L154.3 370.4L158.6 368.2L156.3 361.6ZM145.6 375L148 380.4L152.3 378.5L150 372.7ZM138.3 385.9L141.2 388.8L146.6 385.3L143.7 382.3ZM135.8 392.3L138.8 395L144.2 391.7L141.2 388.8ZM127.9 401.8L130.9 404.3L136.3 401L133.4 398.4Z" fill="#b0ffa2" stroke="#b0ffa2" stroke-width="0.5"/>
<path d="M118.1 288.6L124 292.7L134.8 286.5L128.9 282ZM124 292.7L129.9 296.9L140.7 291.1L134.8 286.5ZM84.7 297.1L88.6 299.1L95.8 293.9L91.9 291.7ZM91.9 291.7L95.8 293.9L103 288.7L99.1 286.4ZM95.8 293.9L99.8 296.1L107 291.1L103 288.7ZM103 288.7L107 291.1L114.2 286L110.3 283.5ZM107 291.1L110.9 293.4L118.1 288.6L114.2 286ZM137.1 293L141.1 296.9L148.3 292.8L144.3 289.1ZM141.1 296.9L145 300.7L152.2 296.5L148.3 292.8ZM68 304.5L73.9 310.1L84.7 297.1L78.8 293ZM152.9 314.1L156.8 323.6L164 318.9L160.1 309.6ZM153.5 338L157.5 349.6L164.7 345.1L160.7 333.1ZM40.7 339.5L44.7 344L51.9 331.2L48 326.6ZM48 326.6L51.9 331.2L59.1 318.3L55.2 313.7ZM37.5 356.9L41.4 361.3L48.6 348.5L44.7 344ZM151.6 348.4L153.9 355L158.2 352L155.9 345ZM149.6 358L151.9 364.2L156.3 361.6L153.9 355ZM147.6 366.9L150 372.7L154.3 370.4L151.9 364.2ZM141.3 377.2L143.7 382.3L148 380.4L145.6 375ZM139.5 381.1L141 384.1L143.7 382.3L142.2 379.1ZM132.9 389.6L135.8 392.3L141.2 388.8L138.3 385.9ZM130.4 395.8L133.4 398.4L138.8 395L135.8 392.3ZM104.3 411L108.3 414.3L115.5 410.7L111.5 407.4ZM111.5 407.4L115.5 410.7L122.7 407.1L118.8 403.8ZM118.8 403.8L122.7 407.1L129.9 403.4L126 400.2Z" fill="#abffad" stroke="#abffad" stroke-width="0.5"/>
<path d="M88.6 299.1L92.5 301.2L99.8 296.1L95.8 293.9ZM99.8 296.1L103.7 298.3L110.9 293.4L107 291.1ZM133.9 300.9L137.8 304.9L145 300.7L141.1 296.9ZM107.3 295.9L110.2 298.3L115.7 294.5L112.7 292.2ZM118.6 296.8L121.6 299L127 294.8L124 292.7ZM145.7 318.6L149.6 328.3L156.8 323.6L152.9 314.1ZM73.9 310.1L76.8 311.6L82.2 305.1L79.3 303.6ZM82.2 305.1L85.2 306.6L90.6 300.2L87.6 298.6ZM51.9 331.2L55.8 335.7L63 323L59.1 318.3ZM147.1 332.4L148.7 336.6L151.8 333.9L150.1 329.7ZM148.7 336.6L150.4 340.7L153.5 338L151.8 333.9ZM41.4 361.3L45.3 364.2L52.5 351.1L48.6 348.5ZM147.2 351.8L149.6 358L153.9 355L151.6 348.4ZM139 372.2L141.3 377.2L145.6 375L143.3 369.5ZM135.3 380.2L136.8 383.1L139.5 381.1L138 378.1ZM138 378.1L139.5 381.1L142.2 379.1L140.7 376ZM131.4 387.1L132.9 389.6L135.6 387.7L134.1 385.1ZM122 396.9L125 399.3L130.4 395.8L127.5 393.2ZM100.4 407.8L104.3 411L111.5 407.4L107.6 404.1ZM107.6 404.1L111.5 407.4L118.8 403.8L114.8 400.5Z" fill="#a4ffc1" stroke="#a4ffc1" stroke-width="0.5"/>
<path d="M92.5 301.2L96.5 303.2L103.7 298.3L99.8 296.1ZM137.8 304.9L141.7 309L148.9 304.6L145 300.7ZM101.9 299.5L104.8 302.2L110.2 298.3L107.3 295.9ZM110.2 298.3L113.2 300.8L118.6 296.8L115.7 294.5ZM121.6 299L124.5 301.3L129.9 296.9L127 294.8ZM141.7 309L145.7 318.6L152.9 314.1L148.9 304.6ZM63 323L66 324.5L71.4 318L68.5 316.5ZM68.5 316.5L71.4 318L76.8 311.6L73.9 310.1ZM76.8 311.6L79.8 313.1L85.2 306.6L82.2 305.1ZM85.2 306.6L88.1 308.1L93.5 301.7L90.6 300.2ZM126.8 299.4L128.5 301.2L131.6 298.6L129.9 296.9ZM128.5 301.2L130.2 302.9L133.3 300.3L131.6 298.6ZM143.7 324.1L145.4 328.3L148.5 325.6L146.8 321.4ZM145.4 328.3L147.1 332.4L150.1 329.7L148.5 325.6ZM145.7 339.3L147.3 343.4L150.4 340.7L148.7 336.6ZM48.6 348.5L52.5 351.1L59.8 338.1L55.8 335.7ZM144.9 345.6L147.2 351.8L151.6 348.4L149.2 341.8ZM142.9 355.2L145.3 361.1L149.6 358L147.2 351.8ZM140.9 364.1L143.3 369.5L147.6 366.9L145.3 361.1ZM136.6 375.1L138 378.1L140.7 376L139.3 372.8ZM132.6 382.4L134.1 385.1L136.8 383.1L135.3 380.2ZM128.7 389L130.2 391.4L132.9 389.6L131.4 387.1ZM114.8 400.5L118.8 403.8L126 400.2L122 396.9Z" fill="#a1ffca" stroke="#a1ffca" stroke-width="0.5"/>
<path d="M129.9 296.9L133.9 300.9L141.1 296.9L137.1 293ZM145 300.7L148.9 304.6L156.1 300.2L152.2 296.5ZM57.1 316L63 323L73.9 310.1L68 304.5ZM112.7 292.2L115.7 294.5L121.1 290.6L118.1 288.6ZM115.7 294.5L118.6 296.8L124 292.7L121.1 290.6ZM148.9 304.6L152.9 314.1L160.1 309.6L156.1 300.2ZM149.6 328.3L153.5 338L160.7 333.1L156.8 323.6ZM79.3 303.6L82.2 305.1L87.6 298.6L84.7 297.1ZM44.7 344L48.6 348.5L55.8 335.7L51.9 331.2ZM149.2 341.8L151.6 348.4L155.9 345L153.5 338ZM145.3 361.1L147.6 366.9L151.9 364.2L149.6 358ZM143.3 369.5L145.6 375L150 372.7L147.6 366.9ZM134.1 385.1L135.6 387.7L138.3 385.9L136.8 383.1ZM136.8 383.1L138.3 385.9L141 384.1L139.5 381.1ZM127.5 393.2L130.4 395.8L135.8 392.3L132.9 389.6ZM125 399.3L127.9 401.8L133.4 398.4L130.4 395.8Z" fill="#a8ffb7" stroke="#a8ffb7" stroke-width="0.5"/>
<path d="M96.5 303.2L99.4 306L104.8 302.2L101.9 299.5ZM104.8 302.2L107.8 304.8L113.2 300.8L110.2 298.3ZM113.2 300.8L116.2 303.3L121.6 299L118.6 296.8ZM71.4 318L74.3 319.6L79.8 313.1L76.8 311.6ZM79.8 313.1L82.7 314.6L88.1 308.1L85.2 306.6ZM88.1 308.1L91.1 309.7L96.5 303.2L93.5 301.7ZM123.7 301.9L125.4 303.7L128.5 301.2L126.8 299.4ZM130.2 302.9L131.9 304.7L135 302.1L133.3 300.3ZM131.9 304.7L133.6 306.4L136.7 303.8L135 302.1ZM133.6 306.4L135.3 308.2L138.3 305.5L136.7 303.8ZM140.3 315.8L142 320L145.1 317.3L143.4 313.1ZM142 320L143.7 324.1L146.8 321.4L145.1 317.3ZM144 335.2L145.7 339.3L148.7 336.6L147.1 332.4ZM55.8 335.7L59.8 338.1L67 325L63 323ZM45.3 364.2L49.3 367.1L56.5 353.7L52.5 351.1ZM136.6 367.1L139 372.2L143.3 369.5L140.9 364.1ZM135.1 372.1L136.6 375.1L139.3 372.8L137.8 369.7ZM133.8 377.4L135.3 380.2L138 378.1L136.6 375.1ZM129.9 384.5L131.4 387.1L134.1 385.1L132.6 382.4ZM123.3 393L124.7 395.1L127.5 393.2L126 391ZM126 391L127.5 393.2L130.2 391.4L128.7 389ZM98.9 406.6L100.4 407.8L103.1 406.4L101.6 405.1ZM101.6 405.1L103.1 406.4L105.8 405L104.3 403.7ZM104.3 403.7L105.8 405L108.5 403.7L107 402.2Z" fill="#9effd3" stroke="#9effd3" stroke-width="0.5"/>
<path d="M99.4 306L102.4 308.9L107.8 304.8L104.8 302.2ZM107.8 304.8L110.7 307.5L116.2 303.3L113.2 300.8ZM68.9 326L71.9 327.6L77.3 321.1L74.3 319.6ZM77.3 321.1L80.2 322.6L85.7 316.1L82.7 314.6ZM120.6 304.4L122.3 306.3L125.4 303.7L123.7 301.9ZM122.3 306.3L124 308.1L127.1 305.5L125.4 303.7ZM128.8 307.3L130.5 309.1L133.6 306.4L131.9 304.7ZM130.5 309.1L132.2 310.9L135.3 308.2L133.6 306.4ZM88.4 312.9L89.8 314.6L92.5 311.2L91.1 309.7ZM95.2 307.9L96.7 309.4L99.4 306L98 304.6ZM137.2 318.6L138.9 322.7L142 320L140.3 315.8ZM138.9 322.7L140.6 326.9L143.7 324.1L142 320ZM139.2 333.7L140.9 337.9L144 335.2L142.3 331ZM139.5 344.7L141.2 348.9L144.2 346.2L142.6 342ZM59.8 338.1L63.7 340.4L70.9 327L67 325ZM49.3 367.1L53.2 370L60.4 356.3L56.5 353.7ZM136.2 353.2L138.6 358.7L142.9 355.2L140.5 349.4ZM134.2 362.1L136.6 367.1L140.9 364.1L138.6 358.7ZM133.6 369.1L135.1 372.1L137.8 369.7L136.3 366.5ZM132.4 374.6L133.8 377.4L136.6 375.1L135.1 372.1ZM128.4 382L129.9 384.5L132.6 382.4L131.1 379.7ZM124.5 388.8L126 391L128.7 389L127.2 386.7ZM97.5 405.4L98.9 406.6L101.6 405.1L100.2 403.9ZM100.2 403.9L101.6 405.1L104.3 403.7L102.9 402.3Z" fill="#94ffe2" stroke="#94ffe2" stroke-width="0.5"/>
<path d="M102.4 308.9L105.3 311.7L110.7 307.5L107.8 304.8ZM110.7 307.5L113.7 310.1L119.1 305.7L116.2 303.3ZM117.6 307L119.2 308.8L122.3 306.3L120.6 304.4ZM124 308.1L125.7 309.9L128.8 307.3L127.1 305.5ZM125.7 309.9L127.4 311.7L130.5 309.1L128.8 307.3ZM132.2 310.9L133.9 312.7L136.9 309.9L135.3 308.2ZM133.9 312.7L135.5 314.4L138.6 311.7L136.9 309.9ZM85.7 316.1L87.1 317.9L89.8 314.6L88.4 312.9ZM89.8 314.6L91.3 316.2L94 312.8L92.5 311.2ZM92.5 311.2L94 312.8L96.7 309.4L95.2 307.9ZM96.7 309.4L98.2 310.9L100.9 307.4L99.4 306ZM135.5 314.4L137.2 318.6L140.3 315.8L138.6 311.7ZM137.5 329.6L139.2 333.7L142.3 331L140.6 326.9ZM137.8 340.6L139.5 344.7L142.6 342L140.9 337.9ZM136.4 347.5L138.1 351.6L141.2 348.9L139.5 344.7ZM56.5 353.7L60.4 356.3L67.6 342.7L63.7 340.4ZM53.2 370L54.7 371.4L57.4 366.4L55.9 364.8ZM55.9 364.8L57.4 366.4L60.1 361.3L58.6 359.7ZM132.1 366.1L133.6 369.1L136.3 366.5L134.8 363.4ZM130.9 371.7L132.4 374.6L135.1 372.1L133.6 369.1ZM129.7 377L131.1 379.7L133.8 377.4L132.4 374.6ZM125.7 384.3L127.2 386.7L129.9 384.5L128.4 382ZM121.8 391L123.3 393L126 391L124.5 388.8ZM102.9 402.3L104.3 403.7L107 402.2L105.6 400.8ZM105.6 400.8L107 402.2L109.7 400.8L108.3 399.3ZM108.3 399.3L109.7 400.8L112.5 399.3L111 397.7ZM111 397.7L112.5 399.3L115.2 397.9L113.7 396.2Z" fill="#8fffe8" stroke="#8fffe8" stroke-width="0.5"/>
<path d="M105.3 311.7L108.3 314.5L113.7 310.1L110.7 307.5ZM116.1 311.4L117.8 313.2L120.9 310.7L119.2 308.8ZM122.6 312.5L124.3 314.4L127.4 311.7L125.7 309.9ZM129.1 313.5L130.8 315.4L133.9 312.7L132.2 310.9ZM130.8 315.4L132.4 317.2L135.5 314.4L133.9 312.7ZM77.5 325.8L79 327.8L81.7 324.5L80.2 322.6ZM84.4 321.2L85.9 323L88.6 319.6L87.1 317.9ZM91.3 316.2L92.8 317.9L95.5 314.4L94 312.8ZM95.5 314.4L97 316L99.7 312.4L98.2 310.9ZM99.7 312.4L101.2 313.9L103.9 310.3L102.4 308.9ZM132.4 317.2L134.1 321.3L137.2 318.6L135.5 314.4ZM134.1 321.3L135.8 325.5L138.9 322.7L137.2 318.6ZM134.4 332.3L136.1 336.5L139.2 333.7L137.5 329.6ZM133 339.2L134.7 343.3L137.8 340.6L136.1 336.5ZM133.3 350.2L135 354.3L138.1 351.6L136.4 347.5ZM64 349.5L65.5 351.3L68.2 346.2L66.7 344.4ZM66.7 344.4L68.2 346.2L70.9 341.2L69.4 339.3ZM69.4 339.3L70.9 341.2L73.6 336.2L72.1 334.2ZM57.4 366.4L58.9 367.9L61.6 362.9L60.1 361.3ZM60.1 361.3L61.6 362.9L64.3 358L62.8 356.3ZM56.2 372.8L57.6 374.3L60.3 369.4L58.9 367.9ZM130.7 363.1L132.1 366.1L134.8 363.4L133.4 360.2ZM129.4 368.9L130.9 371.7L133.6 369.1L132.1 366.1ZM128.2 374.4L129.7 377L132.4 374.6L130.9 371.7ZM124.3 382L125.7 384.3L128.4 382L127 379.5ZM120.3 388.9L121.8 391L124.5 388.8L123 386.6ZM101.4 401L102.9 402.3L105.6 400.8L104.1 399.4ZM104.1 399.4L105.6 400.8L108.3 399.3L106.8 397.7ZM106.8 397.7L108.3 399.3L111 397.7L109.5 396.1Z" fill="#87fff5" stroke="#87fff5" stroke-width="0.5"/>
<path d="M116.2 303.3L119.1 305.7L124.5 301.3L121.6 299ZM66 324.5L68.9 326L74.3 319.6L71.4 318ZM74.3 319.6L77.3 321.1L82.7 314.6L79.8 313.1ZM82.7 314.6L85.7 316.1L91.1 309.7L88.1 308.1ZM125.4 303.7L127.1 305.5L130.2 302.9L128.5 301.2ZM127.1 305.5L128.8 307.3L131.9 304.7L130.2 302.9ZM135.3 308.2L136.9 309.9L140 307.2L138.3 305.5ZM136.9 309.9L138.6 311.7L141.7 309L140 307.2ZM91.1 309.7L92.5 311.2L95.2 307.9L93.8 306.4ZM93.8 306.4L95.2 307.9L98 304.6L96.5 303.2ZM138.6 311.7L140.3 315.8L143.4 313.1L141.7 309ZM140.6 326.9L142.3 331L145.4 328.3L143.7 324.1ZM142.3 331L144 335.2L147.1 332.4L145.4 328.3ZM140.9 337.9L142.6 342L145.7 339.3L144 335.2ZM142.6 342L144.2 346.2L147.3 343.4L145.7 339.3ZM52.5 351.1L56.5 353.7L63.7 340.4L59.8 338.1ZM140.5 349.4L142.9 355.2L147.2 351.8L144.9 345.6ZM138.6 358.7L140.9 364.1L145.3 361.1L142.9 355.2ZM131.1 379.7L132.6 382.4L135.3 380.2L133.8 377.4ZM127.2 386.7L128.7 389L131.4 387.1L129.9 384.5ZM120.6 395L122 396.9L124.7 395.1L123.3 393ZM107 402.2L108.5 403.7L111.2 402.3L109.7 400.8ZM109.7 400.8L111.2 402.3L113.9 401L112.5 399.3ZM112.5 399.3L113.9 401L116.6 399.6L115.2 397.9ZM115.2 397.9L116.6 399.6L119.3 398.2L117.9 396.4ZM117.9 396.4L119.3 398.2L122 396.9L120.6 395Z" fill="#99ffdb" stroke="#99ffdb" stroke-width="0.5"/>
<path d="M187 361.5L192.9 367.6L203.7 363.5L197.8 357.8ZM197.8 357.8L203.7 363.5L214.5 359.4L208.6 354.1ZM171.2 378.3L177.1 383.7L187.9 378.7L182 372.9ZM182 372.9L187.9 378.7L198.8 373.6L192.9 367.6ZM155.5 394.3L161.4 398.1L172.2 392.7L166.3 389ZM166.3 389L172.2 392.7L183 387.4L177.1 383.7ZM144.7 400.5L150.6 404.1L161.4 398.1L155.5 394.3ZM139.7 410.1L145.6 413.5L156.5 407.7L150.6 404.1ZM118.1 421.2L124 424.9L134.8 419.2L128.9 415.7ZM128.9 415.7L134.8 419.2L145.6 413.5L139.7 410.1Z" fill="#c8ff6f" stroke="#c8ff6f" stroke-width="0.5"/>
<path d="M192.9 367.6L198.8 373.6L209.6 369.2L203.7 363.5ZM203.7 363.5L209.6 369.2L220.4 364.7L214.5 359.4ZM198.8 373.6L204.7 377.3L215.5 372.7L209.6 369.2ZM209.6 369.2L215.5 372.7L226.3 368.1L220.4 364.7ZM215.5 372.7L221.4 376.2L232.2 371.5L226.3 368.1ZM221.4 376.2L227.3 379.2L238.1 374.3L232.2 371.5ZM227.3 379.2L233.2 382.2L244 377.2L238.1 374.3ZM177.1 383.7L183 387.4L193.8 382.3L187.9 378.7ZM187.9 378.7L193.8 382.3L204.7 377.3L198.8 373.6ZM161.4 398.1L167.3 401.9L178.1 396.5L172.2 392.7ZM172.2 392.7L178.1 396.5L188.9 391L183 387.4ZM150.6 404.1L156.5 407.7L167.3 401.9L161.4 398.1ZM145.6 413.5L151.5 416.6L162.4 411L156.5 407.7ZM124 424.9L129.9 428.1L140.7 422.3L134.8 419.2ZM134.8 419.2L140.7 422.3L151.5 416.6L145.6 413.5Z" fill="#ceff64" stroke="#ceff64" stroke-width="0.5"/>
<path d="M71.9 327.6L74.8 329.1L80.2 322.6L77.3 321.1ZM114.5 309.5L116.1 311.4L119.2 308.8L117.6 307ZM119.2 308.8L120.9 310.7L124 308.1L122.3 306.3ZM120.9 310.7L122.6 312.5L125.7 309.9L124 308.1ZM127.4 311.7L129.1 313.5L132.2 310.9L130.5 309.1ZM80.2 322.6L81.7 324.5L84.4 321.2L83 319.4ZM83 319.4L84.4 321.2L87.1 317.9L85.7 316.1ZM87.1 317.9L88.6 319.6L91.3 316.2L89.8 314.6ZM94 312.8L95.5 314.4L98.2 310.9L96.7 309.4ZM98.2 310.9L99.7 312.4L102.4 308.9L100.9 307.4ZM135.8 325.5L137.5 329.6L140.6 326.9L138.9 322.7ZM136.1 336.5L137.8 340.6L140.9 337.9L139.2 333.7ZM134.7 343.3L136.4 347.5L139.5 344.7L137.8 340.6ZM63.7 340.4L67.6 342.7L74.8 329.1L70.9 327ZM131.9 357.1L134.2 362.1L138.6 358.7L136.2 353.2ZM58.6 359.7L60.1 361.3L62.8 356.3L61.3 354.6ZM61.3 354.6L62.8 356.3L65.5 351.3L64 349.5ZM54.7 371.4L56.2 372.8L58.9 367.9L57.4 366.4ZM127 379.5L128.4 382L131.1 379.7L129.7 377ZM123 386.6L124.5 388.8L127.2 386.7L125.7 384.3ZM119.1 393.1L120.6 395L123.3 393L121.8 391ZM96 404.2L97.5 405.4L100.2 403.9L98.7 402.6ZM98.7 402.6L100.2 403.9L102.9 402.3L101.4 401ZM113.7 396.2L115.2 397.9L117.9 396.4L116.4 394.7ZM116.4 394.7L117.9 396.4L120.6 395L119.1 393.1Z" fill="#8bffef" stroke="#8bffef" stroke-width="0.5"/>
<path d="M108.3 314.5L110 316.5L113.1 313.9L111.4 312ZM113.1 313.9L114.7 315.8L117.8 313.2L116.1 311.4ZM119.5 315.1L121.2 317L124.3 314.4L122.6 312.5ZM126 316.2L127.7 318.1L130.8 315.4L129.1 313.5ZM79 327.8L80.5 329.8L83.2 326.4L81.7 324.5ZM85.9 323L87.4 324.8L90.1 321.4L88.6 319.6ZM90.1 321.4L91.6 323.1L94.3 319.5L92.8 317.9ZM94.3 319.5L95.7 321.2L98.4 317.6L97 316ZM98.4 317.6L99.9 319.1L102.6 315.4L101.2 313.9ZM102.6 315.4L104.1 316.9L106.8 313.1L105.3 311.7ZM104.1 316.9L105.6 318.4L108.3 314.5L106.8 313.1ZM131 324L132.7 328.2L135.8 325.5L134.1 321.3ZM131.3 335.1L133 339.2L136.1 336.5L134.4 332.3ZM129.9 341.9L131.6 346.1L134.7 343.3L133 339.2ZM128.5 348.8L130.2 352.9L133.3 350.2L131.6 346.1ZM68.2 346.2L69.7 348.1L72.4 343.1L70.9 341.2ZM70.9 341.2L72.4 343.1L75.1 338.2L73.6 336.2ZM61.6 362.9L63 364.5L65.7 359.7L64.3 358ZM64.3 358L65.7 359.7L68.4 354.8L67 353ZM57.6 374.3L59.1 375.7L61.8 370.9L60.3 369.4ZM127.9 366.1L129.4 368.9L132.1 366.1L130.7 363.1ZM122.8 379.6L124.3 382L127 379.5L125.5 377ZM121.6 384.4L123 386.6L125.7 384.3L124.3 382ZM99.9 399.6L101.4 401L104.1 399.4L102.6 397.9ZM102.6 397.9L104.1 399.4L106.8 397.7L105.3 396.2ZM114.9 392.9L116.4 394.7L119.1 393.1L117.6 391.2Z" fill="#7dfeff" stroke="#7dfeff" stroke-width="0.5"/>
<path d="M111.4 312L113.1 313.9L116.1 311.4L114.5 309.5ZM117.8 313.2L119.5 315.1L122.6 312.5L120.9 310.7ZM124.3 314.4L126 316.2L129.1 313.5L127.4 311.7ZM74.8 329.1L76.3 331.1L79 327.8L77.5 325.8ZM81.7 324.5L83.2 326.4L85.9 323L84.4 321.2ZM88.6 319.6L90.1 321.4L92.8 317.9L91.3 316.2ZM92.8 317.9L94.3 319.5L97 316L95.5 314.4ZM97 316L98.4 317.6L101.2 313.9L99.7 312.4ZM101.2 313.9L102.6 315.4L105.3 311.7L103.9 310.3ZM132.7 328.2L134.4 332.3L137.5 329.6L135.8 325.5ZM131.6 346.1L133.3 350.2L136.4 347.5L134.7 343.3ZM130.2 352.9L131.9 357.1L135 354.3L133.3 350.2ZM72.1 334.2L73.6 336.2L76.3 331.1L74.8 329.1ZM62.8 356.3L64.3 358L67 353L65.5 351.3ZM65.5 351.3L67 353L69.7 348.1L68.2 346.2ZM58.9 367.9L60.3 369.4L63 364.5L61.6 362.9ZM129.2 360.1L130.7 363.1L133.4 360.2L131.9 357.1ZM126.7 371.7L128.2 374.4L130.9 371.7L129.4 368.9ZM125.5 377L127 379.5L129.7 377L128.2 374.4ZM117.6 391.2L119.1 393.1L121.8 391L120.3 388.9ZM94.5 403L96 404.2L98.7 402.6L97.2 401.3ZM97.2 401.3L98.7 402.6L101.4 401L99.9 399.6ZM109.5 396.1L111 397.7L113.7 396.2L112.2 394.5ZM112.2 394.5L113.7 396.2L116.4 394.7L114.9 392.9Z" fill="#83fffb" stroke="#83fffb" stroke-width="0.5"/>
<path d="M110 316.5L111.7 318.4L114.7 315.8L113.1 313.9ZM114.7 315.8L116.4 317.7L119.5 315.1L117.8 313.2ZM121.2 317L122.9 318.9L126 316.2L124.3 314.4ZM127.7 318.1L129.4 319.9L132.4 317.2L130.8 315.4ZM76.3 331.1L77.8 333.2L80.5 329.8L79 327.8ZM83.2 326.4L84.7 328.3L87.4 324.8L85.9 323ZM87.4 324.8L88.9 326.7L91.6 323.1L90.1 321.4ZM99.9 319.1L101.4 320.7L104.1 316.9L102.6 315.4ZM129.4 319.9L131 324L134.1 321.3L132.4 317.2ZM129.6 330.9L131.3 335.1L134.4 332.3L132.7 328.2ZM128.2 337.8L129.9 341.9L133 339.2L131.3 335.1ZM73.6 336.2L75.1 338.2L77.8 333.2L76.3 331.1ZM67 353L68.4 354.8L71.2 349.9L69.7 348.1ZM60.3 369.4L61.8 370.9L64.5 366.1L63 364.5ZM63 364.5L64.5 366.1L67.2 361.3L65.7 359.7ZM59.1 375.7L60.6 377.2L63.3 372.5L61.8 370.9ZM127.7 356.7L129.2 360.1L131.9 357.1L130.4 353.4ZM126.5 363.2L127.9 366.1L130.7 363.1L129.2 360.1ZM125.2 369L126.7 371.7L129.4 368.9L127.9 366.1ZM124 374.5L125.5 377L128.2 374.4L126.7 371.7ZM118.8 386.9L120.3 388.9L123 386.6L121.6 384.4ZM93 401.9L94.5 403L97.2 401.3L95.7 400.1ZM95.7 400.1L97.2 401.3L99.9 399.6L98.4 398.3ZM105.3 396.2L106.8 397.7L109.5 396.1L108 394.5ZM108 394.5L109.5 396.1L112.2 394.5L110.7 392.8Z" fill="#78f8ff" stroke="#78f8ff" stroke-width="0.5"/>
<path d="M111.7 318.4L113.3 320.3L116.4 317.7L114.7 315.8ZM116.4 317.7L118.1 319.6L121.2 317L119.5 315.1ZM122.9 318.9L124.6 320.8L127.7 318.1L126 316.2ZM80.5 329.8L82 331.8L84.7 328.3L83.2 326.4ZM91.6 323.1L93 324.9L95.7 321.2L94.3 319.5ZM95.7 321.2L97.2 322.9L99.9 319.1L98.4 317.6ZM101.4 320.7L102.9 322.3L105.6 318.4L104.1 316.9ZM127.9 326.8L129.6 330.9L132.7 328.2L131 324ZM126.8 344.6L128.5 348.8L131.6 346.1L129.9 341.9ZM105.6 318.4L107.1 320.1L109.8 316.2L108.3 314.5ZM69.7 348.1L71.2 349.9L73.9 345L72.4 343.1ZM72.4 343.1L73.9 345L76.6 340.2L75.1 338.2ZM65.7 359.7L67.2 361.3L69.9 356.5L68.4 354.8ZM61.8 370.9L63.3 372.5L66 367.7L64.5 366.1ZM60.6 377.2L62.1 378.6L64.8 374L63.3 372.5ZM126.2 353.2L127.7 356.7L130.4 353.4L128.9 349.8ZM120.1 382.2L121.6 384.4L124.3 382L122.8 379.6ZM116.1 389.3L117.6 391.2L120.3 388.9L118.8 386.9ZM98.4 398.3L99.9 399.6L102.6 397.9L101.1 396.5ZM110.7 392.8L112.2 394.5L114.9 392.9L113.4 391.1ZM113.4 391.1L114.9 392.9L117.6 391.2L116.1 389.3Z" fill="#73f2ff" stroke="#73f2ff" stroke-width="0.5"/>
<path d="M113.3 320.3L115 322.3L118.1 319.6L116.4 317.7ZM119.8 321.6L121.5 323.5L124.6 320.8L122.9 318.9ZM82 331.8L83.4 333.8L86.2 330.2L84.7 328.3ZM86.2 330.2L87.6 332.1L90.3 328.5L88.9 326.7ZM90.3 328.5L91.8 330.3L94.5 326.6L93 324.9ZM94.5 326.6L96 328.3L98.7 324.5L97.2 322.9ZM98.7 324.5L100.2 326.2L102.9 322.3L101.4 320.7ZM124.9 329.5L126.5 333.6L129.6 330.9L127.9 326.8ZM123.5 336.4L125.1 340.5L128.2 337.8L126.5 333.6ZM108.5 321.9L110 323.6L112.7 319.6L111.2 317.9ZM71.2 349.9L72.6 351.8L75.3 347L73.9 345ZM73.9 345L75.3 347L78 342.2L76.6 340.2ZM67.2 361.3L68.7 363L71.4 358.3L69.9 356.5ZM66 367.7L67.5 369.3L70.2 364.7L68.7 363ZM62.1 378.6L63.5 380.1L66.2 375.5L64.8 374ZM123.3 346.2L124.8 349.7L127.5 346.2L126 342.6ZM123.5 356.5L125 359.9L127.7 356.7L126.2 353.2ZM118.6 380L120.1 382.2L122.8 379.6L121.3 377.2ZM97 396.9L98.4 398.3L101.1 396.5L99.7 395ZM106.6 392.9L108 394.5L110.7 392.8L109.3 391.1ZM109.3 391.1L110.7 392.8L113.4 391.1L112 389.3Z" fill="#69e4ff" stroke="#69e4ff" stroke-width="0.5"/>
<path d="M115 322.3L116.7 324.2L119.8 321.6L118.1 319.6ZM121.5 323.5L123.2 325.4L126.3 322.6L124.6 320.8ZM79.3 335.3L80.7 337.4L83.4 333.8L82 331.8ZM123.2 325.4L124.9 329.5L127.9 326.8L126.3 322.6ZM100.2 326.2L101.6 328L104.3 324.1L102.9 322.3ZM104.3 324.1L105.8 325.8L108.5 321.9L107.1 320.1ZM110 323.6L111.5 325.3L114.2 321.3L112.7 319.6ZM76.6 340.2L78 342.2L80.7 337.4L79.3 335.3ZM69.9 356.5L71.4 358.3L74.1 353.6L72.6 351.8ZM72.6 351.8L74.1 353.6L76.8 348.9L75.3 347ZM68.7 363L70.2 364.7L72.9 360.1L71.4 358.3ZM64.8 374L66.2 375.5L68.9 370.9L67.5 369.3ZM63.5 380.1L65 381.5L67.7 377L66.2 375.5ZM122 353.2L123.5 356.5L126.2 353.2L124.8 349.7ZM122.3 363.1L123.8 366.3L126.5 363.2L125 359.9ZM121.1 369.4L122.5 371.9L125.2 369L123.8 366.3ZM119.8 374.9L121.3 377.2L124 374.5L122.5 371.9ZM114.7 387.5L116.1 389.3L118.8 386.9L117.4 384.8ZM90.1 399.5L91.6 400.7L94.3 398.8L92.8 397.5ZM92.8 397.5L94.3 398.8L97 396.9L95.5 395.5ZM99.7 395L101.1 396.5L103.8 394.7L102.4 393.1ZM112 389.3L113.4 391.1L116.1 389.3L114.7 387.5Z" fill="#65ddff" stroke="#65ddff" stroke-width="0.5"/>
<path d="M118.1 319.6L119.8 321.6L122.9 318.9L121.2 317ZM124.6 320.8L126.3 322.6L129.4 319.9L127.7 318.1ZM77.8 333.2L79.3 335.3L82 331.8L80.5 329.8ZM84.7 328.3L86.2 330.2L88.9 326.7L87.4 324.8ZM88.9 326.7L90.3 328.5L93 324.9L91.6 323.1ZM93 324.9L94.5 326.6L97.2 322.9L95.7 321.2ZM97.2 322.9L98.7 324.5L101.4 320.7L99.9 319.1ZM126.3 322.6L127.9 326.8L131 324L129.4 319.9ZM126.5 333.6L128.2 337.8L131.3 335.1L129.6 330.9ZM125.1 340.5L126.8 344.6L129.9 341.9L128.2 337.8ZM102.9 322.3L104.3 324.1L107.1 320.1L105.6 318.4ZM107.1 320.1L108.5 321.9L111.2 317.9L109.8 316.2ZM75.1 338.2L76.6 340.2L79.3 335.3L77.8 333.2ZM68.4 354.8L69.9 356.5L72.6 351.8L71.2 349.9ZM64.5 366.1L66 367.7L68.7 363L67.2 361.3ZM63.3 372.5L64.8 374L67.5 369.3L66 367.7ZM124.8 349.7L126.2 353.2L128.9 349.8L127.5 346.2ZM125 359.9L126.5 363.2L129.2 360.1L127.7 356.7ZM123.8 366.3L125.2 369L127.9 366.1L126.5 363.2ZM122.5 371.9L124 374.5L126.7 371.7L125.2 369ZM121.3 377.2L122.8 379.6L125.5 377L124 374.5ZM117.4 384.8L118.8 386.9L121.6 384.4L120.1 382.2ZM91.6 400.7L93 401.9L95.7 400.1L94.3 398.8ZM94.3 398.8L95.7 400.1L98.4 398.3L97 396.9ZM101.1 396.5L102.6 397.9L105.3 396.2L103.8 394.7ZM103.8 394.7L105.3 396.2L108 394.5L106.6 392.9Z" fill="#6eebff" stroke="#6eebff" stroke-width="0.5"/>
<path d="M116.7 324.2L118.4 326.2L121.5 323.5L119.8 321.6ZM83.4 333.8L84.9 335.8L87.6 332.1L86.2 330.2ZM87.6 332.1L89.1 334.1L91.8 330.3L90.3 328.5ZM91.8 330.3L93.3 332.2L96 328.3L94.5 326.6ZM96 328.3L97.5 330.1L100.2 326.2L98.7 324.5ZM121.8 332.2L123.5 336.4L126.5 333.6L124.9 329.5ZM101.6 328L103.1 329.8L105.8 325.8L104.3 324.1ZM105.8 325.8L107.3 327.6L110 323.6L108.5 321.9ZM111.5 325.3L112.9 327.1L115.7 323L114.2 321.3ZM75.3 347L76.8 348.9L79.5 344.2L78 342.2ZM71.4 358.3L72.9 360.1L75.6 355.4L74.1 353.6ZM67.5 369.3L68.9 370.9L71.6 366.4L70.2 364.7ZM66.2 375.5L67.7 377L70.4 372.5L68.9 370.9ZM121.8 342.7L123.3 346.2L126 342.6L124.5 339ZM120.6 349.8L122 353.2L124.8 349.7L123.3 346.2ZM120.8 359.9L122.3 363.1L125 359.9L123.5 356.5ZM65 381.5L66.5 382.6L69.2 378.3L67.7 377ZM115.9 382.8L117.4 384.8L120.1 382.2L118.6 380ZM95.5 395.5L97 396.9L99.7 395L98.2 393.6ZM102.4 393.1L103.8 394.7L106.6 392.9L105.1 391.2ZM105.1 391.2L106.6 392.9L109.3 391.1L107.8 389.4Z" fill="#60d6ff" stroke="#60d6ff" stroke-width="0.5"/>
<path d="M118.4 326.2L120.1 328.1L123.2 325.4L121.5 323.5ZM80.7 337.4L82.2 339.4L84.9 335.8L83.4 333.8ZM84.9 335.8L86.4 337.8L89.1 334.1L87.6 332.1ZM120.1 328.1L121.8 332.2L124.9 329.5L123.2 325.4ZM97.5 330.1L98.9 331.9L101.6 328L100.2 326.2ZM107.3 327.6L108.8 329.4L111.5 325.3L110 323.6ZM112.9 327.1L114.4 328.8L117.1 324.7L115.7 323ZM78 342.2L79.5 344.2L82.2 339.4L80.7 337.4ZM74.1 353.6L75.6 355.4L78.3 350.8L76.8 348.9ZM70.2 364.7L71.6 366.4L74.3 361.8L72.9 360.1ZM68.9 370.9L70.4 372.5L73.1 368.1L71.6 366.4ZM120.3 339.2L121.8 342.7L124.5 339L123 335.3ZM119.3 356.7L120.8 359.9L123.5 356.5L122 353.2ZM119.6 366.4L121.1 369.4L123.8 366.3L122.3 363.1ZM67.7 377L69.2 378.3L71.9 373.9L70.4 372.5ZM66.5 382.6L68 383.8L70.7 379.5L69.2 378.3ZM118.4 372.5L119.8 374.9L122.5 371.9L121.1 369.4ZM117.1 377.8L118.6 380L121.3 377.2L119.8 374.9ZM113.2 385.6L114.7 387.5L117.4 384.8L115.9 382.8ZM88.6 398.3L90.1 399.5L92.8 397.5L91.3 396.3ZM91.3 396.3L92.8 397.5L95.5 395.5L94 394.2ZM98.2 393.6L99.7 395L102.4 393.1L100.9 391.6ZM107.8 389.4L109.3 391.1L112 389.3L110.5 387.5Z" fill="#5bceff" stroke="#5bceff" stroke-width="0.5"/>
<path d="M204.7 377.3L210.6 380.9L221.4 376.2L215.5 372.7ZM210.6 380.9L216.5 384.1L227.3 379.2L221.4 376.2ZM216.5 384.1L222.4 387.2L233.2 382.2L227.3 379.2ZM183 387.4L188.9 391L199.7 386L193.8 382.3ZM193.8 382.3L199.7 386L210.6 380.9L204.7 377.3ZM188.9 391L194.8 394.4L205.6 389.2L199.7 386ZM199.7 386L205.6 389.2L216.5 384.1L210.6 380.9ZM194.8 394.4L200.7 397.9L211.5 392.5L205.6 389.2ZM205.6 389.2L211.5 392.5L222.4 387.2L216.5 384.1ZM167.3 401.9L173.2 405.3L184 399.9L178.1 396.5ZM178.1 396.5L184 399.9L194.8 394.4L188.9 391ZM173.2 405.3L179.1 408.7L189.9 403.3L184 399.9ZM184 399.9L189.9 403.3L200.7 397.9L194.8 394.4ZM156.5 407.7L162.4 411L173.2 405.3L167.3 401.9ZM151.5 416.6L157.4 419.6L168.3 414.2L162.4 411ZM162.4 411L168.3 414.2L179.1 408.7L173.2 405.3ZM129.9 428.1L135.8 431.2L146.6 425.4L140.7 422.3ZM140.7 422.3L146.6 425.4L157.4 419.6L151.5 416.6Z" fill="#d4ff5b" stroke="#d4ff5b" stroke-width="0.5"/>
<path d="M82.2 339.4L83.7 341.5L86.4 337.8L84.9 335.8ZM86.4 337.8L87.9 339.8L90.6 336L89.1 334.1ZM90.6 336L92 337.9L94.8 334L93.3 332.2ZM94.8 334L96.2 335.9L98.9 331.9L97.5 330.1ZM104.6 331.6L106.1 333.4L108.8 329.4L107.3 327.6ZM110.2 331.1L111.7 332.9L114.4 328.8L112.9 327.1ZM115.9 330.5L117.4 332.3L120.1 328.1L118.6 326.4ZM79.5 344.2L81 346.1L83.7 341.5L82.2 339.4ZM75.6 355.4L77.1 357.3L79.8 352.7L78.3 350.8ZM71.6 366.4L73.1 368.1L75.8 363.6L74.3 361.8ZM117.4 332.3L118.8 335.8L121.6 331.7L120.1 328.1ZM117.6 343.1L119.1 346.5L121.8 342.7L120.3 339.2ZM116.6 360.2L118.1 363.3L120.8 359.9L119.3 356.7ZM116.9 369.6L118.4 372.5L121.1 369.4L119.6 366.4ZM70.4 372.5L71.9 373.9L74.6 369.5L73.1 368.1ZM69.2 378.3L70.7 379.5L73.4 375.2L71.9 373.9ZM68 383.8L69.4 384.9L72.1 380.7L70.7 379.5ZM115.7 375.6L117.1 377.8L119.8 374.9L118.4 372.5ZM85.2 396.1L86.9 397.2L90 394.6L88.3 393.2ZM90 394.6L91.7 396L94.8 393.6L93.1 392ZM96.7 392.1L98.2 393.6L100.9 391.6L99.4 390.1ZM103.6 389.6L105.1 391.2L107.8 389.4L106.3 387.6Z" fill="#51bdff" stroke="#51bdff" stroke-width="0.5"/>
<path d="M83.7 341.5L85.2 343.6L87.9 339.8L86.4 337.8ZM87.9 339.8L89.3 341.8L92 337.9L90.6 336ZM92 337.9L93.5 339.8L96.2 335.9L94.8 334ZM97.7 337.7L99.2 339.6L101.9 335.6L100.4 333.8ZM101.9 335.6L103.4 337.4L106.1 333.4L104.6 331.6ZM107.5 335.2L109 337L111.7 332.9L110.2 331.1ZM113.2 334.7L114.7 336.4L117.4 332.3L115.9 330.5ZM81 346.1L82.5 348.1L85.2 343.6L83.7 341.5ZM77.1 357.3L78.5 359.1L81.2 354.6L79.8 352.7ZM114.7 336.4L116.1 339.8L118.8 335.8L117.4 332.3ZM114.9 347L116.4 350.3L119.1 346.5L117.6 343.1ZM113.9 363.7L115.4 366.6L118.1 363.3L116.6 360.2ZM114.2 372.8L115.7 375.6L118.4 372.5L116.9 369.6ZM75.8 363.6L77.3 365.1L80 360.8L78.5 359.1ZM74.6 369.5L76.1 371L78.8 366.7L77.3 365.1ZM73.4 375.2L74.8 376.6L77.5 372.4L76.1 371ZM72.1 380.7L73.6 382L76.3 377.9L74.8 376.6ZM70.9 386L72.4 387.2L75.1 383.2L73.6 382ZM112.9 378.7L114.4 380.8L117.1 377.8L115.7 375.6ZM88.3 393.2L90 394.6L93.1 392L91.4 390.4ZM102.1 388L103.6 389.6L106.3 387.6L104.8 385.9Z" fill="#47aaff" stroke="#47aaff" stroke-width="0.5"/>
<path d="M89.1 334.1L90.6 336L93.3 332.2L91.8 330.3ZM93.3 332.2L94.8 334L97.5 330.1L96 328.3ZM98.9 331.9L100.4 333.8L103.1 329.8L101.6 328ZM103.1 329.8L104.6 331.6L107.3 327.6L105.8 325.8ZM108.8 329.4L110.2 331.1L112.9 327.1L111.5 325.3ZM114.4 328.8L115.9 330.5L118.6 326.4L117.1 324.7ZM76.8 348.9L78.3 350.8L81 346.1L79.5 344.2ZM72.9 360.1L74.3 361.8L77.1 357.3L75.6 355.4ZM118.8 335.8L120.3 339.2L123 335.3L121.6 331.7ZM119.1 346.5L120.6 349.8L123.3 346.2L121.8 342.7ZM117.9 353.5L119.3 356.7L122 353.2L120.6 349.8ZM118.1 363.3L119.6 366.4L122.3 363.1L120.8 359.9ZM114.4 380.8L115.9 382.8L118.6 380L117.1 377.8ZM86.9 397.2L88.6 398.3L91.7 396L90 394.6ZM94 394.2L95.5 395.5L98.2 393.6L96.7 392.1ZM100.9 391.6L102.4 393.1L105.1 391.2L103.6 389.6ZM110.5 387.5L112 389.3L114.7 387.5L113.2 385.6Z" fill="#56c6ff" stroke="#56c6ff" stroke-width="0.5"/>
<path d="M85.2 343.6L86.6 345.7L89.3 341.8L87.9 339.8ZM89.3 341.8L90.8 343.7L93.5 339.8L92 337.9ZM95 341.7L96.5 343.6L99.2 339.6L97.7 337.7ZM99.2 339.6L100.7 341.5L103.4 337.4L101.9 335.6ZM104.8 339.3L106.3 341.1L109 337L107.5 335.2ZM110.5 338.8L112 340.6L114.7 336.4L113.2 334.7ZM82.5 348.1L83.9 350.1L86.6 345.7L85.2 343.6ZM112 340.6L113.4 343.8L116.1 339.8L114.7 336.4ZM112.2 351L113.7 354L116.4 350.3L114.9 347ZM111.2 367.2L112.7 370L115.4 366.6L113.9 363.7ZM111.5 376L112.9 378.7L115.7 375.6L114.2 372.8ZM78.5 359.1L80 360.8L82.7 356.4L81.2 354.6ZM76.1 371L77.5 372.4L80.2 368.3L78.8 366.7ZM74.8 376.6L76.3 377.9L79 373.9L77.5 372.4ZM73.6 382L75.1 383.2L77.8 379.3L76.3 377.9ZM72.4 387.2L73.9 388.3L76.6 384.5L75.1 383.2ZM110.2 381.8L111.7 383.7L114.4 380.8L112.9 378.7ZM80.2 392.8L81.9 393.9L84.9 390.5L83.3 389.2ZM84.9 390.5L86.6 391.9L89.7 388.7L88 387.1ZM89.7 388.7L91.4 390.4L94.5 387.5L92.8 385.6ZM94.5 387.5L96.2 389.4L99.3 386.7L97.6 384.6ZM99.3 386.7L101 388.9L104.1 386.5L102.4 384.1ZM107.5 383.9L109 385.7L111.7 383.7L110.2 381.8Z" fill="#3c96ff" stroke="#3c96ff" stroke-width="0.5"/>
<path d="M86.6 345.7L88.1 347.6L90.8 343.7L89.3 341.8ZM92.3 345.6L93.8 347.6L96.5 343.6L95 341.7ZM96.5 343.6L98 345.5L100.7 341.5L99.2 339.6ZM102.1 343.3L103.6 345.2L106.3 341.1L104.8 339.3ZM107.8 343L109.3 344.8L112 340.6L110.5 338.8ZM109.3 344.8L110.7 347.9L113.4 343.8L112 340.6ZM109.5 354.9L111 357.8L113.7 354L112.2 351ZM108.5 370.7L110 373.4L112.7 370L111.2 367.2ZM108.8 379.3L110.2 381.8L112.9 378.7L111.5 376ZM83.9 350.1L85.4 352L88.1 347.6L86.6 345.7ZM82.7 356.4L84.2 358.2L86.9 353.9L85.4 352ZM81.5 362.4L83 364.1L85.7 359.9L84.2 358.2ZM80.2 368.3L81.7 369.8L84.4 365.7L83 364.1ZM79 373.9L80.5 375.3L83.2 371.4L81.7 369.8ZM77.8 379.3L79.3 380.6L82 376.8L80.5 375.3ZM76.6 384.5L78 385.7L80.7 382L79.3 380.6ZM75.3 389.5L76.8 390.6L79.5 386.9L78 385.7ZM76.8 390.6L78.5 391.7L81.6 387.8L79.9 386.4ZM81.6 387.8L83.3 389.2L86.4 385.5L84.7 383.9ZM86.4 385.5L88 387.1L91.1 383.7L89.4 381.9ZM91.1 383.7L92.8 385.6L95.9 382.5L94.2 380.4ZM95.9 382.5L97.6 384.6L100.7 381.7L99 379.4ZM100.7 381.7L102.4 384.1L105.5 381.5L103.8 378.9ZM105.5 381.5L107.1 384.2L110.2 381.8L108.6 378.9Z" fill="#2e7eff" stroke="#2e7eff" stroke-width="0.5"/>
<path d="M88.1 347.6L89.6 349.6L92.3 345.6L90.8 343.7ZM93.8 347.6L95.2 349.5L98 345.5L96.5 343.6ZM98 345.5L99.4 347.4L102.1 343.3L100.7 341.5ZM103.6 345.2L105.1 347.1L107.8 343L106.3 341.1ZM108 351.9L109.5 354.9L112.2 351L110.7 347.9ZM108.3 361.6L109.8 364.4L112.5 360.7L111 357.8ZM107 368L108.5 370.7L111.2 367.2L109.8 364.4ZM107.3 376.7L108.8 379.3L111.5 376L110 373.4ZM85.4 352L86.9 353.9L89.6 349.6L88.1 347.6ZM84.2 358.2L85.7 359.9L88.4 355.8L86.9 353.9ZM83 364.1L84.4 365.7L87.1 361.7L85.7 359.9ZM81.7 369.8L83.2 371.4L85.9 367.4L84.4 365.7ZM80.5 375.3L82 376.8L84.7 372.9L83.2 371.4ZM79.3 380.6L80.7 382L83.4 378.2L82 376.8ZM78 385.7L79.5 386.9L82.2 383.3L80.7 382Z" fill="#2871ff" stroke="#2871ff" stroke-width="0.5"/>
<path d="M90.8 343.7L92.3 345.6L95 341.7L93.5 339.8ZM100.7 341.5L102.1 343.3L104.8 339.3L103.4 337.4ZM106.3 341.1L107.8 343L110.5 338.8L109 337ZM110.7 347.9L112.2 351L114.9 347L113.4 343.8ZM111 357.8L112.5 360.7L115.2 357.1L113.7 354ZM109.8 364.4L111.2 367.2L113.9 363.7L112.5 360.7ZM110 373.4L111.5 376L114.2 372.8L112.7 370ZM81.2 354.6L82.7 356.4L85.4 352L83.9 350.1ZM80 360.8L81.5 362.4L84.2 358.2L82.7 356.4ZM78.8 366.7L80.2 368.3L83 364.1L81.5 362.4ZM77.5 372.4L79 373.9L81.7 369.8L80.2 368.3ZM76.3 377.9L77.8 379.3L80.5 375.3L79 373.9ZM75.1 383.2L76.6 384.5L79.3 380.6L77.8 379.3ZM73.9 388.3L75.3 389.5L78 385.7L76.6 384.5ZM78.5 391.7L80.2 392.8L83.3 389.2L81.6 387.8ZM83.3 389.2L84.9 390.5L88 387.1L86.4 385.5ZM88 387.1L89.7 388.7L92.8 385.6L91.1 383.7ZM92.8 385.6L94.5 387.5L97.6 384.6L95.9 382.5ZM97.6 384.6L99.3 386.7L102.4 384.1L100.7 381.7ZM102.4 384.1L104.1 386.5L107.1 384.2L105.5 381.5Z" fill="#358aff" stroke="#358aff" stroke-width="0.5"/>
<path d="M93.5 339.8L95 341.7L97.7 337.7L96.2 335.9ZM103.4 337.4L104.8 339.3L107.5 335.2L106.1 333.4ZM109 337L110.5 338.8L113.2 334.7L111.7 332.9ZM79.8 352.7L81.2 354.6L83.9 350.1L82.5 348.1ZM113.4 343.8L114.9 347L117.6 343.1L116.1 339.8ZM113.7 354L115.2 357.1L117.9 353.5L116.4 350.3ZM112.5 360.7L113.9 363.7L116.6 360.2L115.2 357.1ZM112.7 370L114.2 372.8L116.9 369.6L115.4 366.6ZM77.3 365.1L78.8 366.7L81.5 362.4L80 360.8ZM81.9 393.9L83.5 395L86.6 391.9L84.9 390.5ZM86.6 391.9L88.3 393.2L91.4 390.4L89.7 388.7ZM91.4 390.4L93.1 392L96.2 389.4L94.5 387.5ZM96.2 389.4L97.9 391.2L101 388.9L99.3 386.7ZM104.8 385.9L106.3 387.6L109 385.7L107.5 383.9Z" fill="#42a1ff" stroke="#42a1ff" stroke-width="0.5"/>
<path d="M96.2 335.9L97.7 337.7L100.4 333.8L98.9 331.9ZM100.4 333.8L101.9 335.6L104.6 331.6L103.1 329.8ZM106.1 333.4L107.5 335.2L110.2 331.1L108.8 329.4ZM111.7 332.9L113.2 334.7L115.9 330.5L114.4 328.8ZM78.3 350.8L79.8 352.7L82.5 348.1L81 346.1ZM74.3 361.8L75.8 363.6L78.5 359.1L77.1 357.3ZM116.1 339.8L117.6 343.1L120.3 339.2L118.8 335.8ZM116.4 350.3L117.9 353.5L120.6 349.8L119.1 346.5ZM115.2 357.1L116.6 360.2L119.3 356.7L117.9 353.5ZM115.4 366.6L116.9 369.6L119.6 366.4L118.1 363.3ZM73.1 368.1L74.6 369.5L77.3 365.1L75.8 363.6ZM71.9 373.9L73.4 375.2L76.1 371L74.6 369.5ZM70.7 379.5L72.1 380.7L74.8 376.6L73.4 375.2ZM69.4 384.9L70.9 386L73.6 382L72.1 380.7ZM111.7 383.7L113.2 385.6L115.9 382.8L114.4 380.8ZM83.5 395L85.2 396.1L88.3 393.2L86.6 391.9ZM93.1 392L94.8 393.6L97.9 391.2L96.2 389.4ZM99.4 390.1L100.9 391.6L103.6 389.6L102.1 388ZM106.3 387.6L107.8 389.4L110.5 387.5L109 385.7ZM109 385.7L110.5 387.5L113.2 385.6L111.7 383.7Z" fill="#4cb4ff" stroke="#4cb4ff" stroke-width="0.5"/>
<path d="M89.6 349.6L91.1 351.6L93.8 347.6L92.3 345.6ZM99.4 347.4L100.9 349.3L103.6 345.2L102.1 343.3ZM105.1 347.1L106.6 349L109.3 344.8L107.8 343ZM106.6 349L108 351.9L110.7 347.9L109.3 344.8ZM106.8 358.8L108.3 361.6L111 357.8L109.5 354.9ZM105.8 374.2L107.3 376.7L110 373.4L108.5 370.7ZM86.9 353.9L88.4 355.8L91.1 351.6L89.6 349.6ZM85.7 359.9L87.1 361.7L89.8 357.6L88.4 355.8ZM84.4 365.7L85.9 367.4L88.6 363.5L87.1 361.7ZM83.2 371.4L84.7 372.9L87.4 369.1L85.9 367.4ZM82 376.8L83.4 378.2L86.1 374.5L84.7 372.9ZM80.7 382L82.2 383.3L84.9 379.7L83.4 378.2ZM79.9 386.4L81.6 387.8L84.7 383.9L83 382.3ZM84.7 383.9L86.4 385.5L89.4 381.9L87.8 380ZM89.4 381.9L91.1 383.7L94.2 380.4L92.5 378.2ZM94.2 380.4L95.9 382.5L99 379.4L97.3 377ZM99 379.4L100.7 381.7L103.8 378.9L102.1 376.2ZM103.8 378.9L105.5 381.5L108.6 378.9L106.9 376Z" fill="#2164ff" stroke="#2164ff" stroke-width="0.5"/>
<path d="M91.1 351.6L92.5 353.6L95.2 349.5L93.8 347.6ZM95.2 349.5L96.7 351.5L99.4 347.4L98 345.5ZM100.9 349.3L102.4 351.2L105.1 347.1L103.6 345.2ZM105.3 355.9L106.8 358.8L109.5 354.9L108 351.9ZM105.6 365.3L107 368L109.8 364.4L108.3 361.6ZM104.3 371.6L105.8 374.2L108.5 370.7L107 368ZM83 382.3L84.7 383.9L87.8 380L86.1 378.1ZM87.8 380L89.4 381.9L92.5 378.2L90.9 376.1ZM92.5 378.2L94.2 380.4L97.3 377L95.6 374.6ZM97.3 377L99 379.4L102.1 376.2L100.4 373.6ZM102.1 376.2L103.8 378.9L106.9 376L105.2 373.1Z" fill="#1e58ff" stroke="#1e58ff" stroke-width="0.5"/>
<path d="M92.5 353.6L94 355.5L96.7 351.5L95.2 349.5ZM98.2 353.4L99.7 355.4L102.4 351.2L100.9 349.3ZM102.6 360L104.1 362.7L106.8 358.8L105.3 355.9ZM102.9 369.1L104.3 371.6L107 368L105.6 365.3ZM89.8 357.6L91.3 359.5L94 355.5L92.5 353.6ZM88.6 363.5L90.1 365.2L92.8 361.4L91.3 359.5ZM87.4 369.1L88.9 370.7L91.6 367L90.1 365.2ZM86.1 374.5L87.6 376L90.3 372.4L88.9 370.7Z" fill="#1640ff" stroke="#1640ff" stroke-width="0.5"/>
<path d="M94 355.5L95.5 357.5L98.2 353.4L96.7 351.5ZM99.7 355.4L101.1 357.3L103.9 353.1L102.4 351.2ZM101.1 357.3L102.6 360L105.3 355.9L103.9 353.1ZM101.4 366.6L102.9 369.1L105.6 365.3L104.1 362.7ZM91.3 359.5L92.8 361.4L95.5 357.5L94 355.5ZM90.1 365.2L91.6 367L94.3 363.2L92.8 361.4ZM88.9 370.7L90.3 372.4L93 368.8L91.6 367ZM89.2 374L90.9 376.1L93.9 372.2L92.3 369.8ZM93.9 372.2L95.6 374.6L98.7 370.9L97 368.3ZM98.7 370.9L100.4 373.6L103.5 370.2L101.8 367.3Z" fill="#1334ff" stroke="#1334ff" stroke-width="0.5"/>
<path d="M96.7 351.5L98.2 353.4L100.9 349.3L99.4 347.4ZM102.4 351.2L103.9 353.1L106.6 349L105.1 347.1ZM103.9 353.1L105.3 355.9L108 351.9L106.6 349ZM104.1 362.7L105.6 365.3L108.3 361.6L106.8 358.8ZM88.4 355.8L89.8 357.6L92.5 353.6L91.1 351.6ZM87.1 361.7L88.6 363.5L91.3 359.5L89.8 357.6ZM85.9 367.4L87.4 369.1L90.1 365.2L88.6 363.5ZM84.7 372.9L86.1 374.5L88.9 370.7L87.4 369.1ZM83.4 378.2L84.9 379.7L87.6 376L86.1 374.5ZM86.1 378.1L87.8 380L90.9 376.1L89.2 374ZM90.9 376.1L92.5 378.2L95.6 374.6L93.9 372.2ZM95.6 374.6L97.3 377L100.4 373.6L98.7 370.9ZM100.4 373.6L102.1 376.2L105.2 373.1L103.5 370.2Z" fill="#1a4cff" stroke="#1a4cff" stroke-width="0.5"/>
<path d="M95.5 357.5L97 359.5L99.7 355.4L98.2 353.4ZM99.9 364L101.4 366.6L104.1 362.7L102.6 360ZM92.3 369.8L93.9 372.2L97 368.3L95.3 365.6ZM97 368.3L98.7 370.9L101.8 367.3L100.1 364.4Z" fill="#0f27ff" stroke="#0f27ff" stroke-width="0.5"/>
<path d="M97 359.5L98.4 361.5L101.1 357.3L99.7 355.4ZM98.4 361.5L99.9 364L102.6 360L101.1 357.3ZM92.8 361.4L94.3 363.2L97 359.5L95.5 357.5ZM91.6 367L93 368.8L95.7 365.1L94.3 363.2Z" fill="#0f1eff" stroke="#0f1eff" stroke-width="0.5"/>
<path d="M94.3 363.2L95.7 365.1L98.4 361.5L97 359.5ZM95.3 365.6L97 368.3L100.1 364.4L98.4 361.5Z" fill="#0f14ff" stroke="#0f14ff" stroke-width="0.5"/>
<path d="M29.6 348.1L51.2 309L72.9 288.8L94.5 273.4L116.2 262.7L137.8 252.1M41.4 361.3L63 323L84.7 297.1L106.3 281L128 269.4L149.6 258.7M53.2 370L74.8 329.1L96.5 303.2L118.1 288.6L139.8 275.4L161.4 263.2M65 381.5L86.6 345.7L108.3 314.5L129.9 296.9L151.6 285.3L173.2 269.1M76.8 390.6L98.4 361.5L120.1 328.1L141.7 309L163.4 295.8L185 282.3M88.6 398.3L110.2 381.8L131.9 357.1L153.5 338L175.2 323.4L196.8 315M100.4 407.8L122 396.9L143.7 382.3L165.3 372.9L187 361.5L208.6 354.1M112.2 417.6L133.8 406.7L155.5 394.3L177.1 383.7L198.8 373.6L220.4 364.7M124 424.9L145.6 413.5L167.3 401.9L188.9 391L210.6 380.9L232.2 371.5M135.8 431.2L157.4 419.6L179.1 408.7L200.7 397.9L222.4 387.2L244 377.2M29.6 348.1L41.4 361.3L53.2 370L65 381.5L76.8 390.6L88.6 398.3L100.4 407.8L112.2 417.6L124 424.9L135.8 431.2M51.2 309L63 323L74.8 329.1L86.6 345.7L98.4 361.5L110.2 381.8L122 396.9L133.8 406.7L145.6 413.5L157.4 419.6M72.9 288.8L84.7 297.1L96.5 303.2L108.3 314.5L120.1 328.1L131.9 357.1L143.7 382.3L155.5 394.3L167.3 401.9L179.1 408.7M94.5 273.4L106.3 281L118.1 288.6L129.9 296.9L141.7 309L153.5 338L165.3 372.9L177.1 383.7L188.9 391L200.7 397.9M116.2 262.7L128 269.4L139.8 275.4L151.6 285.3L163.4 295.8L175.2 323.4L187 361.5L198.8 373.6L210.6 380.9L222.4 387.2M137.8 252.1L149.6 258.7L161.4 263.2L173.2 269.1L185 282.3L196.8 315L208.6 354.1L220.4 364.7L232.2 371.5L244 377.2" stroke="#dadaea" stroke-width="1.25" fill="none" stroke-linejoin="round"/>
<path d="M29.6 348.1h0.01M51.2 309h0.01M72.9 288.8h0.01M94.5 273.4h0.01M116.2 262.7h0.01M137.8 252.1h0.01M41.4 361.3h0.01M63 323h0.01M84.7 297.1h0.01M106.3 281h0.01M128 269.4h0.01M149.6 258.7h0.01M53.2 370h0.01M74.8 329.1h0.01M96.5 303.2h0.01M118.1 288.6h0.01M139.8 275.4h0.01M161.4 263.2h0.01M65 381.5h0.01M86.6 345.7h0.01M108.3 314.5h0.01M129.9 296.9h0.01M151.6 285.3h0.01M173.2 269.1h0.01M76.8 390.6h0.01M98.4 361.5h0.01M120.1 328.1h0.01M141.7 309h0.01M163.4 295.8h0.01M185 282.3h0.01M88.6 398.3h0.01M110.2 381.8h0.01M131.9 357.1h0.01M153.5 338h0.01M175.2 323.4h0.01M196.8 315h0.01M100.4 407.8h0.01M122 396.9h0.01M143.7 382.3h0.01M165.3 372.9h0.01M187 361.5h0.01M208.6 354.1h0.01M112.2 417.6h0.01M133.8 406.7h0.01M155.5 394.3h0.01M177.1 383.7h0.01M198.8 373.6h0.01M220.4 364.7h0.01M124 424.9h0.01M145.6 413.5h0.01M167.3 401.9h0.01M188.9 391h0.01M210.6 380.9h0.01M232.2 371.5h0.01M135.8 431.2h0.01M157.4 419.6h0.01M179.1 408.7h0.01M200.7 397.9h0.01M222.4 387.2h0.01M244 377.2h0.01" stroke="#0c0c14" stroke-width="1.65" stroke-linecap="round" fill="none"/>
<path d="M29.6 304.2L29.6 380.3L135.8 435L244 380.6M29.6 380.3L27.3 381.5M41.4 386.4L39.1 387.5M53.2 392.5L50.9 393.6M65 398.5L62.7 399.7M76.8 404.6L74.5 405.8M88.6 410.7L86.3 411.9M100.4 416.8L98.1 417.9M112.2 422.8L109.9 424M124 428.9L121.7 430.1M135.8 435L133.5 436.2M135.8 435L138.1 436.2M157.4 424.1L159.8 425.3M179.1 413.2L181.4 414.4M200.7 402.4L203 403.6M222.4 391.5L224.7 392.7M244 380.6L246.3 381.8M29.6 380.3h-2.5M29.6 342.8h-2.5M29.6 305.3h-2.5" stroke="#111" stroke-width="0.9" fill="none"/>
<text x="25.1" y="382.3" font-size="7.3" text-anchor="end">0</text>
<text x="25.1" y="344.8" font-size="7.3" text-anchor="end">50</text>
<text x="25.1" y="307.3" font-size="7.3" text-anchor="end">100</text>
<text x="10.1" y="391.3" font-size="7.3" text-anchor="middle">0</text>
<text x="15.9" y="397.1" font-size="7.3" text-anchor="middle">0.16</text>
<text x="30.3" y="402.3" font-size="7.3" text-anchor="middle">0.31</text>
<text x="45" y="408.6" font-size="7.3" text-anchor="middle">0.62</text>
<text x="59.8" y="415.9" font-size="7.3" text-anchor="middle">1.25</text>
<text x="71" y="421.6" font-size="7.3" text-anchor="middle">2.5</text>
<text x="81" y="426.8" font-size="7.3" text-anchor="middle">5</text>
<text x="93" y="434" font-size="7.3" text-anchor="middle">10</text>
<text x="104.8" y="439.8" font-size="7.3" text-anchor="middle">20</text>
<text x="116.4" y="445.6" font-size="7.3" text-anchor="middle">40</text>
<text x="142.2" y="445.6" font-size="7.3" text-anchor="start">20</text>
<text x="163.3" y="434.6" font-size="7.3" text-anchor="start">6.67</text>
<text x="184.6" y="423.9" font-size="7.3" text-anchor="start">2.22</text>
<text x="206" y="413" font-size="7.3" text-anchor="start">0.74</text>
<text x="226.7" y="401.4" font-size="7.3" text-anchor="start">0.25</text>
<text x="248.9" y="390.8" font-size="7.3" text-anchor="start">0</text>
<text x="132.7" y="234.6" font-size="8.2" text-anchor="middle" textLength="115.5" lengthAdjust="spacingAndGlyphs">Synergy mapped to D-R (BLISS)</text>
<text x="132.7" y="244.7" font-size="8.2" text-anchor="middle" textLength="127.5" lengthAdjust="spacingAndGlyphs">FK866 vs. olaparib in UOK262 + NA</text>
<text x="53" y="448.4" font-size="7.9" text-anchor="middle" textLength="53.9" lengthAdjust="spacingAndGlyphs">FK866 (nmol/L)</text>
<text x="220.7" y="452.7" font-size="7.9" text-anchor="middle" textLength="60" lengthAdjust="spacingAndGlyphs">olaparib (µmol/L)</text>
<text x="6.9" y="331.7" font-size="7.9" text-anchor="middle" transform="rotate(-90 6.9 331.7)" textLength="34" lengthAdjust="spacingAndGlyphs">% Control</text>
</g>
<g>
<path d="M294.8 380.4L404.3 325.2M306.8 386.6L416.3 331.4M318.8 392.8L428.3 337.6M330.8 398.9L440.3 343.7M342.8 405.1L452.3 349.9M354.8 411.3L464.3 356.1M366.8 417.5L476.3 362.3M378.8 423.6L488.3 368.4M390.8 429.8L500.3 374.6M402.8 436L512.3 380.8M294.8 380.4L402.8 436M316.7 369.4L424.7 425M338.6 358.3L446.6 413.9M360.5 347.3L468.5 402.9M382.4 336.2L490.4 391.8M404.3 325.2L512.3 380.8M294.8 380.4L294.8 304.5M316.7 369.4L316.7 293.5M338.6 358.3L338.6 282.4M360.5 347.3L360.5 271.4M382.4 336.2L382.4 260.3M404.3 325.2L404.3 249.3M404.3 325.2L404.3 249.3M416.3 331.4L416.3 255.5M428.3 337.6L428.3 261.7M440.3 343.7L440.3 267.8M452.3 349.9L452.3 274M464.3 356.1L464.3 280.2M476.3 362.3L476.3 286.4M488.3 368.4L488.3 292.5M500.3 374.6L500.3 298.7M512.3 380.8L512.3 304.9M294.8 380.4L404.3 325.2M404.3 325.2L512.3 380.8M294.8 342.9L404.3 287.7M404.3 287.7L512.3 343.3M294.8 305.4L404.3 250.2M404.3 250.2L512.3 305.8" stroke="#bfbfbf" stroke-width="0.6" fill="none"/>
<path d="M382.4 267.2L388.4 270.1L399.3 262.1L393.3 259.8ZM388.4 270.1L394.4 272.9L405.3 264.3L399.3 262.1ZM399.3 262.1L405.3 264.3L416.3 255.6L410.3 254ZM414.5 306.1L420.5 310.7L431.4 301.5L425.4 298.4ZM454.4 304.6L458.4 307.7L465.7 302.3L461.7 299.6ZM465.7 302.3L469.7 305L477 299.3L473 296.9ZM426 306.1L429 308.7L434.4 304.3L431.4 301.5ZM434.4 304.3L437.4 307.1L442.9 302.8L439.9 299.9ZM442.9 302.8L445.9 305.7L451.4 301.5L448.4 298.5ZM445.9 305.7L448.9 308.6L454.4 304.6L451.4 301.5ZM488.8 306.9L491.8 310.2L497.3 305.4L494.3 302.2ZM491.8 310.2L494.8 313.6L500.3 308.6L497.3 305.4ZM305.8 318.4L308.8 320.7L314.2 313.8L311.2 311.5ZM308.8 320.7L311.8 323.1L317.2 316.2L314.2 313.8ZM311.8 323.1L314.8 325.4L320.2 318.6L317.2 316.2ZM393.9 312.9L397.9 316.2L405.2 310.4L401.2 307.2ZM401.2 307.2L405.2 310.4L412.5 304.6L408.5 301.5ZM494.8 313.6L497.8 326.3L503.3 321.8L500.3 308.6ZM495.3 342.8L498.3 355L503.8 351.7L500.8 339ZM492.9 358.4L495.9 370L501.3 367.2L498.3 355ZM368 325.4L372 328.4L379.3 323.5L375.3 320.7ZM375.3 320.7L379.3 323.5L386.6 318.5L382.6 316ZM341.8 339.2L343.8 340.8L347.4 335.6L345.4 334ZM349.4 337.2L351.4 338.9L355.1 333.7L353.1 332ZM355.1 333.7L357.1 335.3L360.7 330.1L358.7 328.5Z" fill="#b4ff97" stroke="#b4ff97" stroke-width="0.5"/>
<path d="M393.3 259.8L399.3 262.1L410.3 254L404.3 252.4ZM458.4 307.7L462.4 310.7L469.7 305L465.7 302.3ZM469.7 305L473.7 307.8L481 301.7L477 299.3ZM420.5 310.7L423.5 313.2L429 308.7L426 306.1ZM429 308.7L432 311.3L437.4 307.1L434.4 304.3ZM437.4 307.1L440.4 309.8L445.9 305.7L442.9 302.8ZM477.3 304.7L480.3 308.2L485.8 303.6L482.8 300.2ZM480.3 308.2L483.3 311.6L488.8 306.9L485.8 303.6ZM386.6 318.5L390.6 322.1L397.9 316.2L393.9 312.9ZM405.2 310.4L409.2 313.6L416.5 307.6L412.5 304.6ZM450.8 307.3L452.8 308.8L456.4 306.1L454.4 304.6ZM492.3 330.7L495.3 342.8L500.8 339L497.8 326.3ZM489.9 346.7L492.9 358.4L498.3 355L495.3 342.8ZM487.4 361.7L490.4 372.9L495.9 370L492.9 358.4ZM315.3 335.9L318.3 337.1L323.8 329.9L320.8 328.8ZM318.3 337.1L321.3 338.3L326.8 330.9L323.8 329.9ZM321.3 338.3L324.3 339.5L329.8 331.9L326.8 330.9ZM360.7 330.1L364.7 333.3L372 328.4L368 325.4ZM324.3 339.5L327.3 341.3L332.8 333.7L329.8 331.9ZM327.3 341.3L330.3 343.2L335.8 335.5L332.8 333.7ZM379.3 323.5L381.3 325.3L384.9 322.8L382.9 321ZM382.9 321L384.9 322.8L388.6 320.3L386.6 318.5ZM486.2 368.9L487.7 374.3L490.4 372.9L488.9 367.3ZM343.8 340.8L345.8 342.4L349.4 337.2L347.4 335.6ZM357.1 335.3L359.1 336.9L362.7 331.7L360.7 330.1Z" fill="#b0ffa2" stroke="#b0ffa2" stroke-width="0.5"/>
<path d="M394.4 272.9L400.4 275.7L411.3 267.8L405.3 264.3ZM405.3 264.3L411.3 267.8L422.3 259.8L416.3 255.6ZM371.4 272.4L377.4 275.3L388.4 270.1L382.4 267.2ZM377.4 275.3L383.4 278.3L394.4 272.9L388.4 270.1ZM408.5 301.5L414.5 306.1L425.4 298.4L419.4 295.4ZM461.7 299.6L465.7 302.3L473 296.9L469 294.5ZM477 299.3L481 301.7L488.3 295.7L484.3 293.6ZM380.6 314.7L386.6 318.5L397.5 310L391.5 306.9ZM391.5 306.9L397.5 310L408.5 301.5L402.5 299.2ZM431.4 301.5L434.4 304.3L439.9 299.9L436.9 296.9ZM439.9 299.9L442.9 302.8L448.4 298.5L445.4 295.4ZM482.8 300.2L485.8 303.6L491.3 298.9L488.3 295.7ZM485.8 303.6L488.8 306.9L494.3 302.2L491.3 298.9ZM314.8 325.4L317.8 327.8L323.2 320.9L320.2 318.6ZM497.8 326.3L500.8 339L506.3 335.1L503.3 321.8ZM498.3 355L501.3 367.2L506.8 364.4L503.8 351.7ZM317.8 327.8L320.8 328.8L326.2 321.8L323.2 320.9ZM320.8 328.8L323.8 329.9L329.2 322.7L326.2 321.8ZM323.8 329.9L326.8 330.9L332.2 323.5L329.2 322.7ZM326.8 330.9L329.8 331.9L335.2 324.4L332.2 323.5ZM356.7 326.9L360.7 330.1L368 325.4L364 322.4ZM329.8 331.9L332.8 333.7L338.2 326.1L335.2 324.4ZM332.8 333.7L335.8 335.5L341.2 327.9L338.2 326.1ZM335.8 335.5L338.8 337.3L344.2 329.6L341.2 327.9ZM338.8 337.3L341.8 339.2L347.2 331.4L344.2 329.6ZM347.4 335.6L349.4 337.2L353.1 332L351.1 330.4ZM353.1 332L355.1 333.7L358.7 328.5L356.7 326.9Z" fill="#b9ff8d" stroke="#b9ff8d" stroke-width="0.5"/>
<path d="M400.4 275.7L406.4 278.5L417.3 271.3L411.3 267.8ZM360.5 277.5L366.5 280.6L377.4 275.3L371.4 272.4ZM366.5 280.6L372.5 283.7L383.4 278.3L377.4 275.3ZM383.4 278.3L389.4 281.2L400.4 275.7L394.4 272.9ZM389.4 281.2L395.4 284.2L406.4 278.5L400.4 275.7ZM402.5 299.2L408.5 301.5L419.4 295.4L413.4 293.2ZM448.4 298.5L454.4 304.6L465.3 297.1L459.3 291.3ZM419.4 295.4L425.4 298.4L436.4 290.8L430.4 289.3ZM425.4 298.4L431.4 301.5L442.4 292.4L436.4 290.8ZM473 296.9L477 299.3L484.3 293.6L480.3 291.6ZM374.6 310.9L380.6 314.7L391.5 306.9L385.5 303.8ZM385.5 303.8L391.5 306.9L402.5 299.2L396.5 296.8ZM436.9 296.9L439.9 299.9L445.4 295.4L442.4 292.4ZM311.2 311.5L314.2 313.8L319.7 306.9L316.7 304.6ZM314.2 313.8L317.2 316.2L322.7 309.3L319.7 306.9ZM500.8 339L503.8 351.7L509.3 348.3L506.3 335.1ZM503.8 351.7L506.8 364.4L512.3 361.5L509.3 348.3ZM364 322.4L368 325.4L375.3 320.7L371.3 317.9ZM371.3 317.9L375.3 320.7L382.6 316L378.6 313.4ZM345.4 334L347.4 335.6L351.1 330.4L349.1 328.8ZM351.1 330.4L353.1 332L356.7 326.9L354.7 325.2Z" fill="#beff83" stroke="#beff83" stroke-width="0.5"/>
<path d="M411.3 267.8L417.3 271.3L428.3 264.1L422.3 259.8ZM406.4 278.5L412.4 281.9L423.3 273.6L417.3 271.3ZM412.4 281.9L418.4 285.2L429.3 275.9L423.3 273.6ZM372.5 283.7L378.5 286.8L389.4 281.2L383.4 278.3ZM378.5 286.8L384.5 289.9L395.4 284.2L389.4 281.2ZM418.4 285.2L424.4 287.2L435.3 279.3L429.3 275.9ZM429.3 275.9L435.3 279.3L446.3 271.4L440.3 266.5ZM424.4 287.2L430.4 289.3L441.3 282.8L435.3 279.3ZM435.3 279.3L441.3 282.8L452.3 276.4L446.3 271.4ZM349.5 282.7L355.5 286.5L366.5 280.6L360.5 277.5ZM355.5 286.5L361.5 290.4L372.5 283.7L366.5 280.6ZM384.5 289.9L390.5 293.3L401.4 287.6L395.4 284.2ZM395.4 284.2L401.4 287.6L412.4 281.9L406.4 278.5ZM390.5 293.3L396.5 296.8L407.4 291L401.4 287.6ZM401.4 287.6L407.4 291L418.4 285.2L412.4 281.9ZM430.4 289.3L436.4 290.8L447.3 284.2L441.3 282.8ZM441.3 282.8L447.3 284.2L458.3 277.6L452.3 276.4ZM436.4 290.8L442.4 292.4L453.3 285.6L447.3 284.2ZM447.3 284.2L453.3 285.6L464.3 278.8L458.3 277.6ZM396.5 296.8L402.5 299.2L413.4 293.2L407.4 291ZM407.4 291L413.4 293.2L424.4 287.2L418.4 285.2ZM413.4 293.2L419.4 295.4L430.4 289.3L424.4 287.2ZM442.4 292.4L448.4 298.5L459.3 291.3L453.3 285.6ZM459.3 291.3L465.3 297.1L476.3 289.5L470.3 284.2ZM368.6 305.9L374.6 310.9L385.5 303.8L379.5 299.6ZM379.5 299.6L385.5 303.8L396.5 296.8L390.5 293.3ZM469 294.5L473 296.9L480.3 291.6L476.3 289.5ZM317.2 316.2L320.2 318.6L325.7 311.7L322.7 309.3ZM320.2 318.6L323.2 320.9L328.7 314L325.7 311.7ZM323.2 320.9L326.2 321.8L331.7 314.7L328.7 314ZM326.2 321.8L329.2 322.7L334.7 315.4L331.7 314.7ZM329.2 322.7L332.2 323.5L337.7 316.1L334.7 315.4ZM360 319.4L364 322.4L371.3 317.9L367.3 315.1ZM367.3 315.1L371.3 317.9L378.6 313.4L374.6 310.9Z" fill="#c3ff79" stroke="#c3ff79" stroke-width="0.5"/>
<path d="M417.3 271.3L423.3 273.6L434.3 265.3L428.3 264.1ZM423.3 273.6L429.3 275.9L440.3 266.5L434.3 265.3ZM338.6 287.8L344.6 292.4L355.5 286.5L349.5 282.7ZM344.6 292.4L350.6 297L361.5 290.4L355.5 286.5ZM361.5 290.4L367.5 292.9L378.5 286.8L372.5 283.7ZM367.5 292.9L373.5 295.4L384.5 289.9L378.5 286.8ZM453.3 285.6L459.3 291.3L470.3 284.2L464.3 278.8ZM316.7 304.6L322.7 309.3L333.6 300.9L327.6 296.2ZM327.6 296.2L333.6 300.9L344.6 292.4L338.6 287.8ZM322.7 309.3L328.7 314L339.6 305.5L333.6 300.9ZM333.6 300.9L339.6 305.5L350.6 297L344.6 292.4ZM362.6 300.9L368.6 305.9L379.5 299.6L373.5 295.4ZM373.5 295.4L379.5 299.6L390.5 293.3L384.5 289.9ZM328.7 314L334.7 315.4L345.6 307.2L339.6 305.5ZM357.6 313.1L363.6 317.2L374.6 310.9L368.6 305.9ZM332.2 323.5L335.2 324.4L340.7 316.8L337.7 316.1ZM352.7 323.6L356.7 326.9L364 322.4L360 319.4ZM335.2 324.4L338.2 326.1L343.7 318.5L340.7 316.8ZM338.2 326.1L341.2 327.9L346.7 320.2L343.7 318.5ZM341.2 327.9L344.2 329.6L349.7 321.9L346.7 320.2ZM344.2 329.6L347.2 331.4L352.7 323.6L349.7 321.9ZM349.1 328.8L351.1 330.4L354.7 325.2L352.7 323.6Z" fill="#c8ff6f" stroke="#c8ff6f" stroke-width="0.5"/>
<path d="M350.6 297L356.6 299L367.5 292.9L361.5 290.4ZM356.6 299L362.6 300.9L373.5 295.4L367.5 292.9ZM339.6 305.5L345.6 307.2L356.6 299L350.6 297ZM334.7 315.4L340.7 316.8L351.6 308.9L345.6 307.2ZM345.6 307.2L351.6 308.9L362.6 300.9L356.6 299ZM340.7 316.8L346.7 320.2L357.6 313.1L351.6 308.9ZM351.6 308.9L357.6 313.1L368.6 305.9L362.6 300.9ZM346.7 320.2L352.7 323.6L363.6 317.2L357.6 313.1Z" fill="#ceff64" stroke="#ceff64" stroke-width="0.5"/>
<path d="M462.4 310.7L466.4 313.8L473.7 307.8L469.7 305ZM423.5 313.2L426.5 315.6L432 311.3L429 308.7ZM432 311.3L435 314L440.4 309.8L437.4 307.1ZM440.4 309.8L443.4 312.6L448.9 308.6L445.9 305.7ZM471.9 309.3L474.9 312.8L480.3 308.2L477.3 304.7ZM483.3 311.6L486.3 315.1L491.8 310.2L488.8 306.9ZM486.3 315.1L489.3 318.5L494.8 313.6L491.8 310.2ZM300.3 325.3L303.3 327.6L308.8 320.7L305.8 318.4ZM303.3 327.6L306.3 330L311.8 323.1L308.8 320.7ZM306.3 330L309.3 332.3L314.8 325.4L311.8 323.1ZM309.3 332.3L312.3 334.7L317.8 327.8L314.8 325.4ZM397.9 316.2L401.9 319.6L409.2 313.6L405.2 310.4ZM409.2 313.6L413.2 316.8L420.5 310.7L416.5 307.6ZM447.1 309.9L449.1 311.5L452.8 308.8L450.8 307.3ZM452.8 308.8L454.8 310.4L458.4 307.7L456.4 306.1ZM454.8 310.4L456.8 311.9L460.4 309.2L458.4 307.7ZM489.3 318.5L492.3 330.7L497.8 326.3L494.8 313.6ZM486.9 335.1L489.9 346.7L495.3 342.8L492.3 330.7ZM484.4 350.6L487.4 361.7L492.9 358.4L489.9 346.7ZM312.3 334.7L315.3 335.9L320.8 328.8L317.8 327.8ZM417.4 313.3L419.1 314.7L422.2 312.1L420.5 310.7ZM330.3 343.2L333.3 345.1L338.8 337.3L335.8 335.5ZM333.3 345.1L336.3 346.9L341.8 339.2L338.8 337.3ZM372 328.4L374 330.3L377.6 327.8L375.6 325.9ZM375.6 325.9L377.6 327.8L381.3 325.3L379.3 323.5ZM384.9 322.8L386.9 324.6L390.6 322.1L388.6 320.3ZM484.7 363.4L486.2 368.9L488.9 367.3L487.4 361.7ZM483.4 370.4L484.9 375.8L487.7 374.3L486.2 368.9ZM338.1 344.3L340.1 346L343.8 340.8L341.8 339.2ZM345.8 342.4L347.8 344.1L351.4 338.9L349.4 337.2ZM351.4 338.9L353.4 340.5L357.1 335.3L355.1 333.7ZM359.1 336.9L361.1 338.5L364.7 333.3L362.7 331.7Z" fill="#abffad" stroke="#abffad" stroke-width="0.5"/>
<path d="M426.5 315.6L429.5 318.1L435 314L432 311.3ZM435 314L438 316.6L443.4 312.6L440.4 309.8ZM474.9 312.8L477.9 316.3L483.3 311.6L480.3 308.2ZM390.6 322.1L394.6 325.6L401.9 319.6L397.9 316.2ZM401.9 319.6L405.9 323L413.2 316.8L409.2 313.6ZM443.4 312.6L445.4 314.2L449.1 311.5L447.1 309.9ZM449.1 311.5L451.1 313L454.8 310.4L452.8 308.8ZM456.8 311.9L458.8 313.4L462.4 310.7L460.4 309.2ZM414.2 316L416 317.3L419.1 314.7L417.4 313.3ZM419.1 314.7L420.8 316L423.9 313.5L422.2 312.1ZM420.8 316L422.5 317.4L425.6 314.9L423.9 313.5ZM364.7 333.3L366.7 335.2L370.4 332.7L368.4 330.9ZM368.4 330.9L370.4 332.7L374 330.3L372 328.4ZM377.6 327.8L379.6 329.6L383.3 327.1L381.3 325.3ZM381.3 325.3L383.3 327.1L386.9 324.6L384.9 322.8ZM386.9 324.6L388.9 326.4L392.6 323.9L390.6 322.1ZM483.2 358L484.7 363.4L487.4 361.7L485.9 356.2ZM481.9 365.1L483.4 370.4L486.2 368.9L484.7 363.4ZM477.9 373.6L479.4 378.7L482.2 377.2L480.7 372ZM480.7 372L482.2 377.2L484.9 375.8L483.4 370.4ZM340.1 346L342.1 347.6L345.8 342.4L343.8 340.8ZM347.8 344.1L349.8 345.7L353.4 340.5L351.4 338.9ZM353.4 340.5L355.4 342.1L359.1 336.9L357.1 335.3ZM362 337.2L363.5 338.6L366.2 334.7L364.7 333.3Z" fill="#a8ffb7" stroke="#a8ffb7" stroke-width="0.5"/>
<path d="M429.5 318.1L432.5 320.6L438 316.6L435 314ZM469.4 317.4L472.4 321.1L477.9 316.3L474.9 312.8ZM394.6 325.6L398.6 329.2L405.9 323L401.9 319.6ZM436.1 317.9L438.1 319.5L441.8 316.8L439.8 315.3ZM441.8 316.8L443.8 318.4L447.4 315.7L445.4 314.2ZM447.4 315.7L449.4 317.3L453.1 314.6L451.1 313ZM453.1 314.6L455.1 316.1L458.8 313.4L456.8 311.9ZM460.8 315L462.8 316.5L466.4 313.8L464.4 312.3ZM408 321.3L409.7 322.4L412.8 319.8L411.1 318.6ZM412.8 319.8L414.5 321.1L417.7 318.6L416 317.3ZM417.7 318.6L419.4 319.9L422.5 317.4L420.8 316ZM424.2 318.7L425.9 320.1L429.1 317.8L427.4 316.3ZM463.7 315.8L465.2 317.7L467.9 315.6L466.4 313.8ZM327.8 352.8L330.8 354.7L336.3 346.9L333.3 345.1ZM366.7 335.2L368.7 337.1L372.4 334.6L370.4 332.7ZM370.4 332.7L372.4 334.6L376 332.1L374 330.3ZM379.6 329.6L381.6 331.5L385.3 328.9L383.3 327.1ZM388.9 326.4L390.9 328.2L394.6 325.6L392.6 323.9ZM480.2 347.1L481.7 352.5L484.4 350.6L482.9 345.1ZM478.9 354.4L480.4 359.8L483.2 358L481.7 352.5ZM477.7 361.6L479.2 366.8L481.9 365.1L480.4 359.8ZM476.4 368.5L477.9 373.6L480.7 372L479.2 366.8ZM472.5 376.7L474 381.6L476.7 380.1L475.2 375.1ZM336.4 351.2L338.4 352.8L342.1 347.6L340.1 346ZM344.1 349.3L346.1 350.9L349.8 345.7L347.8 344.1ZM351.8 347.3L353.8 349L357.4 343.8L355.4 342.1ZM359.2 341.1L360.7 342.5L363.5 338.6L362 337.2ZM363.5 338.6L365 340L367.7 336.2L366.2 334.7Z" fill="#a1ffca" stroke="#a1ffca" stroke-width="0.5"/>
<path d="M466.4 313.8L469.4 317.4L474.9 312.8L471.9 309.3ZM477.9 316.3L480.9 319.9L486.3 315.1L483.3 311.6ZM480.9 319.9L483.9 323.4L489.3 318.5L486.3 315.1ZM294.8 332.2L297.8 334.5L303.3 327.6L300.3 325.3ZM297.8 334.5L300.8 336.9L306.3 330L303.3 327.6ZM300.8 336.9L303.8 339.2L309.3 332.3L306.3 330ZM303.8 339.2L306.8 341.6L312.3 334.7L309.3 332.3ZM439.8 315.3L441.8 316.8L445.4 314.2L443.4 312.6ZM445.4 314.2L447.4 315.7L451.1 313L449.1 311.5ZM451.1 313L453.1 314.6L456.8 311.9L454.8 310.4ZM458.8 313.4L460.8 315L464.4 312.3L462.4 310.7ZM483.9 323.4L486.9 335.1L492.3 330.7L489.3 318.5ZM481.4 339.5L484.4 350.6L489.9 346.7L486.9 335.1ZM306.8 341.6L309.8 342.9L315.3 335.9L312.3 334.7ZM309.8 342.9L312.8 344.3L318.3 337.1L315.3 335.9ZM312.8 344.3L315.8 345.6L321.3 338.3L318.3 337.1ZM315.8 345.6L318.8 347L324.3 339.5L321.3 338.3ZM411.1 318.6L412.8 319.8L416 317.3L414.2 316ZM416 317.3L417.7 318.6L420.8 316L419.1 314.7ZM422.5 317.4L424.2 318.7L427.4 316.3L425.6 314.9ZM318.8 347L321.8 348.9L327.3 341.3L324.3 339.5ZM321.8 348.9L324.8 350.8L330.3 343.2L327.3 341.3ZM324.8 350.8L327.8 352.8L333.3 345.1L330.3 343.2ZM374 330.3L376 332.1L379.6 329.6L377.6 327.8ZM383.3 327.1L385.3 328.9L388.9 326.4L386.9 324.6ZM481.7 352.5L483.2 358L485.9 356.2L484.4 350.6ZM480.4 359.8L481.9 365.1L484.7 363.4L483.2 358ZM479.2 366.8L480.7 372L483.4 370.4L481.9 365.1ZM475.2 375.1L476.7 380.1L479.4 378.7L477.9 373.6ZM334.4 349.5L336.4 351.2L340.1 346L338.1 344.3ZM342.1 347.6L344.1 349.3L347.8 344.1L345.8 342.4ZM349.8 345.7L351.8 347.3L355.4 342.1L353.4 340.5ZM355.4 342.1L357.4 343.8L361.1 338.5L359.1 336.9Z" fill="#a4ffc1" stroke="#a4ffc1" stroke-width="0.5"/>
<path d="M472.4 321.1L475.4 324.7L480.9 319.9L477.9 316.3ZM475.4 324.7L478.4 328.4L483.9 323.4L480.9 319.9ZM432.5 320.6L434.5 322.2L438.1 319.5L436.1 317.9ZM449.4 317.3L451.4 318.8L455.1 316.1L453.1 314.6ZM455.1 316.1L457.1 317.7L460.8 315L458.8 313.4ZM478.4 328.4L481.4 339.5L486.9 335.1L483.9 323.4ZM404.9 323.9L406.6 325L409.7 322.4L408 321.3ZM409.7 322.4L411.4 323.6L414.5 321.1L412.8 319.8ZM414.5 321.1L416.3 322.3L419.4 319.9L417.7 318.6ZM419.4 319.9L421.1 321.1L424.2 318.7L422.5 317.4ZM425.9 320.1L427.7 321.5L430.8 319.2L429.1 317.8ZM465.2 317.7L466.7 319.6L469.4 317.4L467.9 315.6ZM466.7 319.6L468.2 321.4L470.9 319.3L469.4 317.4ZM376 332.1L378 334L381.6 331.5L379.6 329.6ZM385.3 328.9L387.3 330.7L390.9 328.2L388.9 326.4ZM390.9 328.2L392.9 330L396.6 327.4L394.6 325.6ZM478.7 341.6L480.2 347.1L482.9 345.1L481.4 339.5ZM474.9 363.3L476.4 368.5L479.2 366.8L477.7 361.6ZM473.7 370.1L475.2 375.1L477.9 373.6L476.4 368.5ZM469.7 378.3L471.2 383.1L474 381.6L472.5 376.7ZM330.8 354.7L332.8 356.3L336.4 351.2L334.4 349.5ZM332.8 356.3L334.8 358L338.4 352.8L336.4 351.2ZM338.4 352.8L340.4 354.5L344.1 349.3L342.1 347.6ZM340.4 354.5L342.4 356.1L346.1 350.9L344.1 349.3ZM346.1 350.9L348.1 352.5L351.8 347.3L349.8 345.7ZM356.5 345.1L358 346.4L360.7 342.5L359.2 341.1ZM360.7 342.5L362.2 343.9L365 340L363.5 338.6Z" fill="#9effd3" stroke="#9effd3" stroke-width="0.5"/>
<path d="M434.5 322.2L436.5 323.8L440.1 321.1L438.1 319.5ZM440.1 321.1L442.1 322.7L445.8 320L443.8 318.4ZM445.8 320L447.8 321.6L451.4 318.8L449.4 317.3ZM453.4 320.4L455.4 322L459.1 319.2L457.1 317.7ZM403.4 327.6L405.2 328.7L408.3 326.1L406.6 325ZM408.3 326.1L410 327.2L413.1 324.8L411.4 323.6ZM413.1 324.8L414.8 326L418 323.6L416.3 322.3ZM418 323.6L419.7 324.8L422.8 322.4L421.1 321.1ZM422.8 322.4L424.5 323.7L427.7 321.5L425.9 320.1ZM458.2 319.9L459.7 321.9L462.4 319.8L460.9 317.9ZM463.9 321.7L465.4 323.6L468.2 321.4L466.7 319.6ZM465.4 323.6L466.9 325.5L469.7 323.3L468.2 321.4ZM471.2 325.1L472.7 327L475.4 324.7L473.9 322.9ZM472.7 327L474.2 328.9L476.9 326.5L475.4 324.7ZM378 334L380 335.8L383.6 333.3L381.6 331.5ZM383.6 333.3L385.6 335.1L389.3 332.6L387.3 330.7ZM429.8 322.5L431.3 323.8L434 321.8L432.5 320.6ZM475.7 330.7L477.2 336.2L479.9 333.9L478.4 328.4ZM475.9 343.7L477.4 349.1L480.2 347.1L478.7 341.6ZM474.7 351.1L476.2 356.3L478.9 354.4L477.4 349.1ZM473.4 358.2L474.9 363.3L477.7 361.6L476.2 356.3ZM472.2 365.1L473.7 370.1L476.4 368.5L474.9 363.3ZM468.2 373.5L469.7 378.3L472.5 376.7L471 371.8ZM336.8 359.6L338.8 361.3L342.4 356.1L340.4 354.5ZM344.4 357.7L346.4 359.4L350.1 354.2L348.1 352.5ZM395.9 331.2L397.4 332.2L400.1 330.1L398.6 329.2ZM351 352.9L352.5 354.2L355.2 350.3L353.8 349ZM355.2 350.3L356.8 351.6L359.5 347.8L358 346.4ZM362.2 343.9L363.7 345.3L366.5 341.4L365 340ZM447.8 388.9L449.3 392.5L452.1 391.4L450.6 387.6ZM450.6 387.6L452.1 391.4L454.8 390.2L453.3 386.3ZM453.3 386.3L454.8 390.2L457.5 389.1L456 385ZM456 385L457.5 389.1L460.3 387.9L458.8 383.7ZM458.8 383.7L460.3 387.9L463 386.8L461.5 382.4ZM401.3 421.8L402.8 423.2L405.5 421.4L404 419.9Z" fill="#94ffe2" stroke="#94ffe2" stroke-width="0.5"/>
<path d="M438.1 319.5L440.1 321.1L443.8 318.4L441.8 316.8ZM443.8 318.4L445.8 320L449.4 317.3L447.4 315.7ZM451.4 318.8L453.4 320.4L457.1 317.7L455.1 316.1ZM457.1 317.7L459.1 319.2L462.8 316.5L460.8 315ZM398.6 329.2L400.3 330.2L403.4 327.6L401.7 326.6ZM401.7 326.6L403.4 327.6L406.6 325L404.9 323.9ZM406.6 325L408.3 326.1L411.4 323.6L409.7 322.4ZM411.4 323.6L413.1 324.8L416.3 322.3L414.5 321.1ZM416.3 322.3L418 323.6L421.1 321.1L419.4 319.9ZM421.1 321.1L422.8 322.4L425.9 320.1L424.2 318.7ZM427.7 321.5L429.4 322.8L432.5 320.6L430.8 319.2ZM460.9 317.9L462.4 319.8L465.2 317.7L463.7 315.8ZM462.4 319.8L463.9 321.7L466.7 319.6L465.2 317.7ZM468.2 321.4L469.7 323.3L472.4 321.1L470.9 319.3ZM469.7 323.3L471.2 325.1L473.9 322.9L472.4 321.1ZM368.7 337.1L370.7 339L374.4 336.5L372.4 334.6ZM372.4 334.6L374.4 336.5L378 334L376 332.1ZM381.6 331.5L383.6 333.3L387.3 330.7L385.3 328.9ZM387.3 330.7L389.3 332.6L392.9 330L390.9 328.2ZM392.9 330L394.9 331.8L398.6 329.2L396.6 327.4ZM477.2 336.2L478.7 341.6L481.4 339.5L479.9 333.9ZM477.4 349.1L478.9 354.4L481.7 352.5L480.2 347.1ZM476.2 356.3L477.7 361.6L480.4 359.8L478.9 354.4ZM471 371.8L472.5 376.7L475.2 375.1L473.7 370.1ZM467 379.8L468.5 384.5L471.2 383.1L469.7 378.3ZM334.8 358L336.8 359.6L340.4 354.5L338.4 352.8ZM342.4 356.1L344.4 357.7L348.1 352.5L346.1 350.9ZM348.1 352.5L350.1 354.2L353.8 349L351.8 347.3ZM353.8 349L355.2 350.3L358 346.4L356.5 345.1ZM358 346.4L359.5 347.8L362.2 343.9L360.7 342.5ZM365 340L366.5 341.4L369.2 337.6L367.7 336.2ZM461.5 382.4L463 386.8L465.8 385.7L464.3 381.1ZM464.3 381.1L465.8 385.7L468.5 384.5L467 379.8Z" fill="#99ffdb" stroke="#99ffdb" stroke-width="0.5"/>
<path d="M436.5 323.8L438.5 325.4L442.1 322.7L440.1 321.1ZM442.1 322.7L444.1 324.3L447.8 321.6L445.8 320ZM447.8 321.6L449.8 323.1L453.4 320.4L451.4 318.8ZM400.3 330.2L402 331.2L405.2 328.7L403.4 327.6ZM419.7 324.8L421.4 326L424.5 323.7L422.8 322.4ZM424.5 323.7L426.2 325L429.4 322.8L427.7 321.5ZM459.7 321.9L461.2 323.8L463.9 321.7L462.4 319.8ZM461.2 323.8L462.7 325.7L465.4 323.6L463.9 321.7ZM466.9 325.5L468.4 327.4L471.2 325.1L469.7 323.3ZM474.2 328.9L475.7 330.7L478.4 328.4L476.9 326.5ZM374.4 336.5L376.4 338.4L380 335.8L378 334ZM380 335.8L382 337.7L385.6 335.1L383.6 333.3ZM389.3 332.6L391.3 334.4L394.9 331.8L392.9 330ZM427 324.5L428.5 325.8L431.3 323.8L429.8 322.5ZM431.3 323.8L432.8 325L435.5 323L434 321.8ZM474.4 338.4L475.9 343.7L478.7 341.6L477.2 336.2ZM470.7 360.1L472.2 365.1L474.9 363.3L473.4 358.2ZM469.5 366.9L471 371.8L473.7 370.1L472.2 365.1ZM465.5 375.2L467 379.8L469.7 378.3L468.2 373.5ZM338.8 361.3L340.8 363L344.4 357.7L342.4 356.1ZM348.3 356.8L349.8 358.1L352.5 354.2L351 352.9ZM352.5 354.2L354 355.5L356.8 351.6L355.2 350.3ZM359.5 347.8L361 349.1L363.7 345.3L362.2 343.9ZM366.5 341.4L368 342.9L370.7 339L369.2 337.6ZM445.1 390.2L446.6 393.7L449.3 392.5L447.8 388.9ZM439.6 394.2L441.1 397.4L443.9 395.5L442.4 392.2ZM442.4 392.2L443.9 395.5L446.6 393.7L445.1 390.2ZM404 419.9L405.5 421.4L408.3 419.6L406.8 417.9ZM406.8 417.9L408.3 419.6L411 417.7L409.5 415.9Z" fill="#8fffe8" stroke="#8fffe8" stroke-width="0.5"/>
<path d="M438.5 325.4L440.5 327L444.1 324.3L442.1 322.7ZM444.1 324.3L446.1 325.8L449.8 323.1L447.8 321.6ZM402 331.2L403.7 332.2L406.9 329.7L405.2 328.7ZM406.9 329.7L408.6 330.8L411.7 328.4L410 327.2ZM411.7 328.4L413.4 329.5L416.6 327.1L414.8 326ZM416.6 327.1L418.3 328.3L421.4 326L419.7 324.8ZM452.7 324L454.2 326L456.9 323.9L455.4 322ZM458.4 325.9L459.9 327.9L462.7 325.7L461.2 323.8ZM464.2 327.7L465.7 329.6L468.4 327.4L466.9 325.5ZM465.7 329.6L467.2 331.6L469.9 329.3L468.4 327.4ZM471.4 331.2L472.9 333.1L475.7 330.7L474.2 328.9ZM376.4 338.4L378.4 340.3L382 337.7L380 335.8ZM382 337.7L384 339.6L387.6 337L385.6 335.1ZM424.3 326.4L425.8 327.8L428.5 325.8L427 324.5ZM428.5 325.8L430 327.1L432.8 325L431.3 323.8ZM434.3 326.3L435.8 327.5L438.5 325.4L437 324.2ZM471.7 340.7L473.2 345.9L475.9 343.7L474.4 338.4ZM470.4 348L471.9 353.1L474.7 351.1L473.2 345.9ZM469.2 355.1L470.7 360.1L473.4 358.2L471.9 353.1ZM468 362L469.5 366.9L472.2 365.1L470.7 360.1ZM464 370.5L465.5 375.2L468.2 373.5L466.7 368.7ZM390.4 335L391.9 336.3L394.6 334.2L393.1 333.1ZM394.6 334.2L396.1 335.4L398.9 333.2L397.4 332.2ZM342.8 364.6L344.3 365.9L347 362L345.5 360.7ZM347 362L348.5 363.2L351.3 359.4L349.8 358.1ZM354 355.5L355.5 356.8L358.2 353L356.8 351.6ZM358.2 353L359.8 354.3L362.5 350.5L361 349.1ZM361 349.1L362.5 350.5L365.2 346.7L363.7 345.3ZM365.2 346.7L366.7 348.1L369.5 344.3L368 342.9ZM449.1 383.9L450.6 387.6L453.3 386.3L451.8 382.4ZM451.8 382.4L453.3 386.3L456 385L454.5 381ZM454.5 381L456 385L458.8 383.7L457.3 379.5ZM425.9 404.2L427.4 406.6L430.2 404.8L428.7 402.2ZM428.7 402.2L430.2 404.8L432.9 402.9L431.4 400.2ZM415 412L416.5 414L419.2 412.2L417.7 410.1ZM417.7 410.1L419.2 412.2L422 410.3L420.5 408.1ZM420.5 408.1L422 410.3L424.7 408.5L423.2 406.2Z" fill="#87fff5" stroke="#87fff5" stroke-width="0.5"/>
<path d="M440.5 327L442.5 328.6L446.1 325.8L444.1 324.3ZM403.7 332.2L405.5 333.2L408.6 330.8L406.9 329.7ZM408.6 330.8L410.3 331.8L413.4 329.5L411.7 328.4ZM413.4 329.5L415.1 330.6L418.3 328.3L416.6 327.1ZM450 326.1L451.5 328.1L454.2 326L452.7 324ZM455.7 328L457.2 330.1L459.9 327.9L458.4 325.9ZM457.2 330.1L458.7 332.1L461.4 329.9L459.9 327.9ZM462.9 331.9L464.4 333.8L467.2 331.6L465.7 329.6ZM468.7 333.5L470.2 335.4L472.9 333.1L471.4 331.2ZM378.4 340.3L380.4 342.2L384 339.6L382 337.7ZM421.5 328.4L423 329.8L425.8 327.8L424.3 326.4ZM425.8 327.8L427.3 329.1L430 327.1L428.5 325.8ZM431.5 328.4L433 329.7L435.8 327.5L434.3 326.3ZM435.8 327.5L437.3 328.8L440 326.6L438.5 325.4ZM468.9 342.9L470.4 348L473.2 345.9L471.7 340.7ZM467.7 350.1L469.2 355.1L471.9 353.1L470.4 348ZM462.5 365.9L464 370.5L466.7 368.7L465.2 363.9ZM384.9 338.9L386.4 340.5L389.1 338.4L387.6 337ZM391.9 336.3L393.4 337.6L396.1 335.4L394.6 334.2ZM396.1 335.4L397.6 336.5L400.4 334.2L398.9 333.2ZM400.4 334.2L401.9 335.2L404.6 332.7L403.1 331.8ZM344.3 365.9L345.8 367.1L348.5 363.2L347 362ZM348.5 363.2L350 364.5L352.8 360.7L351.3 359.4ZM352.8 360.7L354.3 361.9L357 358.1L355.5 356.8ZM359.8 354.3L361.2 355.6L364 351.8L362.5 350.5ZM366.7 348.1L368.2 349.4L371 345.7L369.5 344.3ZM455.8 375.3L457.3 379.5L460 378.1L458.5 373.7ZM435.4 393.2L436.9 396.2L439.6 394.2L438.1 391ZM438.1 391L439.6 394.2L442.4 392.2L440.9 388.9ZM440.9 388.9L442.4 392.2L445.1 390.2L443.6 386.8ZM405.3 416.3L406.8 417.9L409.5 415.9L408 414.2ZM408 414.2L409.5 415.9L412.2 414L410.8 412.1Z" fill="#7dfeff" stroke="#7dfeff" stroke-width="0.5"/>
<path d="M442.5 328.6L444.5 330.1L448.1 327.4L446.1 325.8ZM415.1 330.6L416.9 331.7L420 329.5L418.3 328.3ZM447.2 328.1L448.7 330.2L451.5 328.1L450 326.1ZM451.5 328.1L453 330.2L455.7 328L454.2 326ZM453 330.2L454.5 332.2L457.2 330.1L455.7 328ZM458.7 332.1L460.2 334.1L462.9 331.9L461.4 329.9ZM464.4 333.8L465.9 335.8L468.7 333.5L467.2 331.6ZM374.7 342.8L376.7 344.7L380.4 342.2L378.4 340.3ZM423 329.8L424.5 331.2L427.3 329.1L425.8 327.8ZM427.3 329.1L428.8 330.5L431.5 328.4L430 327.1ZM437.3 328.8L438.8 330L441.5 327.8L440 326.6ZM467.4 337.8L468.9 342.9L471.7 340.7L470.2 335.4ZM466.2 345.1L467.7 350.1L470.4 348L468.9 342.9ZM465 352.3L466.5 357.2L469.2 355.1L467.7 350.1ZM463.7 359.2L465.2 363.9L468 362L466.5 357.2ZM382.2 340.9L383.7 342.6L386.4 340.5L384.9 338.9ZM389.1 338.4L390.6 339.8L393.4 337.6L391.9 336.3ZM393.4 337.6L394.9 338.9L397.6 336.5L396.1 335.4ZM345.8 367.1L347.3 368.3L350 364.5L348.5 363.2ZM350 364.5L351.5 365.8L354.3 361.9L352.8 360.7ZM357 358.1L358.5 359.4L361.2 355.6L359.8 354.3ZM364 351.8L365.5 353.2L368.2 349.4L366.7 348.1ZM371 345.7L372.5 347.1L375.2 343.3L373.7 341.9ZM459.8 367.6L461.3 372.1L464 370.5L462.5 365.9ZM450.3 378.5L451.8 382.4L454.5 381L453 376.9ZM453 376.9L454.5 381L457.3 379.5L455.8 375.3ZM427.2 399.6L428.7 402.2L431.4 400.2L429.9 397.4ZM429.9 397.4L431.4 400.2L434.1 398.2L432.6 395.3ZM432.6 395.3L434.1 398.2L436.9 396.2L435.4 393.2ZM410.8 412.1L412.2 414L415 412L413.5 410ZM413.5 410L415 412L417.7 410.1L416.2 408ZM416.2 408L417.7 410.1L420.5 408.1L419 405.9Z" fill="#78f8ff" stroke="#78f8ff" stroke-width="0.5"/>
<path d="M446.1 325.8L448.1 327.4L451.8 324.7L449.8 323.1ZM418.3 328.3L420 329.5L423.1 327.3L421.4 326ZM454.2 326L455.7 328L458.4 325.9L456.9 323.9ZM459.9 327.9L461.4 329.9L464.2 327.7L462.7 325.7ZM461.4 329.9L462.9 331.9L465.7 329.6L464.2 327.7ZM467.2 331.6L468.7 333.5L471.4 331.2L469.9 329.3ZM372.7 340.9L374.7 342.8L378.4 340.3L376.4 338.4ZM430 327.1L431.5 328.4L434.3 326.3L432.8 325ZM470.2 335.4L471.7 340.7L474.4 338.4L472.9 333.1ZM466.5 357.2L468 362L470.7 360.1L469.2 355.1ZM465.2 363.9L466.7 368.7L469.5 366.9L468 362ZM387.6 337L389.1 338.4L391.9 336.3L390.4 335ZM398.9 333.2L400.4 334.2L403.1 331.8L401.6 330.9ZM351.3 359.4L352.8 360.7L355.5 356.8L354 355.5ZM355.5 356.8L357 358.1L359.8 354.3L358.2 353ZM362.5 350.5L364 351.8L366.7 348.1L365.2 346.7ZM369.5 344.3L371 345.7L373.7 341.9L372.2 340.5ZM458.5 373.7L460 378.1L462.8 376.6L461.3 372.1ZM461.3 372.1L462.8 376.6L465.5 375.2L464 370.5ZM443.6 386.8L445.1 390.2L447.8 388.9L446.3 385.3ZM446.3 385.3L447.8 388.9L450.6 387.6L449.1 383.9ZM423.2 406.2L424.7 408.5L427.4 406.6L425.9 404.2ZM399.8 420.4L401.3 421.8L404 419.9L402.5 418.3ZM402.5 418.3L404 419.9L406.8 417.9L405.3 416.3Z" fill="#83fffb" stroke="#83fffb" stroke-width="0.5"/>
<path d="M449.8 323.1L451.8 324.7L455.4 322L453.4 320.4ZM405.2 328.7L406.9 329.7L410 327.2L408.3 326.1ZM410 327.2L411.7 328.4L414.8 326L413.1 324.8ZM414.8 326L416.6 327.1L419.7 324.8L418 323.6ZM421.4 326L423.1 327.3L426.2 325L424.5 323.7ZM455.4 322L456.9 323.9L459.7 321.9L458.2 319.9ZM456.9 323.9L458.4 325.9L461.2 323.8L459.7 321.9ZM462.7 325.7L464.2 327.7L466.9 325.5L465.4 323.6ZM468.4 327.4L469.9 329.3L472.7 327L471.2 325.1ZM469.9 329.3L471.4 331.2L474.2 328.9L472.7 327ZM370.7 339L372.7 340.9L376.4 338.4L374.4 336.5ZM385.6 335.1L387.6 337L391.3 334.4L389.3 332.6ZM432.8 325L434.3 326.3L437 324.2L435.5 323ZM472.9 333.1L474.4 338.4L477.2 336.2L475.7 330.7ZM473.2 345.9L474.7 351.1L477.4 349.1L475.9 343.7ZM471.9 353.1L473.4 358.2L476.2 356.3L474.7 351.1ZM466.7 368.7L468.2 373.5L471 371.8L469.5 366.9ZM340.8 363L342.8 364.6L346.4 359.4L344.4 357.7ZM393.1 333.1L394.6 334.2L397.4 332.2L395.9 331.2ZM397.4 332.2L398.9 333.2L401.6 330.9L400.1 330.1ZM345.5 360.7L347 362L349.8 358.1L348.3 356.8ZM349.8 358.1L351.3 359.4L354 355.5L352.5 354.2ZM356.8 351.6L358.2 353L361 349.1L359.5 347.8ZM363.7 345.3L365.2 346.7L368 342.9L366.5 341.4ZM368 342.9L369.5 344.3L372.2 340.5L370.7 339ZM457.3 379.5L458.8 383.7L461.5 382.4L460 378.1ZM460 378.1L461.5 382.4L464.3 381.1L462.8 376.6ZM462.8 376.6L464.3 381.1L467 379.8L465.5 375.2ZM431.4 400.2L432.9 402.9L435.6 401.1L434.1 398.2ZM434.1 398.2L435.6 401.1L438.4 399.2L436.9 396.2ZM436.9 396.2L438.4 399.2L441.1 397.4L439.6 394.2ZM409.5 415.9L411 417.7L413.8 415.9L412.2 414ZM412.2 414L413.8 415.9L416.5 414L415 412Z" fill="#8bffef" stroke="#8bffef" stroke-width="0.5"/>
<path d="M405.5 333.2L407.2 334.2L410.3 331.8L408.6 330.8ZM410.3 331.8L412 332.9L415.1 330.6L413.4 329.5ZM448.7 330.2L450.2 332.3L453 330.2L451.5 328.1ZM454.5 332.2L456 334.3L458.7 332.1L457.2 330.1ZM460.2 334.1L461.7 336.1L464.4 333.8L462.9 331.9ZM465.9 335.8L467.4 337.8L470.2 335.4L468.7 333.5ZM418.8 330.3L420.3 331.8L423 329.8L421.5 328.4ZM428.8 330.5L430.3 331.8L433 329.7L431.5 328.4ZM433 329.7L434.5 331L437.3 328.8L435.8 327.5ZM438.8 330L440.3 331.3L443 329L441.5 327.8ZM461 361.2L462.5 365.9L465.2 363.9L463.7 359.2ZM379.4 342.8L380.9 344.7L383.7 342.6L382.2 340.9ZM386.4 340.5L387.9 342.1L390.6 339.8L389.1 338.4ZM397.6 336.5L399.1 337.7L401.9 335.2L400.4 334.2ZM401.9 335.2L403.4 336.2L406.1 333.5L404.6 332.7ZM347.3 368.3L348.8 369.6L351.5 365.8L350 364.5ZM354.3 361.9L355.8 363.2L358.5 359.4L357 358.1ZM361.2 355.6L362.8 357L365.5 353.2L364 351.8ZM365.5 353.2L367 354.6L369.7 350.8L368.2 349.4ZM368.2 349.4L369.7 350.8L372.5 347.1L371 345.7ZM457 369.4L458.5 373.7L461.3 372.1L459.8 367.6ZM444.8 381.7L446.3 385.3L449.1 383.9L447.6 380.1ZM447.6 380.1L449.1 383.9L451.8 382.4L450.3 378.5ZM421.7 403.8L423.2 406.2L425.9 404.2L424.4 401.7ZM424.4 401.7L425.9 404.2L428.7 402.2L427.2 399.6ZM419 405.9L420.5 408.1L423.2 406.2L421.7 403.8Z" fill="#73f2ff" stroke="#73f2ff" stroke-width="0.5"/>
<path d="M407.2 334.2L408.9 335.1L412 332.9L410.3 331.8ZM412 332.9L413.7 333.9L416.9 331.7L415.1 330.6ZM444.5 330.1L446 332.3L448.7 330.2L447.2 328.1ZM450.2 332.3L451.7 334.4L454.5 332.2L453 330.2ZM456 334.3L457.5 336.3L460.2 334.1L458.7 332.1ZM461.7 336.1L463.2 338.1L465.9 335.8L464.4 333.8ZM416.1 332.3L417.6 333.8L420.3 331.8L418.8 330.3ZM420.3 331.8L421.8 333.2L424.5 331.2L423 329.8ZM424.5 331.2L426 332.6L428.8 330.5L427.3 329.1ZM434.5 331L436 332.3L438.8 330L437.3 328.8ZM464.7 340.1L466.2 345.1L468.9 342.9L467.4 337.8ZM463.5 347.4L465 352.3L467.7 350.1L466.2 345.1ZM462.2 354.4L463.7 359.2L466.5 357.2L465 352.3ZM383.7 342.6L385.2 344.3L387.9 342.1L386.4 340.5ZM390.6 339.8L392.1 341.3L394.9 338.9L393.4 337.6ZM394.9 338.9L396.4 340.2L399.1 337.7L397.6 336.5ZM351.5 365.8L353 367L355.8 363.2L354.3 361.9ZM355.8 363.2L357.3 364.5L360 360.7L358.5 359.4ZM358.5 359.4L360 360.7L362.8 357L361.2 355.6ZM362.8 357L364.2 358.3L367 354.6L365.5 353.2ZM369.7 350.8L371.2 352.2L374 348.5L372.5 347.1ZM372.5 347.1L374 348.5L376.7 344.7L375.2 343.3ZM451.5 372.9L453 376.9L455.8 375.3L454.3 371.1ZM454.3 371.1L455.8 375.3L458.5 373.7L457 369.4ZM442.1 383.3L443.6 386.8L446.3 385.3L444.8 381.7ZM439.4 385.6L440.9 388.9L443.6 386.8L442.1 383.3ZM398.3 419L399.8 420.4L402.5 418.3L401 416.8ZM401 416.8L402.5 418.3L405.3 416.3L403.8 414.6Z" fill="#6eebff" stroke="#6eebff" stroke-width="0.5"/>
<path d="M408.9 335.1L410.6 336.1L413.7 333.9L412 332.9ZM447.5 334.4L449 336.5L451.7 334.4L450.2 332.3ZM453.2 336.5L454.7 338.6L457.5 336.3L456 334.3ZM459 338.4L460.5 340.4L463.2 338.1L461.7 336.1ZM413.3 334.2L414.8 335.8L417.6 333.8L416.1 332.3ZM417.6 333.8L419.1 335.3L421.8 333.2L420.3 331.8ZM421.8 333.2L423.3 334.7L426 332.6L424.5 331.2ZM431.8 333.2L433.3 334.5L436 332.3L434.5 331ZM436 332.3L437.5 333.6L440.3 331.3L438.8 330ZM462 342.5L463.5 347.4L466.2 345.1L464.7 340.1ZM460.7 349.6L462.2 354.4L465 352.3L463.5 347.4ZM459.5 356.5L461 361.2L463.7 359.2L462.2 354.4ZM380.9 344.7L382.4 346.5L385.2 344.3L383.7 342.6ZM385.2 344.3L386.7 346L389.4 343.6L387.9 342.1ZM392.1 341.3L393.6 342.7L396.4 340.2L394.9 338.9ZM396.4 340.2L397.9 341.5L400.6 338.8L399.1 337.7ZM400.6 338.8L402.1 340L404.9 337.2L403.4 336.2ZM404.9 337.2L406.4 338.2L409.1 335.3L407.6 334.4ZM441.8 332.5L443.3 334.6L446 332.3L444.5 330.1ZM350.3 370.8L351.8 372.1L354.5 368.3L353 367ZM357.3 364.5L358.8 365.8L361.5 362.1L360 360.7ZM364.2 358.3L365.8 359.6L368.5 355.9L367 354.6ZM452.8 366.9L454.3 371.1L457 369.4L455.5 365ZM446.1 376.4L447.6 380.1L450.3 378.5L448.8 374.6ZM370.4 353.3L372.2 355.5L375.3 351.2L373.6 349ZM373.6 349L375.3 351.2L378.4 347L376.7 344.7ZM420.2 401.5L421.7 403.8L424.4 401.7L422.9 399.3ZM422.9 399.3L424.4 401.7L427.2 399.6L425.7 397ZM425.7 397L427.2 399.6L429.9 397.4L428.4 394.7ZM412 408.1L413.5 410L416.2 408L414.7 405.9ZM414.7 405.9L416.2 408L419 405.9L417.5 403.7ZM417.5 403.7L419 405.9L421.7 403.8L420.2 401.5Z" fill="#65ddff" stroke="#65ddff" stroke-width="0.5"/>
<path d="M446 332.3L447.5 334.4L450.2 332.3L448.7 330.2ZM451.7 334.4L453.2 336.5L456 334.3L454.5 332.2ZM457.5 336.3L459 338.4L461.7 336.1L460.2 334.1ZM463.2 338.1L464.7 340.1L467.4 337.8L465.9 335.8ZM426 332.6L427.5 334L430.3 331.8L428.8 330.5ZM430.3 331.8L431.8 333.2L434.5 331L433 329.7ZM440.3 331.3L441.8 332.5L444.5 330.1L443 329ZM376.7 344.7L378.2 346.7L380.9 344.7L379.4 342.8ZM387.9 342.1L389.4 343.6L392.1 341.3L390.6 339.8ZM399.1 337.7L400.6 338.8L403.4 336.2L401.9 335.2ZM403.4 336.2L404.9 337.2L407.6 334.4L406.1 333.5ZM348.8 369.6L350.3 370.8L353 367L351.5 365.8ZM353 367L354.5 368.3L357.3 364.5L355.8 363.2ZM360 360.7L361.5 362.1L364.2 358.3L362.8 357ZM367 354.6L368.5 355.9L371.2 352.2L369.7 350.8ZM455.5 365L457 369.4L459.8 367.6L458.3 363.1ZM458.3 363.1L459.8 367.6L462.5 365.9L461 361.2ZM448.8 374.6L450.3 378.5L453 376.9L451.5 372.9ZM428.4 394.7L429.9 397.4L432.6 395.3L431.1 392.4ZM431.1 392.4L432.6 395.3L435.4 393.2L433.9 390.1ZM433.9 390.1L435.4 393.2L438.1 391L436.6 387.9ZM436.6 387.9L438.1 391L440.9 388.9L439.4 385.6ZM403.8 414.6L405.3 416.3L408 414.2L406.5 412.4ZM406.5 412.4L408 414.2L410.8 412.1L409.2 410.2ZM409.2 410.2L410.8 412.1L413.5 410L412 408.1Z" fill="#69e4ff" stroke="#69e4ff" stroke-width="0.5"/>
<path d="M449 336.5L450.5 338.7L453.2 336.5L451.7 334.4ZM454.7 338.6L456.2 340.7L459 338.4L457.5 336.3ZM460.5 340.4L462 342.5L464.7 340.1L463.2 338.1ZM423.3 334.7L424.8 336.1L427.5 334L426 332.6ZM427.5 334L429 335.4L431.8 333.2L430.3 331.8ZM437.5 333.6L439 334.9L441.8 332.5L440.3 331.3ZM378.2 346.7L379.7 348.7L382.4 346.5L380.9 344.7ZM389.4 343.6L390.9 345.2L393.6 342.7L392.1 341.3ZM393.6 342.7L395.1 344.1L397.9 341.5L396.4 340.2ZM443.3 334.6L444.8 336.8L447.5 334.4L446 332.3ZM354.5 368.3L356 369.6L358.8 365.8L357.3 364.5ZM358.8 365.8L360.3 367.1L363 363.4L361.5 362.1ZM361.5 362.1L363 363.4L365.8 359.6L364.2 358.3ZM456.8 358.6L458.3 363.1L461 361.2L459.5 356.5ZM450 368.8L451.5 372.9L454.3 371.1L452.8 366.9ZM440.6 379.9L442.1 383.3L444.8 381.7L443.3 378.1ZM443.3 378.1L444.8 381.7L447.6 380.1L446.1 376.4ZM367.3 357.5L369 359.7L372.2 355.5L370.4 353.3Z" fill="#60d6ff" stroke="#60d6ff" stroke-width="0.5"/>
<path d="M450.5 338.7L452 340.8L454.7 338.6L453.2 336.5ZM456.2 340.7L457.7 342.8L460.5 340.4L459 338.4ZM410.6 336.1L412.1 337.8L414.8 335.8L413.3 334.2ZM414.8 335.8L416.3 337.3L419.1 335.3L417.6 333.8ZM419.1 335.3L420.6 336.8L423.3 334.7L421.8 333.2ZM433.3 334.5L434.8 335.9L437.5 333.6L436 332.3ZM459.2 344.8L460.7 349.6L463.5 347.4L462 342.5ZM458 351.9L459.5 356.5L462.2 354.4L460.7 349.6ZM382.4 346.5L383.9 348.4L386.7 346L385.2 344.3ZM386.7 346L388.2 347.7L390.9 345.2L389.4 343.6ZM397.9 341.5L399.4 342.8L402.1 340L400.6 338.8ZM402.1 340L403.6 341.1L406.4 338.2L404.9 337.2ZM406.4 338.2L407.9 339.2L410.6 336.1L409.1 335.3ZM439 334.9L440.5 337L443.3 334.6L441.8 332.5ZM444.8 336.8L446.3 338.9L449 336.5L447.5 334.4ZM446.3 338.9L447.8 341L450.5 338.7L449 336.5ZM351.8 372.1L353.3 373.3L356 369.6L354.5 368.3ZM356 369.6L357.5 370.8L360.3 367.1L358.8 365.8ZM454 360.6L455.5 365L458.3 363.1L456.8 358.6ZM447.3 370.7L448.8 374.6L451.5 372.9L450 368.8ZM364.2 361.8L365.9 363.9L369 359.7L367.3 357.5ZM375.3 351.2L377 353.5L380.1 349.3L378.4 347ZM432.4 387.1L433.9 390.1L436.6 387.9L435.1 384.7ZM435.1 384.7L436.6 387.9L439.4 385.6L437.9 382.3ZM437.9 382.3L439.4 385.6L442.1 383.3L440.6 379.9ZM396.8 417.5L398.3 419L401 416.8L399.5 415.2ZM399.5 415.2L401 416.8L403.8 414.6L402.3 413ZM402.3 413L403.8 414.6L406.5 412.4L405 410.7Z" fill="#5bceff" stroke="#5bceff" stroke-width="0.5"/>
<path d="M452 340.8L453.5 342.9L456.2 340.7L454.7 338.6ZM457.7 342.8L459.2 344.8L462 342.5L460.5 340.4ZM424.8 336.1L426.3 337.6L429 335.4L427.5 334ZM429 335.4L430.5 336.8L433.3 334.5L431.8 333.2ZM434.8 335.9L436.3 337.2L439 334.9L437.5 333.6ZM379.7 348.7L381.2 350.7L383.9 348.4L382.4 346.5ZM390.9 345.2L392.4 346.8L395.1 344.1L393.6 342.7ZM395.1 344.1L396.6 345.5L399.4 342.8L397.9 341.5ZM440.5 337L442 339.1L444.8 336.8L443.3 334.6ZM447.8 341L449.3 343.2L452 340.8L450.5 338.7ZM353.3 373.3L354.8 374.5L357.5 370.8L356 369.6ZM455.3 354.1L456.8 358.6L459.5 356.5L458 351.9ZM451.3 362.7L452.8 366.9L455.5 365L454 360.6ZM444.6 372.6L446.1 376.4L448.8 374.6L447.3 370.7ZM361.1 366L362.8 368.1L365.9 363.9L364.2 361.8ZM369 359.7L370.7 361.9L373.9 357.7L372.2 355.5ZM372.2 355.5L373.9 357.7L377 353.5L375.3 351.2ZM421.4 396.8L422.9 399.3L425.7 397L424.2 394.4ZM424.2 394.4L425.7 397L428.4 394.7L426.9 392ZM426.9 392L428.4 394.7L431.1 392.4L429.6 389.5ZM429.6 389.5L431.1 392.4L433.9 390.1L432.4 387.1ZM405 410.7L406.5 412.4L409.2 410.2L407.8 408.4ZM407.8 408.4L409.2 410.2L412 408.1L410.5 406.1ZM410.5 406.1L412 408.1L414.7 405.9L413.2 403.8ZM413.2 403.8L414.7 405.9L417.5 403.7L416 401.5Z" fill="#56c6ff" stroke="#56c6ff" stroke-width="0.5"/>
<path d="M453.5 342.9L455 345.1L457.7 342.8L456.2 340.7ZM412.1 337.8L413.6 339.4L416.3 337.3L414.8 335.8ZM416.3 337.3L417.8 338.9L420.6 336.8L419.1 335.3ZM420.6 336.8L422.1 338.3L424.8 336.1L423.3 334.7ZM430.5 336.8L432 338.2L434.8 335.9L433.3 334.5ZM456.5 347.2L458 351.9L460.7 349.6L459.2 344.8ZM383.9 348.4L385.4 350.2L388.2 347.7L386.7 346ZM388.2 347.7L389.7 349.4L392.4 346.8L390.9 345.2ZM399.4 342.8L400.9 344.1L403.6 341.1L402.1 340ZM403.6 341.1L405.1 342.3L407.9 339.2L406.4 338.2ZM436.3 337.2L437.8 339.4L440.5 337L439 334.9ZM442 339.1L443.5 341.3L446.3 338.9L444.8 336.8ZM443.5 341.3L445 343.4L447.8 341L446.3 338.9ZM449.3 343.2L450.8 345.3L453.5 342.9L452 340.8ZM407.5 339.6L409.2 341.5L412.3 338L410.6 336.1ZM452.5 356.3L454 360.6L456.8 358.6L455.3 354.1ZM448.5 364.7L450 368.8L452.8 366.9L451.3 362.7ZM441.8 374.5L443.3 378.1L446.1 376.4L444.6 372.6ZM354.8 374.5L356.5 376.6L359.6 372.4L357.9 370.3ZM357.9 370.3L359.6 372.4L362.8 368.1L361.1 366ZM365.9 363.9L367.6 366.1L370.7 361.9L369 359.7ZM418.7 399.2L420.2 401.5L422.9 399.3L421.4 396.8ZM416 401.5L417.5 403.7L420.2 401.5L418.7 399.2Z" fill="#51bdff" stroke="#51bdff" stroke-width="0.5"/>
<path d="M455 345.1L456.5 347.2L459.2 344.8L457.7 342.8ZM422.1 338.3L423.6 339.8L426.3 337.6L424.8 336.1ZM426.3 337.6L427.8 339.1L430.5 336.8L429 335.4ZM381.2 350.7L382.7 352.7L385.4 350.2L383.9 348.4ZM392.4 346.8L393.9 348.3L396.6 345.5L395.1 344.1ZM396.6 345.5L398.1 347L400.9 344.1L399.4 342.8ZM400.9 344.1L402.4 345.3L405.1 342.3L403.6 341.1ZM437.8 339.4L439.3 341.5L442 339.1L440.5 337ZM445 343.4L446.5 345.5L449.3 343.2L447.8 341ZM450.8 345.3L452.3 347.4L455 345.1L453.5 342.9ZM445.8 366.8L447.3 370.7L450 368.8L448.5 364.7ZM439.1 376.4L440.6 379.9L443.3 378.1L441.8 374.5ZM359.6 372.4L361.4 374.5L364.5 370.3L362.8 368.1ZM362.8 368.1L364.5 370.3L367.6 366.1L365.9 363.9ZM373.9 357.7L375.6 359.9L378.7 355.7L377 353.5ZM377 353.5L378.7 355.7L381.8 351.6L380.1 349.3ZM436.4 379L437.9 382.3L440.6 379.9L439.1 376.4Z" fill="#4cb4ff" stroke="#4cb4ff" stroke-width="0.5"/>
<path d="M413.6 339.4L415.1 341L417.8 338.9L416.3 337.3ZM417.8 338.9L419.3 340.4L422.1 338.3L420.6 336.8ZM427.8 339.1L429.3 340.5L432 338.2L430.5 336.8ZM432 338.2L433.5 339.6L436.3 337.2L434.8 335.9ZM385.4 350.2L386.9 352.1L389.7 349.4L388.2 347.7ZM389.7 349.4L391.2 351.1L393.9 348.3L392.4 346.8ZM439.3 341.5L440.8 343.6L443.5 341.3L442 339.1ZM440.8 343.6L442.3 345.8L445 343.4L443.5 341.3ZM446.5 345.5L448 347.7L450.8 345.3L449.3 343.2ZM452.3 347.4L453.8 349.6L456.5 347.2L455 345.1ZM404.3 343.1L406.1 345L409.2 341.5L407.5 339.6ZM409.2 341.5L410.9 343.4L414 339.8L412.3 338ZM453.8 349.6L455.3 354.1L458 351.9L456.5 347.2ZM449.8 358.5L451.3 362.7L454 360.6L452.5 356.3ZM443.1 368.8L444.6 372.6L447.3 370.7L445.8 366.8ZM356.5 376.6L358.2 378.7L361.4 374.5L359.6 372.4ZM364.5 370.3L366.2 372.4L369.3 368.2L367.6 366.1ZM367.6 366.1L369.3 368.2L372.5 364.1L370.7 361.9ZM370.7 361.9L372.5 364.1L375.6 359.9L373.9 357.7ZM425.4 389.2L426.9 392L429.6 389.5L428.1 386.7ZM428.1 386.7L429.6 389.5L432.4 387.1L430.9 384.1ZM430.9 384.1L432.4 387.1L435.1 384.7L433.6 381.5ZM433.6 381.5L435.1 384.7L437.9 382.3L436.4 379ZM395.3 416.1L396.8 417.5L399.5 415.2L398 413.7ZM398 413.7L399.5 415.2L402.3 413L400.8 411.3ZM400.8 411.3L402.3 413L405 410.7L403.5 408.9ZM403.5 408.9L405 410.7L407.8 408.4L406.2 406.5ZM406.2 406.5L407.8 408.4L410.5 406.1L409 404.1Z" fill="#47aaff" stroke="#47aaff" stroke-width="0.5"/>
<path d="M415.1 341L416.6 342.6L419.3 340.4L417.8 338.9ZM429.3 340.5L430.8 342L433.5 339.6L432 338.2ZM386.9 352.1L388.4 353.9L391.2 351.1L389.7 349.4ZM436.5 343.9L438 346L440.8 343.6L439.3 341.5ZM438 346L439.5 348.1L442.3 345.8L440.8 343.6ZM443.8 347.9L445.3 350L448 347.7L446.5 345.5ZM449.5 349.8L451 351.9L453.8 349.6L452.3 347.4ZM401.2 346.7L402.9 348.5L406.1 345L404.3 343.1ZM406.1 345L407.8 346.9L410.9 343.4L409.2 341.5ZM410.9 343.4L412.6 345.2L415.7 341.7L414 339.8ZM448.3 354.3L449.8 358.5L452.5 356.3L451 351.9ZM444.3 362.9L445.8 366.8L448.5 364.7L447 360.7ZM437.6 372.9L439.1 376.4L441.8 374.5L440.3 370.9ZM366.2 372.4L367.9 374.5L371 370.4L369.3 368.2ZM369.3 368.2L371 370.4L374.2 366.3L372.5 364.1ZM372.5 364.1L374.2 366.3L377.3 362.1L375.6 359.9Z" fill="#3c96ff" stroke="#3c96ff" stroke-width="0.5"/>
<path d="M416.6 342.6L418.1 344.2L420.8 342L419.3 340.4ZM420.8 342L422.3 343.6L425.1 341.3L423.6 339.8ZM425.1 341.3L426.6 342.8L429.3 340.5L427.8 339.1ZM391.2 351.1L392.7 352.8L395.4 349.9L393.9 348.3ZM395.4 349.9L396.9 351.5L399.6 348.4L398.1 347ZM430.8 342L432.3 344.1L435 341.7L433.5 339.6ZM432.3 344.1L433.8 346.2L436.5 343.9L435 341.7ZM439.5 348.1L441 350.2L443.8 347.9L442.3 345.8ZM445.3 350L446.8 352.1L449.5 349.8L448 347.7ZM446.8 352.1L448.3 354.3L451 351.9L449.5 349.8ZM402.9 348.5L404.6 350.4L407.8 346.9L406.1 345ZM441.6 365.1L443.1 368.8L445.8 366.8L444.3 362.9ZM359.9 380.7L361.7 382.8L364.8 378.7L363.1 376.6ZM363.1 376.6L364.8 378.7L367.9 374.5L366.2 372.4ZM429.4 381.1L430.9 384.1L433.6 381.5L432.1 378.4ZM432.1 378.4L433.6 381.5L436.4 379L434.9 375.7ZM434.9 375.7L436.4 379L439.1 376.4L437.6 372.9ZM393.8 414.7L395.3 416.1L398 413.7L396.5 412.2Z" fill="#358aff" stroke="#358aff" stroke-width="0.5"/>
<path d="M419.3 340.4L420.8 342L423.6 339.8L422.1 338.3ZM423.6 339.8L425.1 341.3L427.8 339.1L426.3 337.6ZM382.7 352.7L384.2 354.7L386.9 352.1L385.4 350.2ZM393.9 348.3L395.4 349.9L398.1 347L396.6 345.5ZM398.1 347L399.6 348.4L402.4 345.3L400.9 344.1ZM433.5 339.6L435 341.7L437.8 339.4L436.3 337.2ZM435 341.7L436.5 343.9L439.3 341.5L437.8 339.4ZM442.3 345.8L443.8 347.9L446.5 345.5L445 343.4ZM448 347.7L449.5 349.8L452.3 347.4L450.8 345.3ZM451 351.9L452.5 356.3L455.3 354.1L453.8 349.6ZM447 360.7L448.5 364.7L451.3 362.7L449.8 358.5ZM440.3 370.9L441.8 374.5L444.6 372.6L443.1 368.8ZM358.2 378.7L359.9 380.7L363.1 376.6L361.4 374.5ZM361.4 374.5L363.1 376.6L366.2 372.4L364.5 370.3ZM375.6 359.9L377.3 362.1L380.4 358L378.7 355.7ZM378.7 355.7L380.4 358L383.6 353.9L381.8 351.6ZM417.2 396.9L418.7 399.2L421.4 396.8L419.9 394.3ZM419.9 394.3L421.4 396.8L424.2 394.4L422.7 391.8ZM422.7 391.8L424.2 394.4L426.9 392L425.4 389.2ZM409 404.1L410.5 406.1L413.2 403.8L411.7 401.7ZM411.7 401.7L413.2 403.8L416 401.5L414.5 399.3ZM414.5 399.3L416 401.5L418.7 399.2L417.2 396.9Z" fill="#42a1ff" stroke="#42a1ff" stroke-width="0.5"/>
<path d="M418.1 344.2L419.6 345.8L422.3 343.6L420.8 342ZM422.3 343.6L423.8 345.1L426.6 342.8L425.1 341.3ZM392.7 352.8L394.2 354.5L396.9 351.5L395.4 349.9ZM428.1 344.3L429.6 346.5L432.3 344.1L430.8 342ZM436.8 350.5L438.3 352.6L441 350.2L439.5 348.1ZM438.3 352.6L439.8 354.7L442.5 352.4L441 350.2ZM444 354.5L445.5 356.6L448.3 354.3L446.8 352.1ZM399.8 352.1L401.5 354L404.6 350.4L402.9 348.5ZM404.6 350.4L406.4 352.3L409.5 348.8L407.8 346.9ZM409.5 348.8L411.2 350.7L414.3 347.1L412.6 345.2ZM442.8 359L444.3 362.9L447 360.7L445.5 356.6ZM438.8 367.3L440.3 370.9L443.1 368.8L441.6 365.1Z" fill="#2871ff" stroke="#2871ff" stroke-width="0.5"/>
<path d="M419.6 345.8L421.1 347.4L423.8 345.1L422.3 343.6ZM423.8 345.1L425.3 346.7L428.1 344.3L426.6 342.8ZM434.1 352.8L435.6 355L438.3 352.6L436.8 350.5ZM435.6 355L437.1 357.1L439.8 354.7L438.3 352.6ZM391.8 357.2L393.5 359.1L396.7 355.6L395 353.7ZM396.7 355.6L398.4 357.5L401.5 354L399.8 352.1ZM406.4 352.3L408.1 354.2L411.2 350.7L409.5 348.8ZM411.2 350.7L412.9 352.5L416 349L414.3 347.1ZM440.1 361.3L441.6 365.1L444.3 362.9L442.8 359ZM365.1 386.9L366.8 389L369.9 384.9L368.2 382.8ZM422.4 383.7L423.9 386.5L426.6 383.8L425.1 380.9ZM425.1 380.9L426.6 383.8L429.4 381.1L427.9 378ZM427.9 378L429.4 381.1L432.1 378.4L430.6 375.2ZM430.6 375.2L432.1 378.4L434.9 375.7L433.4 372.3ZM433.4 372.3L434.9 375.7L437.6 372.9L436.1 369.5ZM392.3 413.3L393.8 414.7L396.5 412.2L395 410.6ZM395 410.6L396.5 412.2L399.3 409.7L397.8 408ZM397.8 408L399.3 409.7L402 407.2L400.5 405.4Z" fill="#1e58ff" stroke="#1e58ff" stroke-width="0.5"/>
<path d="M421.1 347.4L422.6 349.1L425.3 346.7L423.8 345.1ZM431.3 355.2L432.8 357.3L435.6 355L434.1 352.8ZM432.8 357.3L434.3 359.4L437.1 357.1L435.6 355ZM434.3 359.4L435.8 361.6L438.6 359.2L437.1 357.1ZM388.7 360.7L390.4 362.6L393.5 359.1L391.8 357.2ZM395.3 361L397 363L400.1 359.4L398.4 357.5ZM400.1 359.4L401.8 361.4L404.9 357.8L403.2 355.9ZM404.9 357.8L406.7 359.7L409.8 356.1L408.1 354.2ZM412.9 352.5L414.6 354.4L417.8 350.8L416 349ZM434.6 366L436.1 369.5L438.8 367.3L437.3 363.7ZM383.9 362.5L385.6 364.7L388.7 360.7L387 358.4ZM366.8 389L370.8 392L378.1 383.1L374.1 379.5Z" fill="#1640ff" stroke="#1640ff" stroke-width="0.5"/>
<path d="M426.6 342.8L428.1 344.3L430.8 342L429.3 340.5ZM384.2 354.7L385.7 356.7L388.4 353.9L386.9 352.1ZM388.4 353.9L389.9 355.8L392.7 352.8L391.2 351.1ZM433.8 346.2L435.3 348.3L438 346L436.5 343.9ZM435.3 348.3L436.8 350.5L439.5 348.1L438 346ZM441 350.2L442.5 352.4L445.3 350L443.8 347.9ZM442.5 352.4L444 354.5L446.8 352.1L445.3 350ZM398.1 350.2L399.8 352.1L402.9 348.5L401.2 346.7ZM407.8 346.9L409.5 348.8L412.6 345.2L410.9 343.4ZM412.6 345.2L414.3 347.1L417.5 343.5L415.7 341.7ZM445.5 356.6L447 360.7L449.8 358.5L448.3 354.3ZM361.7 382.8L363.4 384.8L366.5 380.7L364.8 378.7ZM364.8 378.7L366.5 380.7L369.6 376.6L367.9 374.5ZM367.9 374.5L369.6 376.6L372.8 372.5L371 370.4ZM371 370.4L372.8 372.5L375.9 368.4L374.2 366.3ZM374.2 366.3L375.9 368.4L379 364.3L377.3 362.1ZM377.3 362.1L379 364.3L382.1 360.2L380.4 358ZM380.4 358L382.1 360.2L385.3 356.1L383.6 353.9ZM415.7 394.6L417.2 396.9L419.9 394.3L418.4 391.9ZM418.4 391.9L419.9 394.3L422.7 391.8L421.2 389.2ZM421.2 389.2L422.7 391.8L425.4 389.2L423.9 386.5ZM423.9 386.5L425.4 389.2L428.1 386.7L426.6 383.8ZM426.6 383.8L428.1 386.7L430.9 384.1L429.4 381.1ZM396.5 412.2L398 413.7L400.8 411.3L399.3 409.7ZM399.3 409.7L400.8 411.3L403.5 408.9L402 407.2ZM402 407.2L403.5 408.9L406.2 406.5L404.8 404.6ZM404.8 404.6L406.2 406.5L409 404.1L407.5 402.1ZM407.5 402.1L409 404.1L411.7 401.7L410.2 399.6ZM410.2 399.6L411.7 401.7L414.5 399.3L413 397.1ZM413 397.1L414.5 399.3L417.2 396.9L415.7 394.6Z" fill="#2e7eff" stroke="#2e7eff" stroke-width="0.5"/>
<path d="M385.7 356.7L387.2 358.7L389.9 355.8L388.4 353.9ZM389.9 355.8L391.4 357.6L394.2 354.5L392.7 352.8ZM429.6 346.5L431.1 348.6L433.8 346.2L432.3 344.1ZM431.1 348.6L432.6 350.7L435.3 348.3L433.8 346.2ZM432.6 350.7L434.1 352.8L436.8 350.5L435.3 348.3ZM439.8 354.7L441.3 356.9L444 354.5L442.5 352.4ZM441.3 356.9L442.8 359L445.5 356.6L444 354.5ZM395 353.7L396.7 355.6L399.8 352.1L398.1 350.2ZM401.5 354L403.2 355.9L406.4 352.3L404.6 350.4ZM414.3 347.1L416 349L419.2 345.4L417.5 343.5ZM436.1 369.5L437.6 372.9L440.3 370.9L438.8 367.3ZM363.4 384.8L365.1 386.9L368.2 382.8L366.5 380.7ZM366.5 380.7L368.2 382.8L371.3 378.8L369.6 376.6ZM369.6 376.6L371.3 378.8L374.5 374.7L372.8 372.5ZM372.8 372.5L374.5 374.7L377.6 370.6L375.9 368.4ZM375.9 368.4L377.6 370.6L380.7 366.5L379 364.3ZM379 364.3L380.7 366.5L383.9 362.5L382.1 360.2ZM382.1 360.2L383.9 362.5L387 358.4L385.3 356.1Z" fill="#2164ff" stroke="#2164ff" stroke-width="0.5"/>
<path d="M387.2 358.7L388.7 360.7L391.4 357.6L389.9 355.8ZM425.3 346.7L426.8 348.8L429.6 346.5L428.1 344.3ZM426.8 348.8L428.3 350.9L431.1 348.6L429.6 346.5ZM428.3 350.9L429.8 353.1L432.6 350.7L431.1 348.6ZM429.8 353.1L431.3 355.2L434.1 352.8L432.6 350.7ZM437.1 357.1L438.6 359.2L441.3 356.9L439.8 354.7ZM438.6 359.2L440.1 361.3L442.8 359L441.3 356.9ZM393.5 359.1L395.3 361L398.4 357.5L396.7 355.6ZM398.4 357.5L400.1 359.4L403.2 355.9L401.5 354ZM403.2 355.9L404.9 357.8L408.1 354.2L406.4 352.3ZM408.1 354.2L409.8 356.1L412.9 352.5L411.2 350.7ZM416 349L417.8 350.8L420.9 347.2L419.2 345.4ZM437.3 363.7L438.8 367.3L441.6 365.1L440.1 361.3ZM368.2 382.8L369.9 384.9L373.1 380.9L371.3 378.8ZM371.3 378.8L373.1 380.9L376.2 376.8L374.5 374.7ZM374.5 374.7L376.2 376.8L379.3 372.8L377.6 370.6ZM377.6 370.6L379.3 372.8L382.4 368.8L380.7 366.5ZM380.7 366.5L382.4 368.8L385.6 364.7L383.9 362.5ZM414.2 392.3L415.7 394.6L418.4 391.9L416.9 389.4ZM416.9 389.4L418.4 391.9L421.2 389.2L419.7 386.6ZM419.7 386.6L421.2 389.2L423.9 386.5L422.4 383.7ZM400.5 405.4L402 407.2L404.8 404.6L403.2 402.8ZM403.2 402.8L404.8 404.6L407.5 402.1L406 400.2ZM406 400.2L407.5 402.1L410.2 399.6L408.7 397.5ZM408.7 397.5L410.2 399.6L413 397.1L411.5 394.9ZM411.5 394.9L413 397.1L415.7 394.6L414.2 392.3Z" fill="#1a4cff" stroke="#1a4cff" stroke-width="0.5"/>
<path d="M422.6 349.1L424.1 351.2L426.8 348.8L425.3 346.7ZM424.1 351.2L425.6 353.3L428.3 350.9L426.8 348.8ZM425.6 353.3L427.1 355.4L429.8 353.1L428.3 350.9ZM427.1 355.4L428.6 357.6L431.3 355.2L429.8 353.1ZM435.8 361.6L437.3 363.7L440.1 361.3L438.6 359.2ZM390.4 362.6L392.1 364.6L395.3 361L393.5 359.1ZM397 363L398.7 364.9L401.8 361.4L400.1 359.4ZM401.8 361.4L403.5 363.3L406.7 359.7L404.9 357.8ZM406.7 359.7L408.4 361.6L411.5 358L409.8 356.1ZM409.8 356.1L411.5 358L414.6 354.4L412.9 352.5ZM417.8 350.8L419.5 352.7L422.6 349.1L420.9 347.2ZM374.1 379.5L378.1 383.1L385.4 374.2L381.4 370.1ZM381.4 370.1L385.4 374.2L392.7 365.2L388.7 360.7ZM429.1 372L430.6 375.2L433.4 372.3L431.9 369ZM431.9 369L433.4 372.3L436.1 369.5L434.6 366Z" fill="#1334ff" stroke="#1334ff" stroke-width="0.5"/>
<path d="M428.6 357.6L430.1 359.7L432.8 357.3L431.3 355.2ZM430.1 359.7L431.6 361.8L434.3 359.4L432.8 357.3ZM431.6 361.8L433.1 363.9L435.8 361.6L434.3 359.4ZM433.1 363.9L434.6 366L437.3 363.7L435.8 361.6ZM392.1 364.6L393.8 366.5L397 363L395.3 361ZM393.8 366.5L395.6 368.5L398.7 364.9L397 363ZM398.7 364.9L400.4 366.9L403.5 363.3L401.8 361.4ZM403.5 363.3L405.2 365.2L408.4 361.6L406.7 359.7ZM411.5 358L413.2 359.9L416.3 356.3L414.6 354.4ZM414.6 354.4L416.3 356.3L419.5 352.7L417.8 350.8ZM370.8 392L374.8 395.1L382.1 386.7L378.1 383.1ZM378.1 383.1L382.1 386.7L389.4 378.2L385.4 374.2ZM412.7 390L414.2 392.3L416.9 389.4L415.4 387ZM415.4 387L416.9 389.4L419.7 386.6L418.2 384ZM418.2 384L419.7 386.6L422.4 383.7L420.9 381ZM420.9 381L422.4 383.7L425.1 380.9L423.6 378ZM423.6 378L425.1 380.9L427.9 378L426.4 375ZM426.4 375L427.9 378L430.6 375.2L429.1 372ZM390.8 411.8L392.3 413.3L395 410.6L393.5 409.1ZM393.5 409.1L395 410.6L397.8 408L396.3 406.4ZM396.3 406.4L397.8 408L400.5 405.4L399 403.6ZM399 403.6L400.5 405.4L403.2 402.8L401.8 400.9ZM401.8 400.9L403.2 402.8L406 400.2L404.5 398.2ZM404.5 398.2L406 400.2L408.7 397.5L407.2 395.4ZM407.2 395.4L408.7 397.5L411.5 394.9L410 392.7ZM410 392.7L411.5 394.9L414.2 392.3L412.7 390Z" fill="#0f27ff" stroke="#0f27ff" stroke-width="0.5"/>
<path d="M395.6 368.5L397.3 370.4L400.4 366.9L398.7 364.9ZM400.4 366.9L402.1 368.8L405.2 365.2L403.5 363.3ZM405.2 365.2L407 367.1L410.1 363.5L408.4 361.6ZM408.4 361.6L410.1 363.5L413.2 359.9L411.5 358ZM411.6 361.7L417.6 369.9L428.6 357.6L422.6 349.1ZM417.6 369.9L423.6 378L434.6 366L428.6 357.6ZM385.4 374.2L389.4 378.2L396.7 369.8L392.7 365.2ZM374.8 395.1L378.8 398.1L386.1 390.2L382.1 386.7Z" fill="#0f1eff" stroke="#0f1eff" stroke-width="0.5"/>
<path d="M397.3 370.4L399 372.4L402.1 368.8L400.4 366.9ZM399 372.4L400.7 374.4L403.8 370.7L402.1 368.8ZM402.1 368.8L403.8 370.7L407 367.1L405.2 365.2ZM400.7 374.4L406.7 382.2L417.6 369.9L411.6 361.7ZM406.7 382.2L412.7 390L423.6 378L417.6 369.9ZM382.1 386.7L386.1 390.2L393.4 382.3L389.4 378.2ZM389.4 378.2L393.4 382.3L400.7 374.4L396.7 369.8ZM378.8 398.1L384.8 405L395.8 393.6L389.8 386.2ZM384.8 405L390.8 411.8L401.8 400.9L395.8 393.6ZM395.8 393.6L401.8 400.9L412.7 390L406.7 382.2Z" fill="#0f14ff" stroke="#0f14ff" stroke-width="0.5"/>
<path d="M389.8 386.2L395.8 393.6L406.7 382.2L400.7 374.4Z" fill="#0f0ffa" stroke="#0f0ffa" stroke-width="0.5"/>
<path d="M294.8 332.2L316.7 304.6L338.6 287.8L360.5 277.5L382.4 267.2L404.3 252.4M306.8 341.6L328.7 314L350.6 297L372.5 283.7L394.4 272.9L416.3 255.6M318.8 347L340.7 316.8L362.6 300.9L384.5 289.9L406.4 278.5L428.3 264.1M330.8 354.7L352.7 323.6L374.6 310.9L396.5 296.8L418.4 285.2L440.3 266.5M342.8 364.6L364.7 333.3L386.6 318.5L408.5 301.5L430.4 289.3L452.3 276.4M354.8 374.5L376.7 344.7L398.6 329.2L420.5 310.7L442.4 292.4L464.3 278.8M366.8 389L388.7 360.7L410.6 336.1L432.5 320.6L454.4 304.6L476.3 289.5M378.8 398.1L400.7 374.4L422.6 349.1L444.5 330.1L466.4 313.8L488.3 295.7M390.8 411.8L412.7 390L434.6 366L456.5 347.2L478.4 328.4L500.3 308.6M402.8 423.2L424.7 408.5L446.6 393.7L468.5 384.5L490.4 372.9L512.3 361.5M294.8 332.2L306.8 341.6L318.8 347L330.8 354.7L342.8 364.6L354.8 374.5L366.8 389L378.8 398.1L390.8 411.8L402.8 423.2M316.7 304.6L328.7 314L340.7 316.8L352.7 323.6L364.7 333.3L376.7 344.7L388.7 360.7L400.7 374.4L412.7 390L424.7 408.5M338.6 287.8L350.6 297L362.6 300.9L374.6 310.9L386.6 318.5L398.6 329.2L410.6 336.1L422.6 349.1L434.6 366L446.6 393.7M360.5 277.5L372.5 283.7L384.5 289.9L396.5 296.8L408.5 301.5L420.5 310.7L432.5 320.6L444.5 330.1L456.5 347.2L468.5 384.5M382.4 267.2L394.4 272.9L406.4 278.5L418.4 285.2L430.4 289.3L442.4 292.4L454.4 304.6L466.4 313.8L478.4 328.4L490.4 372.9M404.3 252.4L416.3 255.6L428.3 264.1L440.3 266.5L452.3 276.4L464.3 278.8L476.3 289.5L488.3 295.7L500.3 308.6L512.3 361.5" stroke="#dadaea" stroke-width="1.25" fill="none" stroke-linejoin="round"/>
<path d="M294.8 332.2h0.01M316.7 304.6h0.01M338.6 287.8h0.01M360.5 277.5h0.01M382.4 267.2h0.01M404.3 252.4h0.01M306.8 341.6h0.01M328.7 314h0.01M350.6 297h0.01M372.5 283.7h0.01M394.4 272.9h0.01M416.3 255.6h0.01M318.8 347h0.01M340.7 316.8h0.01M362.6 300.9h0.01M384.5 289.9h0.01M406.4 278.5h0.01M428.3 264.1h0.01M330.8 354.7h0.01M352.7 323.6h0.01M374.6 310.9h0.01M396.5 296.8h0.01M418.4 285.2h0.01M440.3 266.5h0.01M342.8 364.6h0.01M364.7 333.3h0.01M386.6 318.5h0.01M408.5 301.5h0.01M430.4 289.3h0.01M452.3 276.4h0.01M354.8 374.5h0.01M376.7 344.7h0.01M398.6 329.2h0.01M420.5 310.7h0.01M442.4 292.4h0.01M464.3 278.8h0.01M366.8 389h0.01M388.7 360.7h0.01M410.6 336.1h0.01M432.5 320.6h0.01M454.4 304.6h0.01M476.3 289.5h0.01M378.8 398.1h0.01M400.7 374.4h0.01M422.6 349.1h0.01M444.5 330.1h0.01M466.4 313.8h0.01M488.3 295.7h0.01M390.8 411.8h0.01M412.7 390h0.01M434.6 366h0.01M456.5 347.2h0.01M478.4 328.4h0.01M500.3 308.6h0.01M402.8 423.2h0.01M424.7 408.5h0.01M446.6 393.7h0.01M468.5 384.5h0.01M490.4 372.9h0.01M512.3 361.5h0.01" stroke="#0c0c14" stroke-width="1.65" stroke-linecap="round" fill="none"/>
<path d="M294.8 304.5L294.8 380.4L402.8 436L512.3 380.8M294.8 380.4L292.5 381.6M306.8 386.6L304.5 387.7M318.8 392.8L316.5 393.9M330.8 398.9L328.5 400.1M342.8 405.1L340.5 406.3M354.8 411.3L352.5 412.5M366.8 417.5L364.5 418.6M378.8 423.6L376.5 424.8M390.8 429.8L388.5 431M402.8 436L400.5 437.2M402.8 436L405.1 437.2M424.7 425L427 426.2M446.6 413.9L448.9 415.1M468.5 402.9L470.8 404.1M490.4 391.8L492.7 393M512.3 380.8L514.6 382M294.8 380.4h-2.5M294.8 342.9h-2.5M294.8 305.4h-2.5" stroke="#111" stroke-width="0.9" fill="none"/>
<text x="290.3" y="382.4" font-size="7.3" text-anchor="end">0</text>
<text x="290.3" y="344.9" font-size="7.3" text-anchor="end">50</text>
<text x="290.3" y="307.4" font-size="7.3" text-anchor="end">100</text>
<text x="271" y="391.3" font-size="7.3" text-anchor="middle">0</text>
<text x="281" y="397.1" font-size="7.3" text-anchor="middle">0.02</text>
<text x="294" y="402.9" font-size="7.3" text-anchor="middle">0.04</text>
<text x="307.9" y="409.5" font-size="7.3" text-anchor="middle">0.08</text>
<text x="322.3" y="415.9" font-size="7.3" text-anchor="middle">0.16</text>
<text x="336.1" y="422.2" font-size="7.3" text-anchor="middle">0.31</text>
<text x="350.3" y="428" font-size="7.3" text-anchor="middle">0.63</text>
<text x="365.4" y="434" font-size="7.3" text-anchor="middle">1.25</text>
<text x="376.6" y="440.4" font-size="7.3" text-anchor="middle">2.5</text>
<text x="387.5" y="445.6" font-size="7.3" text-anchor="middle">5</text>
<text x="408.5" y="446.7" font-size="7.3" text-anchor="start">16</text>
<text x="429" y="435.3" font-size="7.3" text-anchor="start">5.33</text>
<text x="450.8" y="424.2" font-size="7.3" text-anchor="start">1.78</text>
<text x="472.6" y="413.5" font-size="7.3" text-anchor="start">0.59</text>
<text x="493.3" y="402.4" font-size="7.3" text-anchor="start">0.20</text>
<text x="514" y="392" font-size="7.3" text-anchor="start">0</text>
<text x="400.5" y="234.6" font-size="8.2" text-anchor="middle" textLength="116" lengthAdjust="spacingAndGlyphs">Synergy mapped to D-R (BLISS)</text>
<text x="401" y="244.7" font-size="8.2" text-anchor="middle" textLength="130" lengthAdjust="spacingAndGlyphs">FK866 vs. olaparib in NCCFH1 + NA</text>
<text x="311.3" y="452.7" font-size="7.9" text-anchor="middle" textLength="54.2" lengthAdjust="spacingAndGlyphs">FK866 (nmol/L)</text>
<text x="489.7" y="454.5" font-size="7.9" text-anchor="middle" textLength="60.6" lengthAdjust="spacingAndGlyphs">olaparib (µmol/L)</text>
<text x="272" y="331.7" font-size="7.9" text-anchor="middle" transform="rotate(-90 272 331.7)" textLength="34" lengthAdjust="spacingAndGlyphs">% Control</text>
</g>
<g>
<path d="M147.1 604.6L241 559.4M157.5 609.7L251.4 564.5M167.8 614.8L261.7 569.6M178.2 619.9L272.1 574.7M188.5 625L282.4 579.8M198.9 630.2L292.8 585M209.2 635.3L303.1 590.1M219.6 640.4L313.5 595.2M229.9 645.5L323.8 600.3M240.3 650.6L334.2 605.4M147.1 604.6L240.3 650.6M165.9 595.6L259.1 641.6M184.7 586.5L277.9 632.5M203.4 577.5L296.6 623.5M222.2 568.4L315.4 614.4M241 559.4L334.2 605.4M147.1 604.6L147.1 537.6M165.9 595.6L165.9 528.6M184.7 586.5L184.7 519.5M203.4 577.5L203.4 510.5M222.2 568.4L222.2 501.4M241 559.4L241 492.4M241 559.4L241 492.4M251.4 564.5L251.4 497.5M261.7 569.6L261.7 502.6M272.1 574.7L272.1 507.7M282.4 579.8L282.4 512.8M292.8 585L292.8 518M303.1 590.1L303.1 523.1M313.5 595.2L313.5 528.2M323.8 600.3L323.8 533.3M334.2 605.4L334.2 538.4M147.1 604.6L241 559.4M241 559.4L334.2 605.4M147.1 571.2L241 526M241 526L334.2 572M147.1 537.8L241 492.6M241 492.6L334.2 538.6" stroke="#bfbfbf" stroke-width="0.6" fill="none"/>
<path d="M222.2 519L227.4 523.2L236.8 509.9L231.6 505.5ZM231.6 505.5L236.8 509.9L246.2 496.5L241 491.9ZM203.4 540.1L208.6 543.5L218 533.3L212.8 529.5ZM212.8 529.5L218 533.3L227.4 523.2L222.2 519ZM184.7 559.6L189.8 563.8L199.2 553.6L194 549.8ZM194 549.8L199.2 553.6L208.6 543.5L203.4 540.1ZM283.7 540.6L287.2 543L293.4 532.8L290 531ZM175.3 568.4L180.4 572L189.8 563.8L184.7 559.6ZM250 566.8L255.2 570.2L264.6 558.7L259.4 556.3ZM259.4 556.3L264.6 558.7L274 547.2L268.8 545.8ZM300.3 536L303.8 537.5L310 527.2L306.6 525.4ZM303.8 537.5L307.2 539L313.5 528.9L310 527.2ZM231.3 587.1L236.4 590.4L245.8 580.3L240.6 577ZM240.6 577L245.8 580.3L255.2 570.2L250 566.8ZM217.7 604.2L222.8 607.1L232.2 599.9L227 597.3ZM227 597.3L232.2 599.9L241.6 592.8L236.4 590.4ZM222.8 607.1L228 609.9L237.4 602.5L232.2 599.9ZM232.2 599.9L237.4 602.5L246.8 595.1L241.6 592.8ZM228 609.9L233.2 612.3L242.6 605.1L237.4 602.5ZM233.2 612.3L238.4 614.6L247.8 607.7L242.6 605.1ZM213.4 612.5L218.6 615.2L228 609.9L222.8 607.1ZM238.4 614.6L243.5 617L252.9 610.2L247.8 607.7ZM243.5 617L248.7 619.4L258.1 612.8L252.9 610.2ZM218.6 615.2L223.8 617.7L233.2 612.3L228 609.9ZM223.8 617.7L229 620.2L238.4 614.6L233.2 612.3ZM248.7 619.4L253.9 622.3L263.3 615.5L258.1 612.8ZM253.9 622.3L259.1 625.1L268.5 618.2L263.3 615.5ZM229 620.2L234.2 622.6L243.5 617L238.4 614.6ZM234.2 622.6L239.3 625.1L248.7 619.4L243.5 617ZM239.3 625.1L244.5 627.8L253.9 622.3L248.7 619.4ZM244.5 627.8L249.7 630.5L259.1 625.1L253.9 622.3Z" fill="#b4ff97" stroke="#b4ff97" stroke-width="0.5"/>
<path d="M227.4 523.2L232.6 527.5L242 514.3L236.8 509.9ZM236.8 509.9L242 514.3L251.4 501.1L246.2 496.5ZM208.6 543.5L213.8 546.9L223.2 537.2L218 533.3ZM218 533.3L223.2 537.2L232.6 527.5L227.4 523.2ZM189.8 563.8L195 568.1L204.4 557.5L199.2 553.6ZM199.2 553.6L204.4 557.5L213.8 546.9L208.6 543.5ZM268.8 545.8L274 547.2L283.4 533.7L278.2 530.9ZM195 568.1L200.2 570L209.6 559.3L204.4 557.5ZM280.3 538.2L283.7 540.6L290 531L286.5 529.2ZM293.4 532.8L296.9 534.6L303.1 523.7L299.7 522.5ZM165.9 577.1L171.1 580.1L180.4 572L175.3 568.4ZM171.1 580.1L176.2 583L185.6 575.5L180.4 572ZM180.4 572L185.6 575.5L195 568.1L189.8 563.8ZM296.9 534.6L300.3 536L306.6 525.4L303.1 523.7ZM176.2 583L181.4 585.6L190.8 577.8L185.6 575.5ZM185.6 575.5L190.8 577.8L200.2 570L195 568.1ZM156.5 582.9L161.7 585.7L171.1 580.1L165.9 577.1ZM161.7 585.7L166.8 588.4L176.2 583L171.1 580.1ZM166.8 588.4L172 590.9L181.4 585.6L176.2 583ZM207.3 598.6L212.5 601.4L221.9 594.3L216.7 591.2ZM216.7 591.2L221.9 594.3L231.3 587.1L226.1 583.9ZM212.5 601.4L217.7 604.2L227 597.3L221.9 594.3ZM221.9 594.3L227 597.3L236.4 590.4L231.3 587.1ZM192.7 601.3L197.9 604.3L207.3 598.6L202.1 595.6ZM197.9 604.3L203.1 607L212.5 601.4L207.3 598.6ZM193.7 612.5L198.9 615.2L208.3 609.7L203.1 607ZM203.1 607L208.3 609.7L217.7 604.2L212.5 601.4ZM198.9 615.2L204.1 617.9L213.4 612.5L208.3 609.7ZM208.3 609.7L213.4 612.5L222.8 607.1L217.7 604.2ZM204.1 617.9L209.2 620.6L218.6 615.2L213.4 612.5ZM209.2 620.6L214.4 623.1L223.8 617.7L218.6 615.2ZM214.4 623.1L219.6 625.7L229 620.2L223.8 617.7ZM219.6 625.7L224.8 628.2L234.2 622.6L229 620.2ZM224.8 628.2L229.9 630.8L239.3 625.1L234.2 622.6ZM229.9 630.8L235.1 633.3L244.5 627.8L239.3 625.1ZM235.1 633.3L240.3 635.9L249.7 630.5L244.5 627.8Z" fill="#b9ff8d" stroke="#b9ff8d" stroke-width="0.5"/>
<path d="M232.6 527.5L237.8 527.7L247.1 514.9L242 514.3ZM242 514.3L247.1 514.9L256.5 502.1L251.4 501.1ZM237.8 527.7L242.9 528L252.3 515.6L247.1 514.9ZM247.1 514.9L252.3 515.6L261.7 503.1L256.5 502.1ZM213.8 546.9L219 548.6L228.4 538.2L223.2 537.2ZM223.2 537.2L228.4 538.2L237.8 527.7L232.6 527.5ZM263.6 544.3L268.8 545.8L278.2 530.9L273 528ZM278.2 530.9L283.4 533.7L292.8 520.2L287.6 515.9ZM204.4 557.5L209.6 559.3L219 548.6L213.8 546.9ZM200.2 570L205.4 571.9L214.8 561.1L209.6 559.3ZM286.5 529.2L290 531L296.2 521.3L292.8 520.2ZM290 531L293.4 532.8L299.7 522.5L296.2 521.3ZM254.3 553.9L259.4 556.3L268.8 545.8L263.6 544.3ZM181.4 585.6L186.6 588.1L196 580L190.8 577.8ZM190.8 577.8L196 580L205.4 571.9L200.2 570ZM147.1 588.8L152.3 591.2L161.7 585.7L156.5 582.9ZM152.3 591.2L157.5 593.7L166.8 588.4L161.7 585.7ZM186.6 588.1L191.8 590.3L201.2 582.5L196 580ZM196 580L201.2 582.5L210.5 574.7L205.4 571.9ZM191.8 590.3L196.9 592.5L206.3 585L201.2 582.5ZM226.1 583.9L231.3 587.1L240.6 577L235.5 573.6ZM235.5 573.6L240.6 577L250 566.8L244.9 563.4ZM157.5 593.7L162.6 596.2L172 590.9L166.8 588.4ZM162.6 596.2L167.8 598.8L177.2 593.4L172 590.9ZM172 590.9L177.2 593.4L186.6 588.1L181.4 585.6ZM196.9 592.5L202.1 595.6L211.5 588.1L206.3 585ZM206.3 585L211.5 588.1L220.9 580.7L215.7 577.5ZM202.1 595.6L207.3 598.6L216.7 591.2L211.5 588.1ZM211.5 588.1L216.7 591.2L226.1 583.9L220.9 580.7ZM167.8 598.8L173 601.5L182.4 595.9L177.2 593.4ZM177.2 593.4L182.4 595.9L191.8 590.3L186.6 588.1ZM173 601.5L178.2 604.2L187.6 598.4L182.4 595.9ZM182.4 595.9L187.6 598.4L196.9 592.5L191.8 590.3ZM178.2 604.2L183.3 607.1L192.7 601.3L187.6 598.4ZM187.6 598.4L192.7 601.3L202.1 595.6L196.9 592.5ZM183.3 607.1L188.5 609.9L197.9 604.3L192.7 601.3ZM188.5 609.9L193.7 612.5L203.1 607L197.9 604.3Z" fill="#beff83" stroke="#beff83" stroke-width="0.5"/>
<path d="M242.9 528L248.1 532.5L257.5 519.1L252.3 515.6ZM252.3 515.6L257.5 519.1L266.9 505.7L261.7 503.1ZM219 548.6L224.2 550.3L233.5 539.2L228.4 538.2ZM228.4 538.2L233.5 539.2L242.9 528L237.8 527.7ZM273 528L278.2 530.9L287.6 515.9L282.4 511.7ZM209.6 559.3L214.8 561.1L224.2 550.3L219 548.6ZM205.4 571.9L208.8 573.8L215.1 566.2L211.6 564.7ZM211.6 564.7L215.1 566.2L221.3 558.7L217.9 557.5ZM208.8 573.8L212.3 575.7L218.5 567.7L215.1 566.2ZM244.9 563.4L250 566.8L259.4 556.3L254.3 553.9ZM219.2 579.6L222.6 581.7L228.9 574.4L225.4 571.9ZM222.6 581.7L226.1 583.9L232.3 577L228.9 574.4ZM228.9 574.4L232.3 577L238.6 570.2L235.2 567.1ZM201.2 582.5L206.3 585L215.7 577.5L210.5 574.7Z" fill="#c3ff79" stroke="#c3ff79" stroke-width="0.5"/>
<path d="M248.1 532.5L253.3 537L262.7 522.7L257.5 519.1ZM257.5 519.1L262.7 522.7L272.1 508.3L266.9 505.7ZM253.3 537L258.5 540.7L267.9 525.3L262.7 522.7ZM262.7 522.7L267.9 525.3L277.2 510L272.1 508.3ZM258.5 540.7L263.6 544.3L273 528L267.9 525.3ZM267.9 525.3L273 528L282.4 511.7L277.2 510ZM233.5 539.2L238.7 542L248.1 532.5L242.9 528ZM249.1 549.4L254.3 553.9L263.6 544.3L258.5 540.7ZM217.9 557.5L221.3 558.7L227.6 551.1L224.2 550.3ZM215.1 566.2L218.5 567.7L224.8 559.8L221.3 558.7ZM212.3 575.7L215.7 577.5L222 569.3L218.5 567.7ZM215.7 577.5L219.2 579.6L225.4 571.9L222 569.3ZM225.4 571.9L228.9 574.4L235.2 567.1L231.7 564.1ZM235.2 567.1L238.6 570.2L244.9 563.4L241.4 559.8Z" fill="#c8ff6f" stroke="#c8ff6f" stroke-width="0.5"/>
<path d="M224.2 550.3L229.3 551.5L238.7 542L233.5 539.2ZM238.7 542L243.9 544.9L253.3 537L248.1 532.5ZM243.9 544.9L249.1 549.4L258.5 540.7L253.3 537ZM239.7 558.1L244.9 563.4L254.3 553.9L249.1 549.4ZM221.3 558.7L224.8 559.8L231.1 551.9L227.6 551.1ZM218.5 567.7L222 569.3L228.2 561L224.8 559.8ZM222 569.3L225.4 571.9L231.7 564.1L228.2 561ZM231.7 564.1L235.2 567.1L241.4 559.8L238 556.3Z" fill="#ceff64" stroke="#ceff64" stroke-width="0.5"/>
<path d="M229.3 551.5L234.5 552.7L243.9 544.9L238.7 542ZM234.5 552.7L239.7 558.1L249.1 549.4L243.9 544.9Z" fill="#d4ff5b" stroke="#d4ff5b" stroke-width="0.5"/>
<path d="M274 547.2L277.4 550.3L283.7 540.6L280.3 538.2ZM287.2 543L290.6 545.5L296.9 534.6L293.4 532.8ZM290.6 545.5L294.1 546.7L300.3 536L296.9 534.6ZM294.1 546.7L297.5 547.9L303.8 537.5L300.3 536ZM297.5 547.9L301 549.1L307.2 539L303.8 537.5ZM304.1 544L309.3 548.2L318.7 533.8L313.5 528.9ZM309.3 548.2L314.5 552.4L323.8 538.6L318.7 533.8ZM314.5 552.4L319.6 554.6L329 540.4L323.8 538.6ZM319.6 554.6L324.8 556.8L334.2 542.2L329 540.4ZM236.4 590.4L241.6 592.8L251 582.3L245.8 580.3ZM245.8 580.3L251 582.3L260.4 571.8L255.2 570.2ZM241.6 592.8L246.8 595.1L256.2 584.3L251 582.3ZM257.1 600.8L262.3 603.4L271.7 593.4L266.5 590.9ZM262.3 603.4L267.5 606.1L276.9 595.9L271.7 593.4ZM237.4 602.5L242.6 605.1L252 598L246.8 595.1ZM242.6 605.1L247.8 607.7L257.1 600.8L252 598ZM267.5 606.1L272.7 608.7L282.1 598.8L276.9 595.9ZM272.7 608.7L277.9 611.3L287.2 601.7L282.1 598.8ZM247.8 607.7L252.9 610.2L262.3 603.4L257.1 600.8ZM252.9 610.2L258.1 612.8L267.5 606.1L262.3 603.4ZM258.1 612.8L263.3 615.5L272.7 608.7L267.5 606.1ZM263.3 615.5L268.5 618.2L277.9 611.3L272.7 608.7Z" fill="#b0ffa2" stroke="#b0ffa2" stroke-width="0.5"/>
<path d="M277.4 550.3L280.9 553.3L287.2 543L283.7 540.6ZM255.2 570.2L260.4 571.8L269.8 561.8L264.6 558.7ZM264.6 558.7L269.8 561.8L279.2 551.8L274 547.2ZM294.7 559.1L299.9 562.6L309.3 548.2L304.1 544ZM299.9 562.6L305.1 566.1L314.5 552.4L309.3 548.2ZM305.1 566.1L310.2 568.7L319.6 554.6L314.5 552.4ZM310.2 568.7L315.4 571.4L324.8 556.8L319.6 554.6ZM251 582.3L256.2 584.3L265.6 573.4L260.4 571.8ZM281.1 583.3L286.3 585.6L295.7 575.9L290.5 573ZM290.5 573L295.7 575.9L305.1 566.1L299.9 562.6ZM246.8 595.1L252 598L261.4 587.6L256.2 584.3ZM256.2 584.3L261.4 587.6L270.8 577.2L265.6 573.4ZM252 598L257.1 600.8L266.5 590.9L261.4 587.6ZM261.4 587.6L266.5 590.9L275.9 580.9L270.8 577.2ZM286.3 585.6L291.5 588.9L300.9 578.8L295.7 575.9ZM295.7 575.9L300.9 578.8L310.2 568.7L305.1 566.1ZM291.5 588.9L296.6 592.1L306 581.7L300.9 578.8ZM300.9 578.8L306 581.7L315.4 571.4L310.2 568.7ZM266.5 590.9L271.7 593.4L281.1 583.3L275.9 580.9ZM271.7 593.4L276.9 595.9L286.3 585.6L281.1 583.3ZM276.9 595.9L282.1 598.8L291.5 588.9L286.3 585.6ZM282.1 598.8L287.2 601.7L296.6 592.1L291.5 588.9Z" fill="#abffad" stroke="#abffad" stroke-width="0.5"/>
<path d="M280.9 553.3L284.4 556.4L290.6 545.5L287.2 543ZM284.4 556.4L287.8 557.3L294.1 546.7L290.6 545.5ZM287.8 557.3L291.3 558.2L297.5 547.9L294.1 546.7ZM291.3 558.2L294.7 559.1L301 549.1L297.5 547.9ZM260.4 571.8L265.6 573.4L275 564.9L269.8 561.8ZM269.8 561.8L275 564.9L284.4 556.4L279.2 551.8ZM265.6 573.4L270.8 577.2L280.1 567.5L275 564.9ZM270.8 577.2L275.9 580.9L285.3 570L280.1 567.5ZM280.1 567.5L285.3 570L294.7 559.1L289.5 557.7ZM275.9 580.9L281.1 583.3L290.5 573L285.3 570ZM285.3 570L290.5 573L299.9 562.6L294.7 559.1Z" fill="#a8ffb7" stroke="#a8ffb7" stroke-width="0.5"/>
<path d="M224.8 559.8L228.2 561L234.5 552.7L231.1 551.9ZM228.2 561L231.7 564.1L238 556.3L234.5 552.7Z" fill="#daff51" stroke="#daff51" stroke-width="0.5"/>
<path d="M275 564.9L280.1 567.5L289.5 557.7L284.4 556.4Z" fill="#a4ffc1" stroke="#a4ffc1" stroke-width="0.5"/>
<path d="M147.1 588.8L165.9 577.1L184.7 559.6L203.4 540.1L222.2 519L241 491.9M157.5 593.7L176.2 583L195 568.1L213.8 546.9L232.6 527.5L251.4 501.1M167.8 598.8L186.6 588.1L205.4 571.9L224.2 550.3L242.9 528L261.7 503.1M178.2 604.2L196.9 592.5L215.7 577.5L234.5 552.7L253.3 537L272.1 508.3M188.5 609.9L207.3 598.6L226.1 583.9L244.9 563.4L263.6 544.3L282.4 511.7M198.9 615.2L217.7 604.2L236.4 590.4L255.2 570.2L274 547.2L292.8 520.2M209.2 620.6L228 609.9L246.8 595.1L265.6 573.4L284.4 556.4L303.1 523.7M219.6 625.7L238.4 614.6L257.1 600.8L275.9 580.9L294.7 559.1L313.5 528.9M229.9 630.8L248.7 619.4L267.5 606.1L286.3 585.6L305.1 566.1L323.8 538.6M240.3 635.9L259.1 625.1L277.9 611.3L296.6 592.1L315.4 571.4L334.2 542.2M147.1 588.8L157.5 593.7L167.8 598.8L178.2 604.2L188.5 609.9L198.9 615.2L209.2 620.6L219.6 625.7L229.9 630.8L240.3 635.9M165.9 577.1L176.2 583L186.6 588.1L196.9 592.5L207.3 598.6L217.7 604.2L228 609.9L238.4 614.6L248.7 619.4L259.1 625.1M184.7 559.6L195 568.1L205.4 571.9L215.7 577.5L226.1 583.9L236.4 590.4L246.8 595.1L257.1 600.8L267.5 606.1L277.9 611.3M203.4 540.1L213.8 546.9L224.2 550.3L234.5 552.7L244.9 563.4L255.2 570.2L265.6 573.4L275.9 580.9L286.3 585.6L296.6 592.1M222.2 519L232.6 527.5L242.9 528L253.3 537L263.6 544.3L274 547.2L284.4 556.4L294.7 559.1L305.1 566.1L315.4 571.4M241 491.9L251.4 501.1L261.7 503.1L272.1 508.3L282.4 511.7L292.8 520.2L303.1 523.7L313.5 528.9L323.8 538.6L334.2 542.2" stroke="#dadaea" stroke-width="1.25" fill="none" stroke-linejoin="round"/>
<path d="M147.1 588.8h0.01M165.9 577.1h0.01M184.7 559.6h0.01M203.4 540.1h0.01M222.2 519h0.01M241 491.9h0.01M157.5 593.7h0.01M176.2 583h0.01M195 568.1h0.01M213.8 546.9h0.01M232.6 527.5h0.01M251.4 501.1h0.01M167.8 598.8h0.01M186.6 588.1h0.01M205.4 571.9h0.01M224.2 550.3h0.01M242.9 528h0.01M261.7 503.1h0.01M178.2 604.2h0.01M196.9 592.5h0.01M215.7 577.5h0.01M234.5 552.7h0.01M253.3 537h0.01M272.1 508.3h0.01M188.5 609.9h0.01M207.3 598.6h0.01M226.1 583.9h0.01M244.9 563.4h0.01M263.6 544.3h0.01M282.4 511.7h0.01M198.9 615.2h0.01M217.7 604.2h0.01M236.4 590.4h0.01M255.2 570.2h0.01M274 547.2h0.01M292.8 520.2h0.01M209.2 620.6h0.01M228 609.9h0.01M246.8 595.1h0.01M265.6 573.4h0.01M284.4 556.4h0.01M303.1 523.7h0.01M219.6 625.7h0.01M238.4 614.6h0.01M257.1 600.8h0.01M275.9 580.9h0.01M294.7 559.1h0.01M313.5 528.9h0.01M229.9 630.8h0.01M248.7 619.4h0.01M267.5 606.1h0.01M286.3 585.6h0.01M305.1 566.1h0.01M323.8 538.6h0.01M240.3 635.9h0.01M259.1 625.1h0.01M277.9 611.3h0.01M296.6 592.1h0.01M315.4 571.4h0.01M334.2 542.2h0.01" stroke="#0c0c14" stroke-width="1.65" stroke-linecap="round" fill="none"/>
<path d="M147.1 537.6L147.1 604.6L240.3 650.6L334.2 605.4M147.1 604.6L144.8 605.7M157.5 609.7L155.1 610.8M167.8 614.8L165.5 615.9M178.2 619.9L175.8 621.1M188.5 625L186.2 626.2M198.9 630.2L196.5 631.3M209.2 635.3L206.9 636.4M219.6 640.4L217.2 641.5M229.9 645.5L227.6 646.6M240.3 650.6L238 651.7M240.3 650.6L242.6 651.8M259.1 641.6L261.4 642.7M277.9 632.5L280.2 633.7M296.6 623.5L299 624.6M315.4 614.4L317.8 615.6M334.2 605.4L336.5 606.6M147.1 604.6h-2.5M147.1 571.2h-2.5M147.1 537.8h-2.5" stroke="#111" stroke-width="0.9" fill="none"/>
<text x="142.6" y="606.6" font-size="7.4" text-anchor="end">0</text>
<text x="142.6" y="573.2" font-size="7.4" text-anchor="end">50</text>
<text x="142.6" y="539.8" font-size="7.4" text-anchor="end">100</text>
<text x="129.9" y="614.7" font-size="6.7" text-anchor="middle">0</text>
<text x="135.2" y="619.9" font-size="6.7" text-anchor="middle">0.16</text>
<text x="147.5" y="624.8" font-size="6.7" text-anchor="middle">0.31</text>
<text x="159.9" y="630" font-size="6.7" text-anchor="middle">0.62</text>
<text x="172.8" y="635.8" font-size="6.7" text-anchor="middle">1.25</text>
<text x="182.7" y="641" font-size="6.7" text-anchor="middle">2.5</text>
<text x="192" y="646.4" font-size="6.7" text-anchor="middle">5</text>
<text x="202.6" y="651.6" font-size="6.7" text-anchor="middle">10</text>
<text x="212.5" y="656.5" font-size="6.7" text-anchor="middle">20</text>
<text x="222.6" y="661.7" font-size="6.7" text-anchor="middle">40</text>
<text x="245.3" y="661.7" font-size="6.7" text-anchor="start">20</text>
<text x="262.6" y="652.5" font-size="6.7" text-anchor="start">6.67</text>
<text x="281.9" y="643" font-size="6.7" text-anchor="start">2.22</text>
<text x="300.7" y="633.7" font-size="6.7" text-anchor="start">0.74</text>
<text x="319.4" y="624.8" font-size="6.7" text-anchor="start">0.25</text>
<text x="337.6" y="615" font-size="6.7" text-anchor="start">0</text>
<text x="237.2" y="477.4" font-size="8.2" text-anchor="middle" textLength="115" lengthAdjust="spacingAndGlyphs">Synergy mapped to D-R (BLISS)</text>
<text x="237.6" y="487.2" font-size="8.2" text-anchor="middle" textLength="128" lengthAdjust="spacingAndGlyphs">FK866 vs. olaparib in UOK262 + NA</text>
<text x="167.7" y="664.4" font-size="7.9" text-anchor="middle" textLength="54.8" lengthAdjust="spacingAndGlyphs">FK866 (nmol/L)</text>
<text x="310.8" y="663.6" font-size="7.9" text-anchor="middle" textLength="60.5" lengthAdjust="spacingAndGlyphs">Olaparib (µmol/L)</text>
<text x="126" y="571" font-size="7.9" text-anchor="middle" transform="rotate(-90 126 571)" textLength="34.5" lengthAdjust="spacingAndGlyphs">% Control</text>
</g>
<defs><linearGradient id="cb0" x1="0" y1="0" x2="0" y2="1"><stop offset="0%" stop-color="#00007f"/><stop offset="3.1%" stop-color="#00009f"/><stop offset="6.2%" stop-color="#0000bf"/><stop offset="9.4%" stop-color="#0000df"/><stop offset="12.5%" stop-color="#0000ff"/><stop offset="15.6%" stop-color="#001fff"/><stop offset="18.8%" stop-color="#003fff"/><stop offset="21.9%" stop-color="#005fff"/><stop offset="25%" stop-color="#007fff"/><stop offset="28.1%" stop-color="#009fff"/><stop offset="31.2%" stop-color="#00bfff"/><stop offset="34.4%" stop-color="#00dfff"/><stop offset="37.5%" stop-color="#00ffff"/><stop offset="40.6%" stop-color="#1fffdf"/><stop offset="43.8%" stop-color="#3fffbf"/><stop offset="46.9%" stop-color="#5fff9f"/><stop offset="50%" stop-color="#7fff7f"/><stop offset="53.1%" stop-color="#9fff5f"/><stop offset="56.2%" stop-color="#bfff3f"/><stop offset="59.4%" stop-color="#dfff1f"/><stop offset="62.5%" stop-color="#ffff00"/><stop offset="65.6%" stop-color="#ffdf00"/><stop offset="68.8%" stop-color="#ffbf00"/><stop offset="71.9%" stop-color="#ff9f00"/><stop offset="75%" stop-color="#ff7f00"/><stop offset="78.1%" stop-color="#ff5f00"/><stop offset="81.2%" stop-color="#ff3f00"/><stop offset="84.4%" stop-color="#ff1f00"/><stop offset="87.5%" stop-color="#ff0000"/><stop offset="90.6%" stop-color="#df0000"/><stop offset="93.8%" stop-color="#bf0000"/><stop offset="96.9%" stop-color="#9f0000"/><stop offset="100%" stop-color="#7f0000"/></linearGradient></defs>
<rect x="497.2" y="34.1" width="10.2" height="164.6" fill="url(#cb0)" stroke="#111" stroke-width="0.8"/>
<text x="515.3" y="90.5" font-size="6.8" text-anchor="middle" transform="rotate(-90 515.3 90.5)">Synergy</text>
<text x="515.3" y="141.6" font-size="6.8" text-anchor="middle" transform="rotate(-90 515.3 141.6)">Antagonism</text>
<defs><linearGradient id="cb1" x1="0" y1="0" x2="0" y2="1"><stop offset="0%" stop-color="#00007f"/><stop offset="3.1%" stop-color="#00009f"/><stop offset="6.2%" stop-color="#0000bf"/><stop offset="9.4%" stop-color="#0000df"/><stop offset="12.5%" stop-color="#0000ff"/><stop offset="15.6%" stop-color="#001fff"/><stop offset="18.8%" stop-color="#003fff"/><stop offset="21.9%" stop-color="#005fff"/><stop offset="25%" stop-color="#007fff"/><stop offset="28.1%" stop-color="#009fff"/><stop offset="31.2%" stop-color="#00bfff"/><stop offset="34.4%" stop-color="#00dfff"/><stop offset="37.5%" stop-color="#00ffff"/><stop offset="40.6%" stop-color="#1fffdf"/><stop offset="43.8%" stop-color="#3fffbf"/><stop offset="46.9%" stop-color="#5fff9f"/><stop offset="50%" stop-color="#7fff7f"/><stop offset="53.1%" stop-color="#9fff5f"/><stop offset="56.2%" stop-color="#bfff3f"/><stop offset="59.4%" stop-color="#dfff1f"/><stop offset="62.5%" stop-color="#ffff00"/><stop offset="65.6%" stop-color="#ffdf00"/><stop offset="68.8%" stop-color="#ffbf00"/><stop offset="71.9%" stop-color="#ff9f00"/><stop offset="75%" stop-color="#ff7f00"/><stop offset="78.1%" stop-color="#ff5f00"/><stop offset="81.2%" stop-color="#ff3f00"/><stop offset="84.4%" stop-color="#ff1f00"/><stop offset="87.5%" stop-color="#ff0000"/><stop offset="90.6%" stop-color="#df0000"/><stop offset="93.8%" stop-color="#bf0000"/><stop offset="96.9%" stop-color="#9f0000"/><stop offset="100%" stop-color="#7f0000"/></linearGradient></defs>
<rect x="347.9" y="490" width="9.7" height="163" fill="url(#cb1)" stroke="#111" stroke-width="0.8"/>
<text x="366" y="546.5" font-size="7" text-anchor="middle" transform="rotate(-90 366 546.5)">Synergy</text>
<text x="366" y="596.5" font-size="7" text-anchor="middle" transform="rotate(-90 366 596.5)">Antagonism</text>
<text x="0" y="9.6" font-size="10.4" text-anchor="start" font-weight="bold">A</text>
<text x="0.6" y="231.8" font-size="10.4" text-anchor="start" font-weight="bold">B</text>
<text x="266" y="231.8" font-size="10.4" text-anchor="start" font-weight="bold">C</text>
<text x="120.2" y="469.6" font-size="10.4" text-anchor="start" font-weight="bold">D</text>
</svg></body></html>
